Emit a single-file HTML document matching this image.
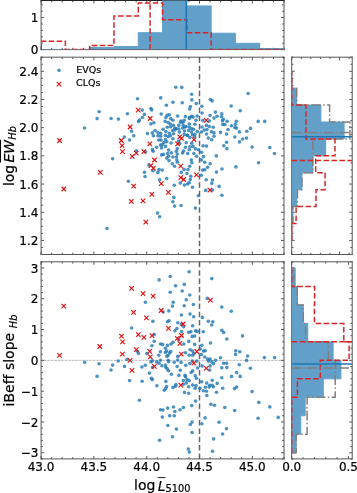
<!DOCTYPE html>
<html><head><meta charset="utf-8"><title>plot</title>
<style>html,body{margin:0;padding:0;background:#fff;overflow:hidden}svg{display:block}svg text{stroke:#000;stroke-width:0.2px}</style>
</head><body>
<svg width="357px" height="493px" viewBox="0 0 357 493" version="1.1">
<defs>
<style type="text/css">*{stroke-linejoin: round; stroke-linecap: butt}</style>
</defs>
<g id="figure_1">
<g id="patch_1">
<path d="M 0 493 
L 357 493 
L 357 0 
L 0 0 
z
" style="fill: #ffffff"/>
</g>
<g id="axes_1">
<g id="patch_2">
<path d="M 41.1 49.6 
L 284 49.6 
L 284 0.5 
L 41.1 0.5 
z
" style="fill: #ffffff"/>
</g>
<g id="matplotlib.axis_1">
<g id="xtick_1">
<g id="line2d_1">
<g>
<path d="M 0 0 L 0 -3" transform="translate(41.10 49.60)" style="fill: #555555; stroke: #555555; stroke: #555555"/>
</g>
</g>
<g id="line2d_2">
<g>
<path d="M 0 0 L 0 3" transform="translate(41.10 0.50)" style="fill: #555555; stroke: #555555; stroke: #555555"/>
</g>
</g>
</g>
<g id="xtick_2">
<g id="line2d_3">
<g>
<path d="M 0 0 L 0 -3" transform="translate(93.90 49.60)" style="fill: #555555; stroke: #555555; stroke: #555555"/>
</g>
</g>
<g id="line2d_4">
<g>
<path d="M 0 0 L 0 3" transform="translate(93.90 0.50)" style="fill: #555555; stroke: #555555; stroke: #555555"/>
</g>
</g>
</g>
<g id="xtick_3">
<g id="line2d_5">
<g>
<path d="M 0 0 L 0 -3" transform="translate(146.71 49.60)" style="fill: #555555; stroke: #555555; stroke: #555555"/>
</g>
</g>
<g id="line2d_6">
<g>
<path d="M 0 0 L 0 3" transform="translate(146.71 0.50)" style="fill: #555555; stroke: #555555; stroke: #555555"/>
</g>
</g>
</g>
<g id="xtick_4">
<g id="line2d_7">
<g>
<path d="M 0 0 L 0 -3" transform="translate(199.51 49.60)" style="fill: #555555; stroke: #555555; stroke: #555555"/>
</g>
</g>
<g id="line2d_8">
<g>
<path d="M 0 0 L 0 3" transform="translate(199.51 0.50)" style="fill: #555555; stroke: #555555; stroke: #555555"/>
</g>
</g>
</g>
<g id="xtick_5">
<g id="line2d_9">
<g>
<path d="M 0 0 L 0 -3" transform="translate(252.32 49.60)" style="fill: #555555; stroke: #555555; stroke: #555555"/>
</g>
</g>
<g id="line2d_10">
<g>
<path d="M 0 0 L 0 3" transform="translate(252.32 0.50)" style="fill: #555555; stroke: #555555; stroke: #555555"/>
</g>
</g>
</g>
<g id="xtick_6">
<g id="line2d_11">
<g>
<path d="M 0 0 L 0 -1.8" transform="translate(51.66 49.60)" style="fill: #555555; stroke: #555555; stroke: #555555"/>
</g>
</g>
<g id="line2d_12">
<g>
<path d="M 0 0 L 0 1.8" transform="translate(51.66 0.50)" style="fill: #555555; stroke: #555555; stroke: #555555"/>
</g>
</g>
</g>
<g id="xtick_7">
<g id="line2d_13">
<g>
<path d="M 0 0 L 0 -1.8" transform="translate(62.22 49.60)" style="fill: #555555; stroke: #555555; stroke: #555555"/>
</g>
</g>
<g id="line2d_14">
<g>
<path d="M 0 0 L 0 1.8" transform="translate(62.22 0.50)" style="fill: #555555; stroke: #555555; stroke: #555555"/>
</g>
</g>
</g>
<g id="xtick_8">
<g id="line2d_15">
<g>
<path d="M 0 0 L 0 -1.8" transform="translate(72.78 49.60)" style="fill: #555555; stroke: #555555; stroke: #555555"/>
</g>
</g>
<g id="line2d_16">
<g>
<path d="M 0 0 L 0 1.8" transform="translate(72.78 0.50)" style="fill: #555555; stroke: #555555; stroke: #555555"/>
</g>
</g>
</g>
<g id="xtick_9">
<g id="line2d_17">
<g>
<path d="M 0 0 L 0 -1.8" transform="translate(83.34 49.60)" style="fill: #555555; stroke: #555555; stroke: #555555"/>
</g>
</g>
<g id="line2d_18">
<g>
<path d="M 0 0 L 0 1.8" transform="translate(83.34 0.50)" style="fill: #555555; stroke: #555555; stroke: #555555"/>
</g>
</g>
</g>
<g id="xtick_10">
<g id="line2d_19">
<g>
<path d="M 0 0 L 0 -1.8" transform="translate(104.47 49.60)" style="fill: #555555; stroke: #555555; stroke: #555555"/>
</g>
</g>
<g id="line2d_20">
<g>
<path d="M 0 0 L 0 1.8" transform="translate(104.47 0.50)" style="fill: #555555; stroke: #555555; stroke: #555555"/>
</g>
</g>
</g>
<g id="xtick_11">
<g id="line2d_21">
<g>
<path d="M 0 0 L 0 -1.8" transform="translate(115.03 49.60)" style="fill: #555555; stroke: #555555; stroke: #555555"/>
</g>
</g>
<g id="line2d_22">
<g>
<path d="M 0 0 L 0 1.8" transform="translate(115.03 0.50)" style="fill: #555555; stroke: #555555; stroke: #555555"/>
</g>
</g>
</g>
<g id="xtick_12">
<g id="line2d_23">
<g>
<path d="M 0 0 L 0 -1.8" transform="translate(125.59 49.60)" style="fill: #555555; stroke: #555555; stroke: #555555"/>
</g>
</g>
<g id="line2d_24">
<g>
<path d="M 0 0 L 0 1.8" transform="translate(125.59 0.50)" style="fill: #555555; stroke: #555555; stroke: #555555"/>
</g>
</g>
</g>
<g id="xtick_13">
<g id="line2d_25">
<g>
<path d="M 0 0 L 0 -1.8" transform="translate(136.15 49.60)" style="fill: #555555; stroke: #555555; stroke: #555555"/>
</g>
</g>
<g id="line2d_26">
<g>
<path d="M 0 0 L 0 1.8" transform="translate(136.15 0.50)" style="fill: #555555; stroke: #555555; stroke: #555555"/>
</g>
</g>
</g>
<g id="xtick_14">
<g id="line2d_27">
<g>
<path d="M 0 0 L 0 -1.8" transform="translate(157.27 49.60)" style="fill: #555555; stroke: #555555; stroke: #555555"/>
</g>
</g>
<g id="line2d_28">
<g>
<path d="M 0 0 L 0 1.8" transform="translate(157.27 0.50)" style="fill: #555555; stroke: #555555; stroke: #555555"/>
</g>
</g>
</g>
<g id="xtick_15">
<g id="line2d_29">
<g>
<path d="M 0 0 L 0 -1.8" transform="translate(167.83 49.60)" style="fill: #555555; stroke: #555555; stroke: #555555"/>
</g>
</g>
<g id="line2d_30">
<g>
<path d="M 0 0 L 0 1.8" transform="translate(167.83 0.50)" style="fill: #555555; stroke: #555555; stroke: #555555"/>
</g>
</g>
</g>
<g id="xtick_16">
<g id="line2d_31">
<g>
<path d="M 0 0 L 0 -1.8" transform="translate(178.39 49.60)" style="fill: #555555; stroke: #555555; stroke: #555555"/>
</g>
</g>
<g id="line2d_32">
<g>
<path d="M 0 0 L 0 1.8" transform="translate(178.39 0.50)" style="fill: #555555; stroke: #555555; stroke: #555555"/>
</g>
</g>
</g>
<g id="xtick_17">
<g id="line2d_33">
<g>
<path d="M 0 0 L 0 -1.8" transform="translate(188.95 49.60)" style="fill: #555555; stroke: #555555; stroke: #555555"/>
</g>
</g>
<g id="line2d_34">
<g>
<path d="M 0 0 L 0 1.8" transform="translate(188.95 0.50)" style="fill: #555555; stroke: #555555; stroke: #555555"/>
</g>
</g>
</g>
<g id="xtick_18">
<g id="line2d_35">
<g>
<path d="M 0 0 L 0 -1.8" transform="translate(210.07 49.60)" style="fill: #555555; stroke: #555555; stroke: #555555"/>
</g>
</g>
<g id="line2d_36">
<g>
<path d="M 0 0 L 0 1.8" transform="translate(210.07 0.50)" style="fill: #555555; stroke: #555555; stroke: #555555"/>
</g>
</g>
</g>
<g id="xtick_19">
<g id="line2d_37">
<g>
<path d="M 0 0 L 0 -1.8" transform="translate(220.63 49.60)" style="fill: #555555; stroke: #555555; stroke: #555555"/>
</g>
</g>
<g id="line2d_38">
<g>
<path d="M 0 0 L 0 1.8" transform="translate(220.63 0.50)" style="fill: #555555; stroke: #555555; stroke: #555555"/>
</g>
</g>
</g>
<g id="xtick_20">
<g id="line2d_39">
<g>
<path d="M 0 0 L 0 -1.8" transform="translate(231.20 49.60)" style="fill: #555555; stroke: #555555; stroke: #555555"/>
</g>
</g>
<g id="line2d_40">
<g>
<path d="M 0 0 L 0 1.8" transform="translate(231.20 0.50)" style="fill: #555555; stroke: #555555; stroke: #555555"/>
</g>
</g>
</g>
<g id="xtick_21">
<g id="line2d_41">
<g>
<path d="M 0 0 L 0 -1.8" transform="translate(241.76 49.60)" style="fill: #555555; stroke: #555555; stroke: #555555"/>
</g>
</g>
<g id="line2d_42">
<g>
<path d="M 0 0 L 0 1.8" transform="translate(241.76 0.50)" style="fill: #555555; stroke: #555555; stroke: #555555"/>
</g>
</g>
</g>
<g id="xtick_22">
<g id="line2d_43">
<g>
<path d="M 0 0 L 0 -1.8" transform="translate(262.88 49.60)" style="fill: #555555; stroke: #555555; stroke: #555555"/>
</g>
</g>
<g id="line2d_44">
<g>
<path d="M 0 0 L 0 1.8" transform="translate(262.88 0.50)" style="fill: #555555; stroke: #555555; stroke: #555555"/>
</g>
</g>
</g>
<g id="xtick_23">
<g id="line2d_45">
<g>
<path d="M 0 0 L 0 -1.8" transform="translate(273.44 49.60)" style="fill: #555555; stroke: #555555; stroke: #555555"/>
</g>
</g>
<g id="line2d_46">
<g>
<path d="M 0 0 L 0 1.8" transform="translate(273.44 0.50)" style="fill: #555555; stroke: #555555; stroke: #555555"/>
</g>
</g>
</g>
<g id="xtick_24">
<g id="line2d_47">
<g>
<path d="M 0 0 L 0 -1.8" transform="translate(284.00 49.60)" style="fill: #555555; stroke: #555555; stroke: #555555"/>
</g>
</g>
<g id="line2d_48">
<g>
<path d="M 0 0 L 0 1.8" transform="translate(284.00 0.50)" style="fill: #555555; stroke: #555555; stroke: #555555"/>
</g>
</g>
</g>
</g>
<g id="matplotlib.axis_2">
<g id="ytick_1">
<g id="line2d_49">
<g>
<path d="M 0 0 L 3 0" transform="translate(41.10 49.60)" style="fill: #555555; stroke: #555555; stroke: #555555"/>
</g>
</g>
<g id="line2d_50">
<g>
<path d="M 0 0 L -3 0" transform="translate(284.00 49.60)" style="fill: #555555; stroke: #555555; stroke: #555555"/>
</g>
</g>
<g id="text_1">
<text style="font-size: 12px; font-family: 'DejaVu Sans', sans-serif; text-anchor: end" x="38.4" y="54.16" transform="rotate(-0 38.4 54.16)">0</text>
</g>
</g>
<g id="ytick_2">
<g id="line2d_51">
<g>
<path d="M 0 0 L 3 0" transform="translate(41.10 17.61)" style="fill: #555555; stroke: #555555; stroke: #555555"/>
</g>
</g>
<g id="line2d_52">
<g>
<path d="M 0 0 L -3 0" transform="translate(284.00 17.61)" style="fill: #555555; stroke: #555555; stroke: #555555"/>
</g>
</g>
<g id="text_2">
<text style="font-size: 12px; font-family: 'DejaVu Sans', sans-serif; text-anchor: end" x="38.4" y="22.17" transform="rotate(-0 38.4 22.17)">1</text>
</g>
</g>
<g id="ytick_3">
<g id="line2d_53">
<g>
<path d="M 0 0 L 1.8 0" transform="translate(41.10 43.20)" style="fill: #555555; stroke: #555555; stroke: #555555"/>
</g>
</g>
<g id="line2d_54">
<g>
<path d="M 0 0 L -1.8 0" transform="translate(284.00 43.20)" style="fill: #555555; stroke: #555555; stroke: #555555"/>
</g>
</g>
</g>
<g id="ytick_4">
<g id="line2d_55">
<g>
<path d="M 0 0 L 1.8 0" transform="translate(41.10 36.81)" style="fill: #555555; stroke: #555555; stroke: #555555"/>
</g>
</g>
<g id="line2d_56">
<g>
<path d="M 0 0 L -1.8 0" transform="translate(284.00 36.81)" style="fill: #555555; stroke: #555555; stroke: #555555"/>
</g>
</g>
</g>
<g id="ytick_5">
<g id="line2d_57">
<g>
<path d="M 0 0 L 1.8 0" transform="translate(41.10 30.41)" style="fill: #555555; stroke: #555555; stroke: #555555"/>
</g>
</g>
<g id="line2d_58">
<g>
<path d="M 0 0 L -1.8 0" transform="translate(284.00 30.41)" style="fill: #555555; stroke: #555555; stroke: #555555"/>
</g>
</g>
</g>
<g id="ytick_6">
<g id="line2d_59">
<g>
<path d="M 0 0 L 1.8 0" transform="translate(41.10 24.01)" style="fill: #555555; stroke: #555555; stroke: #555555"/>
</g>
</g>
<g id="line2d_60">
<g>
<path d="M 0 0 L -1.8 0" transform="translate(284.00 24.01)" style="fill: #555555; stroke: #555555; stroke: #555555"/>
</g>
</g>
</g>
<g id="ytick_7">
<g id="line2d_61">
<g>
<path d="M 0 0 L 1.8 0" transform="translate(41.10 11.22)" style="fill: #555555; stroke: #555555; stroke: #555555"/>
</g>
</g>
<g id="line2d_62">
<g>
<path d="M 0 0 L -1.8 0" transform="translate(284.00 11.22)" style="fill: #555555; stroke: #555555; stroke: #555555"/>
</g>
</g>
</g>
<g id="ytick_8">
<g id="line2d_63">
<g>
<path d="M 0 0 L 1.8 0" transform="translate(41.10 4.82)" style="fill: #555555; stroke: #555555; stroke: #555555"/>
</g>
</g>
<g id="line2d_64">
<g>
<path d="M 0 0 L -1.8 0" transform="translate(284.00 4.82)" style="fill: #555555; stroke: #555555; stroke: #555555"/>
</g>
</g>
</g>
</g>
<g id="patch_3">
<path d="M 41.1 49.6 
L 41.1 0.5 
" style="fill: none; stroke: #555555; stroke-linejoin: miter; stroke-linecap: square"/>
</g>
<g id="patch_4">
<path d="M 284 49.6 
L 284 0.5 
" style="fill: none; stroke: #555555; stroke-linejoin: miter; stroke-linecap: square"/>
</g>
<g id="patch_5">
<path d="M 41.1 49.6 
L 284 49.6 
" style="fill: none; stroke: #555555; stroke-linejoin: miter; stroke-linecap: square"/>
</g>
<g id="patch_6">
<path d="M 41.1 0.5 
L 284 0.5 
" style="fill: none; stroke: #222222; stroke-linejoin: miter; stroke-linecap: square"/>
</g>
<g id="patch_7">
<path d="M 41.1 49.6 
L 41.1 49.6 
L 65.39 49.6 
L 65.39 49.6 
L 89.68 49.6 
L 89.68 47.5 
L 113.97 47.5 
L 113.97 46.5 
L 138.26 46.5 
L 138.26 32.7 
L 162.55 32.7 
L 162.55 -5 
L 186.84 -5 
L 186.84 5.9 
L 211.13 5.9 
L 211.13 33.2 
L 235.42 33.2 
L 235.42 43.3 
L 259.71 43.3 
L 259.71 48.5 
L 284 48.5 
L 284 49.6 
" clip-path="url(#p415a4f59f0)" style="fill: #62a0ca; stroke: #62a0ca; stroke-linejoin: miter"/>
</g>
<g id="patch_8">
<path d="M 41.1 49.6 
L 41.1 41.25 
L 65.39 41.25 
L 65.39 49.6 
L 89.68 49.6 
L 89.68 45.4 
L 113.97 45.4 
L 113.97 16 
L 138.26 16 
L 138.26 3.1 
L 162.55 3.1 
L 162.55 19.7 
L 186.84 19.7 
L 186.84 32.7 
L 211.13 32.7 
L 211.13 49.6 
L 235.42 49.6 
L 235.42 49.6 
L 259.71 49.6 
L 259.71 49.6 
L 284 49.6 
L 284 49.6 
" clip-path="url(#p415a4f59f0)" style="fill: none; stroke-dasharray: 5.55,2.4; stroke-dashoffset: 0; stroke: #d62728; stroke-width: 1.5; stroke-linejoin: miter"/>
</g>
<g id="line2d_65">
<path d="M 186.2 49.6 
L 186.2 0.5 
" clip-path="url(#p415a4f59f0)" style="fill: none; stroke: #1f77b4; stroke-width: 1.5; stroke-linecap: square"/>
</g>
<g id="line2d_66">
<path d="M 150.1 49.6 
L 150.1 0.5 
" clip-path="url(#p415a4f59f0)" style="fill: none; stroke-dasharray: 5.55,2.4; stroke-dashoffset: 0; stroke: #d62728; stroke-width: 1.5"/>
</g>
</g>
<g id="axes_2">
<g id="patch_9">
<path d="M 41.1 254.5 
L 284 254.5 
L 284 57.2 
L 41.1 57.2 
z
" style="fill: #ffffff"/>
</g>
<g id="PathCollection_1">
<path d="M 59 72 
C 59.48 72 59.94 71.81 60.27 71.47 
C 60.61 71.14 60.8 70.68 60.8 70.2 
C 60.8 69.72 60.61 69.26 60.27 68.93 
C 59.94 68.59 59.48 68.4 59 68.4 
C 58.52 68.4 58.06 68.59 57.73 68.93 
C 57.39 69.26 57.2 69.72 57.2 70.2 
C 57.2 70.68 57.39 71.14 57.73 71.47 
C 58.06 71.81 58.52 72 59 72 
z
" clip-path="url(#p4fbd7197ea)" style="fill: #1f77b4; fill-opacity: 0.8"/>
</g>
<g id="PathCollection_2">
<g clip-path="url(#p4fbd7197ea)">
<path d="M -2.24 2.24 L 2.24 -2.24 M -2.24 -2.24 L 2.24 2.24" transform="translate(59.00 84.10)" style="fill: #dd1111; stroke: #dd1111; stroke-width: 1.15; stroke: #dd1111; stroke-width: 1.15"/>
</g>
</g>
<g id="line2d_67">
<path d="M 199.51 254.5 
L 199.51 57.2 
" clip-path="url(#p4fbd7197ea)" style="fill: none; stroke-dasharray: 5.5,2.83; stroke-dashoffset: 0; stroke: #666666; stroke-width: 1.5"/>
</g>
<g id="matplotlib.axis_3">
<g id="xtick_25">
<g id="line2d_68">
<g>
<path d="M 0 0 L 0 -3" transform="translate(41.10 254.50)" style="fill: #555555; stroke: #555555; stroke: #555555"/>
</g>
</g>
<g id="line2d_69">
<g>
<path d="M 0 0 L 0 3" transform="translate(41.10 57.20)" style="fill: #555555; stroke: #555555; stroke: #555555"/>
</g>
</g>
</g>
<g id="xtick_26">
<g id="line2d_70">
<g>
<path d="M 0 0 L 0 -3" transform="translate(93.90 254.50)" style="fill: #555555; stroke: #555555; stroke: #555555"/>
</g>
</g>
<g id="line2d_71">
<g>
<path d="M 0 0 L 0 3" transform="translate(93.90 57.20)" style="fill: #555555; stroke: #555555; stroke: #555555"/>
</g>
</g>
</g>
<g id="xtick_27">
<g id="line2d_72">
<g>
<path d="M 0 0 L 0 -3" transform="translate(146.71 254.50)" style="fill: #555555; stroke: #555555; stroke: #555555"/>
</g>
</g>
<g id="line2d_73">
<g>
<path d="M 0 0 L 0 3" transform="translate(146.71 57.20)" style="fill: #555555; stroke: #555555; stroke: #555555"/>
</g>
</g>
</g>
<g id="xtick_28">
<g id="line2d_74">
<g>
<path d="M 0 0 L 0 -3" transform="translate(199.51 254.50)" style="fill: #555555; stroke: #555555; stroke: #555555"/>
</g>
</g>
<g id="line2d_75">
<g>
<path d="M 0 0 L 0 3" transform="translate(199.51 57.20)" style="fill: #555555; stroke: #555555; stroke: #555555"/>
</g>
</g>
</g>
<g id="xtick_29">
<g id="line2d_76">
<g>
<path d="M 0 0 L 0 -3" transform="translate(252.32 254.50)" style="fill: #555555; stroke: #555555; stroke: #555555"/>
</g>
</g>
<g id="line2d_77">
<g>
<path d="M 0 0 L 0 3" transform="translate(252.32 57.20)" style="fill: #555555; stroke: #555555; stroke: #555555"/>
</g>
</g>
</g>
<g id="xtick_30">
<g id="line2d_78">
<g>
<path d="M 0 0 L 0 -1.8" transform="translate(51.66 254.50)" style="fill: #555555; stroke: #555555; stroke: #555555"/>
</g>
</g>
<g id="line2d_79">
<g>
<path d="M 0 0 L 0 1.8" transform="translate(51.66 57.20)" style="fill: #555555; stroke: #555555; stroke: #555555"/>
</g>
</g>
</g>
<g id="xtick_31">
<g id="line2d_80">
<g>
<path d="M 0 0 L 0 -1.8" transform="translate(62.22 254.50)" style="fill: #555555; stroke: #555555; stroke: #555555"/>
</g>
</g>
<g id="line2d_81">
<g>
<path d="M 0 0 L 0 1.8" transform="translate(62.22 57.20)" style="fill: #555555; stroke: #555555; stroke: #555555"/>
</g>
</g>
</g>
<g id="xtick_32">
<g id="line2d_82">
<g>
<path d="M 0 0 L 0 -1.8" transform="translate(72.78 254.50)" style="fill: #555555; stroke: #555555; stroke: #555555"/>
</g>
</g>
<g id="line2d_83">
<g>
<path d="M 0 0 L 0 1.8" transform="translate(72.78 57.20)" style="fill: #555555; stroke: #555555; stroke: #555555"/>
</g>
</g>
</g>
<g id="xtick_33">
<g id="line2d_84">
<g>
<path d="M 0 0 L 0 -1.8" transform="translate(83.34 254.50)" style="fill: #555555; stroke: #555555; stroke: #555555"/>
</g>
</g>
<g id="line2d_85">
<g>
<path d="M 0 0 L 0 1.8" transform="translate(83.34 57.20)" style="fill: #555555; stroke: #555555; stroke: #555555"/>
</g>
</g>
</g>
<g id="xtick_34">
<g id="line2d_86">
<g>
<path d="M 0 0 L 0 -1.8" transform="translate(104.47 254.50)" style="fill: #555555; stroke: #555555; stroke: #555555"/>
</g>
</g>
<g id="line2d_87">
<g>
<path d="M 0 0 L 0 1.8" transform="translate(104.47 57.20)" style="fill: #555555; stroke: #555555; stroke: #555555"/>
</g>
</g>
</g>
<g id="xtick_35">
<g id="line2d_88">
<g>
<path d="M 0 0 L 0 -1.8" transform="translate(115.03 254.50)" style="fill: #555555; stroke: #555555; stroke: #555555"/>
</g>
</g>
<g id="line2d_89">
<g>
<path d="M 0 0 L 0 1.8" transform="translate(115.03 57.20)" style="fill: #555555; stroke: #555555; stroke: #555555"/>
</g>
</g>
</g>
<g id="xtick_36">
<g id="line2d_90">
<g>
<path d="M 0 0 L 0 -1.8" transform="translate(125.59 254.50)" style="fill: #555555; stroke: #555555; stroke: #555555"/>
</g>
</g>
<g id="line2d_91">
<g>
<path d="M 0 0 L 0 1.8" transform="translate(125.59 57.20)" style="fill: #555555; stroke: #555555; stroke: #555555"/>
</g>
</g>
</g>
<g id="xtick_37">
<g id="line2d_92">
<g>
<path d="M 0 0 L 0 -1.8" transform="translate(136.15 254.50)" style="fill: #555555; stroke: #555555; stroke: #555555"/>
</g>
</g>
<g id="line2d_93">
<g>
<path d="M 0 0 L 0 1.8" transform="translate(136.15 57.20)" style="fill: #555555; stroke: #555555; stroke: #555555"/>
</g>
</g>
</g>
<g id="xtick_38">
<g id="line2d_94">
<g>
<path d="M 0 0 L 0 -1.8" transform="translate(157.27 254.50)" style="fill: #555555; stroke: #555555; stroke: #555555"/>
</g>
</g>
<g id="line2d_95">
<g>
<path d="M 0 0 L 0 1.8" transform="translate(157.27 57.20)" style="fill: #555555; stroke: #555555; stroke: #555555"/>
</g>
</g>
</g>
<g id="xtick_39">
<g id="line2d_96">
<g>
<path d="M 0 0 L 0 -1.8" transform="translate(167.83 254.50)" style="fill: #555555; stroke: #555555; stroke: #555555"/>
</g>
</g>
<g id="line2d_97">
<g>
<path d="M 0 0 L 0 1.8" transform="translate(167.83 57.20)" style="fill: #555555; stroke: #555555; stroke: #555555"/>
</g>
</g>
</g>
<g id="xtick_40">
<g id="line2d_98">
<g>
<path d="M 0 0 L 0 -1.8" transform="translate(178.39 254.50)" style="fill: #555555; stroke: #555555; stroke: #555555"/>
</g>
</g>
<g id="line2d_99">
<g>
<path d="M 0 0 L 0 1.8" transform="translate(178.39 57.20)" style="fill: #555555; stroke: #555555; stroke: #555555"/>
</g>
</g>
</g>
<g id="xtick_41">
<g id="line2d_100">
<g>
<path d="M 0 0 L 0 -1.8" transform="translate(188.95 254.50)" style="fill: #555555; stroke: #555555; stroke: #555555"/>
</g>
</g>
<g id="line2d_101">
<g>
<path d="M 0 0 L 0 1.8" transform="translate(188.95 57.20)" style="fill: #555555; stroke: #555555; stroke: #555555"/>
</g>
</g>
</g>
<g id="xtick_42">
<g id="line2d_102">
<g>
<path d="M 0 0 L 0 -1.8" transform="translate(210.07 254.50)" style="fill: #555555; stroke: #555555; stroke: #555555"/>
</g>
</g>
<g id="line2d_103">
<g>
<path d="M 0 0 L 0 1.8" transform="translate(210.07 57.20)" style="fill: #555555; stroke: #555555; stroke: #555555"/>
</g>
</g>
</g>
<g id="xtick_43">
<g id="line2d_104">
<g>
<path d="M 0 0 L 0 -1.8" transform="translate(220.63 254.50)" style="fill: #555555; stroke: #555555; stroke: #555555"/>
</g>
</g>
<g id="line2d_105">
<g>
<path d="M 0 0 L 0 1.8" transform="translate(220.63 57.20)" style="fill: #555555; stroke: #555555; stroke: #555555"/>
</g>
</g>
</g>
<g id="xtick_44">
<g id="line2d_106">
<g>
<path d="M 0 0 L 0 -1.8" transform="translate(231.20 254.50)" style="fill: #555555; stroke: #555555; stroke: #555555"/>
</g>
</g>
<g id="line2d_107">
<g>
<path d="M 0 0 L 0 1.8" transform="translate(231.20 57.20)" style="fill: #555555; stroke: #555555; stroke: #555555"/>
</g>
</g>
</g>
<g id="xtick_45">
<g id="line2d_108">
<g>
<path d="M 0 0 L 0 -1.8" transform="translate(241.76 254.50)" style="fill: #555555; stroke: #555555; stroke: #555555"/>
</g>
</g>
<g id="line2d_109">
<g>
<path d="M 0 0 L 0 1.8" transform="translate(241.76 57.20)" style="fill: #555555; stroke: #555555; stroke: #555555"/>
</g>
</g>
</g>
<g id="xtick_46">
<g id="line2d_110">
<g>
<path d="M 0 0 L 0 -1.8" transform="translate(262.88 254.50)" style="fill: #555555; stroke: #555555; stroke: #555555"/>
</g>
</g>
<g id="line2d_111">
<g>
<path d="M 0 0 L 0 1.8" transform="translate(262.88 57.20)" style="fill: #555555; stroke: #555555; stroke: #555555"/>
</g>
</g>
</g>
<g id="xtick_47">
<g id="line2d_112">
<g>
<path d="M 0 0 L 0 -1.8" transform="translate(273.44 254.50)" style="fill: #555555; stroke: #555555; stroke: #555555"/>
</g>
</g>
<g id="line2d_113">
<g>
<path d="M 0 0 L 0 1.8" transform="translate(273.44 57.20)" style="fill: #555555; stroke: #555555; stroke: #555555"/>
</g>
</g>
</g>
<g id="xtick_48">
<g id="line2d_114">
<g>
<path d="M 0 0 L 0 -1.8" transform="translate(284.00 254.50)" style="fill: #555555; stroke: #555555; stroke: #555555"/>
</g>
</g>
<g id="line2d_115">
<g>
<path d="M 0 0 L 0 1.8" transform="translate(284.00 57.20)" style="fill: #555555; stroke: #555555; stroke: #555555"/>
</g>
</g>
</g>
</g>
<g id="matplotlib.axis_4">
<g id="ytick_9">
<g id="line2d_116">
<g>
<path d="M 0 0 L 3 0" transform="translate(41.10 240.41)" style="fill: #555555; stroke: #555555; stroke: #555555"/>
</g>
</g>
<g id="line2d_117">
<g>
<path d="M 0 0 L -3 0" transform="translate(284.00 240.41)" style="fill: #555555; stroke: #555555; stroke: #555555"/>
</g>
</g>
<g id="text_3">
<text style="font-size: 12px; font-family: 'DejaVu Sans', sans-serif; text-anchor: end" x="38.4" y="244.97" transform="rotate(-0 38.4 244.97)">1.2</text>
</g>
</g>
<g id="ytick_10">
<g id="line2d_118">
<g>
<path d="M 0 0 L 3 0" transform="translate(41.10 212.22)" style="fill: #555555; stroke: #555555; stroke: #555555"/>
</g>
</g>
<g id="line2d_119">
<g>
<path d="M 0 0 L -3 0" transform="translate(284.00 212.22)" style="fill: #555555; stroke: #555555; stroke: #555555"/>
</g>
</g>
<g id="text_4">
<text style="font-size: 12px; font-family: 'DejaVu Sans', sans-serif; text-anchor: end" x="38.4" y="216.78" transform="rotate(-0 38.4 216.78)">1.4</text>
</g>
</g>
<g id="ytick_11">
<g id="line2d_120">
<g>
<path d="M 0 0 L 3 0" transform="translate(41.10 184.04)" style="fill: #555555; stroke: #555555; stroke: #555555"/>
</g>
</g>
<g id="line2d_121">
<g>
<path d="M 0 0 L -3 0" transform="translate(284.00 184.04)" style="fill: #555555; stroke: #555555; stroke: #555555"/>
</g>
</g>
<g id="text_5">
<text style="font-size: 12px; font-family: 'DejaVu Sans', sans-serif; text-anchor: end" x="38.4" y="188.59" transform="rotate(-0 38.4 188.59)">1.6</text>
</g>
</g>
<g id="ytick_12">
<g id="line2d_122">
<g>
<path d="M 0 0 L 3 0" transform="translate(41.10 155.85)" style="fill: #555555; stroke: #555555; stroke: #555555"/>
</g>
</g>
<g id="line2d_123">
<g>
<path d="M 0 0 L -3 0" transform="translate(284.00 155.85)" style="fill: #555555; stroke: #555555; stroke: #555555"/>
</g>
</g>
<g id="text_6">
<text style="font-size: 12px; font-family: 'DejaVu Sans', sans-serif; text-anchor: end" x="38.4" y="160.41" transform="rotate(-0 38.4 160.41)">1.8</text>
</g>
</g>
<g id="ytick_13">
<g id="line2d_124">
<g>
<path d="M 0 0 L 3 0" transform="translate(41.10 127.66)" style="fill: #555555; stroke: #555555; stroke: #555555"/>
</g>
</g>
<g id="line2d_125">
<g>
<path d="M 0 0 L -3 0" transform="translate(284.00 127.66)" style="fill: #555555; stroke: #555555; stroke: #555555"/>
</g>
</g>
<g id="text_7">
<text style="font-size: 12px; font-family: 'DejaVu Sans', sans-serif; text-anchor: end" x="38.4" y="132.22" transform="rotate(-0 38.4 132.22)">2.0</text>
</g>
</g>
<g id="ytick_14">
<g id="line2d_126">
<g>
<path d="M 0 0 L 3 0" transform="translate(41.10 99.48)" style="fill: #555555; stroke: #555555; stroke: #555555"/>
</g>
</g>
<g id="line2d_127">
<g>
<path d="M 0 0 L -3 0" transform="translate(284.00 99.48)" style="fill: #555555; stroke: #555555; stroke: #555555"/>
</g>
</g>
<g id="text_8">
<text style="font-size: 12px; font-family: 'DejaVu Sans', sans-serif; text-anchor: end" x="38.4" y="104.04" transform="rotate(-0 38.4 104.04)">2.2</text>
</g>
</g>
<g id="ytick_15">
<g id="line2d_128">
<g>
<path d="M 0 0 L 3 0" transform="translate(41.10 71.29)" style="fill: #555555; stroke: #555555; stroke: #555555"/>
</g>
</g>
<g id="line2d_129">
<g>
<path d="M 0 0 L -3 0" transform="translate(284.00 71.29)" style="fill: #555555; stroke: #555555; stroke: #555555"/>
</g>
</g>
<g id="text_9">
<text style="font-size: 12px; font-family: 'DejaVu Sans', sans-serif; text-anchor: end" x="38.4" y="75.85" transform="rotate(-0 38.4 75.85)">2.4</text>
</g>
</g>
<g id="ytick_16">
<g id="line2d_130">
<g>
<path d="M 0 0 L 1.8 0" transform="translate(41.10 254.50)" style="fill: #555555; stroke: #555555; stroke: #555555"/>
</g>
</g>
<g id="line2d_131">
<g>
<path d="M 0 0 L -1.8 0" transform="translate(284.00 254.50)" style="fill: #555555; stroke: #555555; stroke: #555555"/>
</g>
</g>
</g>
<g id="ytick_17">
<g id="line2d_132">
<g>
<path d="M 0 0 L 1.8 0" transform="translate(41.10 247.45)" style="fill: #555555; stroke: #555555; stroke: #555555"/>
</g>
</g>
<g id="line2d_133">
<g>
<path d="M 0 0 L -1.8 0" transform="translate(284.00 247.45)" style="fill: #555555; stroke: #555555; stroke: #555555"/>
</g>
</g>
</g>
<g id="ytick_18">
<g id="line2d_134">
<g>
<path d="M 0 0 L 1.8 0" transform="translate(41.10 233.36)" style="fill: #555555; stroke: #555555; stroke: #555555"/>
</g>
</g>
<g id="line2d_135">
<g>
<path d="M 0 0 L -1.8 0" transform="translate(284.00 233.36)" style="fill: #555555; stroke: #555555; stroke: #555555"/>
</g>
</g>
</g>
<g id="ytick_19">
<g id="line2d_136">
<g>
<path d="M 0 0 L 1.8 0" transform="translate(41.10 226.31)" style="fill: #555555; stroke: #555555; stroke: #555555"/>
</g>
</g>
<g id="line2d_137">
<g>
<path d="M 0 0 L -1.8 0" transform="translate(284.00 226.31)" style="fill: #555555; stroke: #555555; stroke: #555555"/>
</g>
</g>
</g>
<g id="ytick_20">
<g id="line2d_138">
<g>
<path d="M 0 0 L 1.8 0" transform="translate(41.10 219.27)" style="fill: #555555; stroke: #555555; stroke: #555555"/>
</g>
</g>
<g id="line2d_139">
<g>
<path d="M 0 0 L -1.8 0" transform="translate(284.00 219.27)" style="fill: #555555; stroke: #555555; stroke: #555555"/>
</g>
</g>
</g>
<g id="ytick_21">
<g id="line2d_140">
<g>
<path d="M 0 0 L 1.8 0" transform="translate(41.10 205.18)" style="fill: #555555; stroke: #555555; stroke: #555555"/>
</g>
</g>
<g id="line2d_141">
<g>
<path d="M 0 0 L -1.8 0" transform="translate(284.00 205.18)" style="fill: #555555; stroke: #555555; stroke: #555555"/>
</g>
</g>
</g>
<g id="ytick_22">
<g id="line2d_142">
<g>
<path d="M 0 0 L 1.8 0" transform="translate(41.10 198.13)" style="fill: #555555; stroke: #555555; stroke: #555555"/>
</g>
</g>
<g id="line2d_143">
<g>
<path d="M 0 0 L -1.8 0" transform="translate(284.00 198.13)" style="fill: #555555; stroke: #555555; stroke: #555555"/>
</g>
</g>
</g>
<g id="ytick_23">
<g id="line2d_144">
<g>
<path d="M 0 0 L 1.8 0" transform="translate(41.10 191.08)" style="fill: #555555; stroke: #555555; stroke: #555555"/>
</g>
</g>
<g id="line2d_145">
<g>
<path d="M 0 0 L -1.8 0" transform="translate(284.00 191.08)" style="fill: #555555; stroke: #555555; stroke: #555555"/>
</g>
</g>
</g>
<g id="ytick_24">
<g id="line2d_146">
<g>
<path d="M 0 0 L 1.8 0" transform="translate(41.10 176.99)" style="fill: #555555; stroke: #555555; stroke: #555555"/>
</g>
</g>
<g id="line2d_147">
<g>
<path d="M 0 0 L -1.8 0" transform="translate(284.00 176.99)" style="fill: #555555; stroke: #555555; stroke: #555555"/>
</g>
</g>
</g>
<g id="ytick_25">
<g id="line2d_148">
<g>
<path d="M 0 0 L 1.8 0" transform="translate(41.10 169.94)" style="fill: #555555; stroke: #555555; stroke: #555555"/>
</g>
</g>
<g id="line2d_149">
<g>
<path d="M 0 0 L -1.8 0" transform="translate(284.00 169.94)" style="fill: #555555; stroke: #555555; stroke: #555555"/>
</g>
</g>
</g>
<g id="ytick_26">
<g id="line2d_150">
<g>
<path d="M 0 0 L 1.8 0" transform="translate(41.10 162.90)" style="fill: #555555; stroke: #555555; stroke: #555555"/>
</g>
</g>
<g id="line2d_151">
<g>
<path d="M 0 0 L -1.8 0" transform="translate(284.00 162.90)" style="fill: #555555; stroke: #555555; stroke: #555555"/>
</g>
</g>
</g>
<g id="ytick_27">
<g id="line2d_152">
<g>
<path d="M 0 0 L 1.8 0" transform="translate(41.10 148.80)" style="fill: #555555; stroke: #555555; stroke: #555555"/>
</g>
</g>
<g id="line2d_153">
<g>
<path d="M 0 0 L -1.8 0" transform="translate(284.00 148.80)" style="fill: #555555; stroke: #555555; stroke: #555555"/>
</g>
</g>
</g>
<g id="ytick_28">
<g id="line2d_154">
<g>
<path d="M 0 0 L 1.8 0" transform="translate(41.10 141.76)" style="fill: #555555; stroke: #555555; stroke: #555555"/>
</g>
</g>
<g id="line2d_155">
<g>
<path d="M 0 0 L -1.8 0" transform="translate(284.00 141.76)" style="fill: #555555; stroke: #555555; stroke: #555555"/>
</g>
</g>
</g>
<g id="ytick_29">
<g id="line2d_156">
<g>
<path d="M 0 0 L 1.8 0" transform="translate(41.10 134.71)" style="fill: #555555; stroke: #555555; stroke: #555555"/>
</g>
</g>
<g id="line2d_157">
<g>
<path d="M 0 0 L -1.8 0" transform="translate(284.00 134.71)" style="fill: #555555; stroke: #555555; stroke: #555555"/>
</g>
</g>
</g>
<g id="ytick_30">
<g id="line2d_158">
<g>
<path d="M 0 0 L 1.8 0" transform="translate(41.10 120.62)" style="fill: #555555; stroke: #555555; stroke: #555555"/>
</g>
</g>
<g id="line2d_159">
<g>
<path d="M 0 0 L -1.8 0" transform="translate(284.00 120.62)" style="fill: #555555; stroke: #555555; stroke: #555555"/>
</g>
</g>
</g>
<g id="ytick_31">
<g id="line2d_160">
<g>
<path d="M 0 0 L 1.8 0" transform="translate(41.10 113.57)" style="fill: #555555; stroke: #555555; stroke: #555555"/>
</g>
</g>
<g id="line2d_161">
<g>
<path d="M 0 0 L -1.8 0" transform="translate(284.00 113.57)" style="fill: #555555; stroke: #555555; stroke: #555555"/>
</g>
</g>
</g>
<g id="ytick_32">
<g id="line2d_162">
<g>
<path d="M 0 0 L 1.8 0" transform="translate(41.10 106.53)" style="fill: #555555; stroke: #555555; stroke: #555555"/>
</g>
</g>
<g id="line2d_163">
<g>
<path d="M 0 0 L -1.8 0" transform="translate(284.00 106.53)" style="fill: #555555; stroke: #555555; stroke: #555555"/>
</g>
</g>
</g>
<g id="ytick_33">
<g id="line2d_164">
<g>
<path d="M 0 0 L 1.8 0" transform="translate(41.10 92.43)" style="fill: #555555; stroke: #555555; stroke: #555555"/>
</g>
</g>
<g id="line2d_165">
<g>
<path d="M 0 0 L -1.8 0" transform="translate(284.00 92.43)" style="fill: #555555; stroke: #555555; stroke: #555555"/>
</g>
</g>
</g>
<g id="ytick_34">
<g id="line2d_166">
<g>
<path d="M 0 0 L 1.8 0" transform="translate(41.10 85.39)" style="fill: #555555; stroke: #555555; stroke: #555555"/>
</g>
</g>
<g id="line2d_167">
<g>
<path d="M 0 0 L -1.8 0" transform="translate(284.00 85.39)" style="fill: #555555; stroke: #555555; stroke: #555555"/>
</g>
</g>
</g>
<g id="ytick_35">
<g id="line2d_168">
<g>
<path d="M 0 0 L 1.8 0" transform="translate(41.10 78.34)" style="fill: #555555; stroke: #555555; stroke: #555555"/>
</g>
</g>
<g id="line2d_169">
<g>
<path d="M 0 0 L -1.8 0" transform="translate(284.00 78.34)" style="fill: #555555; stroke: #555555; stroke: #555555"/>
</g>
</g>
</g>
<g id="ytick_36">
<g id="line2d_170">
<g>
<path d="M 0 0 L 1.8 0" transform="translate(41.10 64.25)" style="fill: #555555; stroke: #555555; stroke: #555555"/>
</g>
</g>
<g id="line2d_171">
<g>
<path d="M 0 0 L -1.8 0" transform="translate(284.00 64.25)" style="fill: #555555; stroke: #555555; stroke: #555555"/>
</g>
</g>
</g>
<g id="ytick_37">
<g id="line2d_172">
<g>
<path d="M 0 0 L 1.8 0" transform="translate(41.10 57.20)" style="fill: #555555; stroke: #555555; stroke: #555555"/>
</g>
</g>
<g id="line2d_173">
<g>
<path d="M 0 0 L -1.8 0" transform="translate(284.00 57.20)" style="fill: #555555; stroke: #555555; stroke: #555555"/>
</g>
</g>
</g>
<g id="text_10">
<g transform="translate(13.98 186.09) rotate(-90)">
<text>
<tspan x="0" y="-0.33" style="font-size: 14px; font-family: 'DejaVu Sans', sans-serif">l</tspan>
<tspan x="3.89" y="-0.33" style="font-size: 14px; font-family: 'DejaVu Sans', sans-serif">o</tspan>
<tspan x="12.46" y="-0.33" style="font-size: 14px; font-family: 'DejaVu Sans', sans-serif">g</tspan>
<tspan x="23.61" y="0.08" style="font-style: oblique; font-size: 14px; font-family: 'DejaVu Sans', sans-serif">E</tspan>
<tspan x="32.46" y="0.08" style="font-style: oblique; font-size: 14px; font-family: 'DejaVu Sans', sans-serif">W</tspan>
<tspan x="46.44" y="1.97" style="font-style: oblique; font-size: 9.8px; font-family: 'DejaVu Sans', sans-serif">H</tspan>
<tspan x="53.81" y="1.97" style="font-style: oblique; font-size: 9.8px; font-family: 'DejaVu Sans', sans-serif">b</tspan>
</text>
<rect x="23.61" y="-13.95" width="22.69" height="1"/>
</g>
</g>
</g>
<g id="PathCollection_3">
<g clip-path="url(#p4fbd7197ea)">
<circle cx="175.80" cy="87.30" r="1.8" style="fill: #1f77b4; fill-opacity: 0.8"/>
</g>
<g clip-path="url(#p4fbd7197ea)">
<circle cx="181.80" cy="87.40" r="1.8" style="fill: #1f77b4; fill-opacity: 0.8"/>
</g>
<g clip-path="url(#p4fbd7197ea)">
<circle cx="191.70" cy="94.30" r="1.8" style="fill: #1f77b4; fill-opacity: 0.8"/>
</g>
<g clip-path="url(#p4fbd7197ea)">
<circle cx="248.10" cy="93.50" r="1.8" style="fill: #1f77b4; fill-opacity: 0.8"/>
</g>
<g clip-path="url(#p4fbd7197ea)">
<circle cx="99.10" cy="111.80" r="1.8" style="fill: #1f77b4; fill-opacity: 0.8"/>
</g>
<g clip-path="url(#p4fbd7197ea)">
<circle cx="97.10" cy="118.60" r="1.8" style="fill: #1f77b4; fill-opacity: 0.8"/>
</g>
<g clip-path="url(#p4fbd7197ea)">
<circle cx="111.10" cy="118.50" r="1.8" style="fill: #1f77b4; fill-opacity: 0.8"/>
</g>
<g clip-path="url(#p4fbd7197ea)">
<circle cx="118.40" cy="119.10" r="1.8" style="fill: #1f77b4; fill-opacity: 0.8"/>
</g>
<g clip-path="url(#p4fbd7197ea)">
<circle cx="84.50" cy="128.00" r="1.8" style="fill: #1f77b4; fill-opacity: 0.8"/>
</g>
<g clip-path="url(#p4fbd7197ea)">
<circle cx="137.50" cy="98.70" r="1.8" style="fill: #1f77b4; fill-opacity: 0.8"/>
</g>
<g clip-path="url(#p4fbd7197ea)">
<circle cx="160.70" cy="97.90" r="1.8" style="fill: #1f77b4; fill-opacity: 0.8"/>
</g>
<g clip-path="url(#p4fbd7197ea)">
<circle cx="127.40" cy="113.80" r="1.8" style="fill: #1f77b4; fill-opacity: 0.8"/>
</g>
<g clip-path="url(#p4fbd7197ea)">
<circle cx="142.20" cy="110.10" r="1.8" style="fill: #1f77b4; fill-opacity: 0.8"/>
</g>
<g clip-path="url(#p4fbd7197ea)">
<circle cx="150.90" cy="108.50" r="1.8" style="fill: #1f77b4; fill-opacity: 0.8"/>
</g>
<g clip-path="url(#p4fbd7197ea)">
<circle cx="151.70" cy="109.90" r="1.8" style="fill: #1f77b4; fill-opacity: 0.8"/>
</g>
<g clip-path="url(#p4fbd7197ea)">
<circle cx="144.40" cy="114.40" r="1.8" style="fill: #1f77b4; fill-opacity: 0.8"/>
</g>
<g clip-path="url(#p4fbd7197ea)">
<circle cx="161.20" cy="114.00" r="1.8" style="fill: #1f77b4; fill-opacity: 0.8"/>
</g>
<g clip-path="url(#p4fbd7197ea)">
<circle cx="142.40" cy="117.50" r="1.8" style="fill: #1f77b4; fill-opacity: 0.8"/>
</g>
<g clip-path="url(#p4fbd7197ea)">
<circle cx="139.40" cy="120.00" r="1.8" style="fill: #1f77b4; fill-opacity: 0.8"/>
</g>
<g clip-path="url(#p4fbd7197ea)">
<circle cx="138.60" cy="121.40" r="1.8" style="fill: #1f77b4; fill-opacity: 0.8"/>
</g>
<g clip-path="url(#p4fbd7197ea)">
<circle cx="150.90" cy="123.90" r="1.8" style="fill: #1f77b4; fill-opacity: 0.8"/>
</g>
<g clip-path="url(#p4fbd7197ea)">
<circle cx="153.90" cy="122.80" r="1.8" style="fill: #1f77b4; fill-opacity: 0.8"/>
</g>
<g clip-path="url(#p4fbd7197ea)">
<circle cx="131.50" cy="131.20" r="1.8" style="fill: #1f77b4; fill-opacity: 0.8"/>
</g>
<g clip-path="url(#p4fbd7197ea)">
<circle cx="133.80" cy="135.70" r="1.8" style="fill: #1f77b4; fill-opacity: 0.8"/>
</g>
<g clip-path="url(#p4fbd7197ea)">
<circle cx="147.50" cy="133.60" r="1.8" style="fill: #1f77b4; fill-opacity: 0.8"/>
</g>
<g clip-path="url(#p4fbd7197ea)">
<circle cx="124.30" cy="137.00" r="1.8" style="fill: #1f77b4; fill-opacity: 0.8"/>
</g>
<g clip-path="url(#p4fbd7197ea)">
<circle cx="152.30" cy="132.90" r="1.8" style="fill: #1f77b4; fill-opacity: 0.8"/>
</g>
<g clip-path="url(#p4fbd7197ea)">
<circle cx="155.10" cy="130.60" r="1.8" style="fill: #1f77b4; fill-opacity: 0.8"/>
</g>
<g clip-path="url(#p4fbd7197ea)">
<circle cx="157.90" cy="132.60" r="1.8" style="fill: #1f77b4; fill-opacity: 0.8"/>
</g>
<g clip-path="url(#p4fbd7197ea)">
<circle cx="160.70" cy="133.40" r="1.8" style="fill: #1f77b4; fill-opacity: 0.8"/>
</g>
<g clip-path="url(#p4fbd7197ea)">
<circle cx="153.40" cy="135.70" r="1.8" style="fill: #1f77b4; fill-opacity: 0.8"/>
</g>
<g clip-path="url(#p4fbd7197ea)">
<circle cx="157.90" cy="135.70" r="1.8" style="fill: #1f77b4; fill-opacity: 0.8"/>
</g>
<g clip-path="url(#p4fbd7197ea)">
<circle cx="160.70" cy="136.20" r="1.8" style="fill: #1f77b4; fill-opacity: 0.8"/>
</g>
<g clip-path="url(#p4fbd7197ea)">
<circle cx="172.90" cy="102.20" r="1.8" style="fill: #1f77b4; fill-opacity: 0.8"/>
</g>
<g clip-path="url(#p4fbd7197ea)">
<circle cx="166.40" cy="105.30" r="1.8" style="fill: #1f77b4; fill-opacity: 0.8"/>
</g>
<g clip-path="url(#p4fbd7197ea)">
<circle cx="182.30" cy="102.80" r="1.8" style="fill: #1f77b4; fill-opacity: 0.8"/>
</g>
<g clip-path="url(#p4fbd7197ea)">
<circle cx="167.30" cy="115.20" r="1.8" style="fill: #1f77b4; fill-opacity: 0.8"/>
</g>
<g clip-path="url(#p4fbd7197ea)">
<circle cx="169.30" cy="114.80" r="1.8" style="fill: #1f77b4; fill-opacity: 0.8"/>
</g>
<g clip-path="url(#p4fbd7197ea)">
<circle cx="177.70" cy="116.00" r="1.8" style="fill: #1f77b4; fill-opacity: 0.8"/>
</g>
<g clip-path="url(#p4fbd7197ea)">
<circle cx="191.80" cy="99.90" r="1.8" style="fill: #1f77b4; fill-opacity: 0.8"/>
</g>
<g clip-path="url(#p4fbd7197ea)">
<circle cx="196.30" cy="103.60" r="1.8" style="fill: #1f77b4; fill-opacity: 0.8"/>
</g>
<g clip-path="url(#p4fbd7197ea)">
<circle cx="190.40" cy="106.50" r="1.8" style="fill: #1f77b4; fill-opacity: 0.8"/>
</g>
<g clip-path="url(#p4fbd7197ea)">
<circle cx="189.70" cy="109.00" r="1.8" style="fill: #1f77b4; fill-opacity: 0.8"/>
</g>
<g clip-path="url(#p4fbd7197ea)">
<circle cx="201.90" cy="106.20" r="1.8" style="fill: #1f77b4; fill-opacity: 0.8"/>
</g>
<g clip-path="url(#p4fbd7197ea)">
<circle cx="202.00" cy="113.00" r="1.8" style="fill: #1f77b4; fill-opacity: 0.8"/>
</g>
<g clip-path="url(#p4fbd7197ea)">
<circle cx="185.40" cy="116.60" r="1.8" style="fill: #1f77b4; fill-opacity: 0.8"/>
</g>
<g clip-path="url(#p4fbd7197ea)">
<circle cx="191.50" cy="116.30" r="1.8" style="fill: #1f77b4; fill-opacity: 0.8"/>
</g>
<g clip-path="url(#p4fbd7197ea)">
<circle cx="197.10" cy="116.00" r="1.8" style="fill: #1f77b4; fill-opacity: 0.8"/>
</g>
<g clip-path="url(#p4fbd7197ea)">
<circle cx="165.90" cy="117.50" r="1.8" style="fill: #1f77b4; fill-opacity: 0.8"/>
</g>
<g clip-path="url(#p4fbd7197ea)">
<circle cx="170.70" cy="118.60" r="1.8" style="fill: #1f77b4; fill-opacity: 0.8"/>
</g>
<g clip-path="url(#p4fbd7197ea)">
<circle cx="172.90" cy="120.30" r="1.8" style="fill: #1f77b4; fill-opacity: 0.8"/>
</g>
<g clip-path="url(#p4fbd7197ea)">
<circle cx="165.10" cy="121.40" r="1.8" style="fill: #1f77b4; fill-opacity: 0.8"/>
</g>
<g clip-path="url(#p4fbd7197ea)">
<circle cx="168.20" cy="122.60" r="1.8" style="fill: #1f77b4; fill-opacity: 0.8"/>
</g>
<g clip-path="url(#p4fbd7197ea)">
<circle cx="170.40" cy="124.00" r="1.8" style="fill: #1f77b4; fill-opacity: 0.8"/>
</g>
<g clip-path="url(#p4fbd7197ea)">
<circle cx="173.50" cy="125.40" r="1.8" style="fill: #1f77b4; fill-opacity: 0.8"/>
</g>
<g clip-path="url(#p4fbd7197ea)">
<circle cx="167.30" cy="127.30" r="1.8" style="fill: #1f77b4; fill-opacity: 0.8"/>
</g>
<g clip-path="url(#p4fbd7197ea)">
<circle cx="163.10" cy="129.30" r="1.8" style="fill: #1f77b4; fill-opacity: 0.8"/>
</g>
<g clip-path="url(#p4fbd7197ea)">
<circle cx="174.90" cy="128.20" r="1.8" style="fill: #1f77b4; fill-opacity: 0.8"/>
</g>
<g clip-path="url(#p4fbd7197ea)">
<circle cx="180.50" cy="122.30" r="1.8" style="fill: #1f77b4; fill-opacity: 0.8"/>
</g>
<g clip-path="url(#p4fbd7197ea)">
<circle cx="178.80" cy="125.40" r="1.8" style="fill: #1f77b4; fill-opacity: 0.8"/>
</g>
<g clip-path="url(#p4fbd7197ea)">
<circle cx="178.80" cy="129.00" r="1.8" style="fill: #1f77b4; fill-opacity: 0.8"/>
</g>
<g clip-path="url(#p4fbd7197ea)">
<circle cx="165.90" cy="131.50" r="1.8" style="fill: #1f77b4; fill-opacity: 0.8"/>
</g>
<g clip-path="url(#p4fbd7197ea)">
<circle cx="169.30" cy="133.20" r="1.8" style="fill: #1f77b4; fill-opacity: 0.8"/>
</g>
<g clip-path="url(#p4fbd7197ea)">
<circle cx="173.50" cy="133.80" r="1.8" style="fill: #1f77b4; fill-opacity: 0.8"/>
</g>
<g clip-path="url(#p4fbd7197ea)">
<circle cx="179.40" cy="132.10" r="1.8" style="fill: #1f77b4; fill-opacity: 0.8"/>
</g>
<g clip-path="url(#p4fbd7197ea)">
<circle cx="165.40" cy="135.40" r="1.8" style="fill: #1f77b4; fill-opacity: 0.8"/>
</g>
<g clip-path="url(#p4fbd7197ea)">
<circle cx="170.40" cy="135.70" r="1.8" style="fill: #1f77b4; fill-opacity: 0.8"/>
</g>
<g clip-path="url(#p4fbd7197ea)">
<circle cx="189.30" cy="118.40" r="1.8" style="fill: #1f77b4; fill-opacity: 0.8"/>
</g>
<g clip-path="url(#p4fbd7197ea)">
<circle cx="184.20" cy="120.30" r="1.8" style="fill: #1f77b4; fill-opacity: 0.8"/>
</g>
<g clip-path="url(#p4fbd7197ea)">
<circle cx="196.00" cy="120.30" r="1.8" style="fill: #1f77b4; fill-opacity: 0.8"/>
</g>
<g clip-path="url(#p4fbd7197ea)">
<circle cx="194.90" cy="124.20" r="1.8" style="fill: #1f77b4; fill-opacity: 0.8"/>
</g>
<g clip-path="url(#p4fbd7197ea)">
<circle cx="189.30" cy="124.00" r="1.8" style="fill: #1f77b4; fill-opacity: 0.8"/>
</g>
<g clip-path="url(#p4fbd7197ea)">
<circle cx="183.10" cy="125.10" r="1.8" style="fill: #1f77b4; fill-opacity: 0.8"/>
</g>
<g clip-path="url(#p4fbd7197ea)">
<circle cx="184.80" cy="127.00" r="1.8" style="fill: #1f77b4; fill-opacity: 0.8"/>
</g>
<g clip-path="url(#p4fbd7197ea)">
<circle cx="189.30" cy="127.00" r="1.8" style="fill: #1f77b4; fill-opacity: 0.8"/>
</g>
<g clip-path="url(#p4fbd7197ea)">
<circle cx="193.50" cy="129.30" r="1.8" style="fill: #1f77b4; fill-opacity: 0.8"/>
</g>
<g clip-path="url(#p4fbd7197ea)">
<circle cx="184.50" cy="131.00" r="1.8" style="fill: #1f77b4; fill-opacity: 0.8"/>
</g>
<g clip-path="url(#p4fbd7197ea)">
<circle cx="188.70" cy="130.40" r="1.8" style="fill: #1f77b4; fill-opacity: 0.8"/>
</g>
<g clip-path="url(#p4fbd7197ea)">
<circle cx="191.50" cy="132.10" r="1.8" style="fill: #1f77b4; fill-opacity: 0.8"/>
</g>
<g clip-path="url(#p4fbd7197ea)">
<circle cx="197.40" cy="131.50" r="1.8" style="fill: #1f77b4; fill-opacity: 0.8"/>
</g>
<g clip-path="url(#p4fbd7197ea)">
<circle cx="194.90" cy="134.30" r="1.8" style="fill: #1f77b4; fill-opacity: 0.8"/>
</g>
<g clip-path="url(#p4fbd7197ea)">
<circle cx="187.60" cy="135.40" r="1.8" style="fill: #1f77b4; fill-opacity: 0.8"/>
</g>
<g clip-path="url(#p4fbd7197ea)">
<circle cx="202.00" cy="127.00" r="1.8" style="fill: #1f77b4; fill-opacity: 0.8"/>
</g>
<g clip-path="url(#p4fbd7197ea)">
<circle cx="201.50" cy="132.00" r="1.8" style="fill: #1f77b4; fill-opacity: 0.8"/>
</g>
<g clip-path="url(#p4fbd7197ea)">
<circle cx="210.40" cy="99.50" r="1.8" style="fill: #1f77b4; fill-opacity: 0.8"/>
</g>
<g clip-path="url(#p4fbd7197ea)">
<circle cx="212.10" cy="100.90" r="1.8" style="fill: #1f77b4; fill-opacity: 0.8"/>
</g>
<g clip-path="url(#p4fbd7197ea)">
<circle cx="215.40" cy="112.10" r="1.8" style="fill: #1f77b4; fill-opacity: 0.8"/>
</g>
<g clip-path="url(#p4fbd7197ea)">
<circle cx="210.10" cy="115.50" r="1.8" style="fill: #1f77b4; fill-opacity: 0.8"/>
</g>
<g clip-path="url(#p4fbd7197ea)">
<circle cx="217.10" cy="116.30" r="1.8" style="fill: #1f77b4; fill-opacity: 0.8"/>
</g>
<g clip-path="url(#p4fbd7197ea)">
<circle cx="221.80" cy="113.80" r="1.8" style="fill: #1f77b4; fill-opacity: 0.8"/>
</g>
<g clip-path="url(#p4fbd7197ea)">
<circle cx="231.20" cy="106.00" r="1.8" style="fill: #1f77b4; fill-opacity: 0.8"/>
</g>
<g clip-path="url(#p4fbd7197ea)">
<circle cx="240.20" cy="110.70" r="1.8" style="fill: #1f77b4; fill-opacity: 0.8"/>
</g>
<g clip-path="url(#p4fbd7197ea)">
<circle cx="214.00" cy="118.10" r="1.8" style="fill: #1f77b4; fill-opacity: 0.8"/>
</g>
<g clip-path="url(#p4fbd7197ea)">
<circle cx="221.50" cy="116.80" r="1.8" style="fill: #1f77b4; fill-opacity: 0.8"/>
</g>
<g clip-path="url(#p4fbd7197ea)">
<circle cx="209.30" cy="120.90" r="1.8" style="fill: #1f77b4; fill-opacity: 0.8"/>
</g>
<g clip-path="url(#p4fbd7197ea)">
<circle cx="202.80" cy="120.60" r="1.8" style="fill: #1f77b4; fill-opacity: 0.8"/>
</g>
<g clip-path="url(#p4fbd7197ea)">
<circle cx="206.50" cy="125.40" r="1.8" style="fill: #1f77b4; fill-opacity: 0.8"/>
</g>
<g clip-path="url(#p4fbd7197ea)">
<circle cx="209.30" cy="126.50" r="1.8" style="fill: #1f77b4; fill-opacity: 0.8"/>
</g>
<g clip-path="url(#p4fbd7197ea)">
<circle cx="213.20" cy="127.30" r="1.8" style="fill: #1f77b4; fill-opacity: 0.8"/>
</g>
<g clip-path="url(#p4fbd7197ea)">
<circle cx="204.20" cy="130.10" r="1.8" style="fill: #1f77b4; fill-opacity: 0.8"/>
</g>
<g clip-path="url(#p4fbd7197ea)">
<circle cx="207.00" cy="129.60" r="1.8" style="fill: #1f77b4; fill-opacity: 0.8"/>
</g>
<g clip-path="url(#p4fbd7197ea)">
<circle cx="211.50" cy="131.80" r="1.8" style="fill: #1f77b4; fill-opacity: 0.8"/>
</g>
<g clip-path="url(#p4fbd7197ea)">
<circle cx="214.00" cy="132.90" r="1.8" style="fill: #1f77b4; fill-opacity: 0.8"/>
</g>
<g clip-path="url(#p4fbd7197ea)">
<circle cx="206.50" cy="134.00" r="1.8" style="fill: #1f77b4; fill-opacity: 0.8"/>
</g>
<g clip-path="url(#p4fbd7197ea)">
<circle cx="220.50" cy="132.40" r="1.8" style="fill: #1f77b4; fill-opacity: 0.8"/>
</g>
<g clip-path="url(#p4fbd7197ea)">
<circle cx="214.00" cy="136.30" r="1.8" style="fill: #1f77b4; fill-opacity: 0.8"/>
</g>
<g clip-path="url(#p4fbd7197ea)">
<circle cx="223.40" cy="119.30" r="1.8" style="fill: #1f77b4; fill-opacity: 0.8"/>
</g>
<g clip-path="url(#p4fbd7197ea)">
<circle cx="222.50" cy="120.90" r="1.8" style="fill: #1f77b4; fill-opacity: 0.8"/>
</g>
<g clip-path="url(#p4fbd7197ea)">
<circle cx="227.10" cy="121.20" r="1.8" style="fill: #1f77b4; fill-opacity: 0.8"/>
</g>
<g clip-path="url(#p4fbd7197ea)">
<circle cx="222.80" cy="124.50" r="1.8" style="fill: #1f77b4; fill-opacity: 0.8"/>
</g>
<g clip-path="url(#p4fbd7197ea)">
<circle cx="224.90" cy="124.50" r="1.8" style="fill: #1f77b4; fill-opacity: 0.8"/>
</g>
<g clip-path="url(#p4fbd7197ea)">
<circle cx="231.40" cy="125.80" r="1.8" style="fill: #1f77b4; fill-opacity: 0.8"/>
</g>
<g clip-path="url(#p4fbd7197ea)">
<circle cx="236.30" cy="121.20" r="1.8" style="fill: #1f77b4; fill-opacity: 0.8"/>
</g>
<g clip-path="url(#p4fbd7197ea)">
<circle cx="235.40" cy="124.20" r="1.8" style="fill: #1f77b4; fill-opacity: 0.8"/>
</g>
<g clip-path="url(#p4fbd7197ea)">
<circle cx="234.80" cy="127.60" r="1.8" style="fill: #1f77b4; fill-opacity: 0.8"/>
</g>
<g clip-path="url(#p4fbd7197ea)">
<circle cx="236.60" cy="128.10" r="1.8" style="fill: #1f77b4; fill-opacity: 0.8"/>
</g>
<g clip-path="url(#p4fbd7197ea)">
<circle cx="228.00" cy="129.50" r="1.8" style="fill: #1f77b4; fill-opacity: 0.8"/>
</g>
<g clip-path="url(#p4fbd7197ea)">
<circle cx="226.50" cy="134.10" r="1.8" style="fill: #1f77b4; fill-opacity: 0.8"/>
</g>
<g clip-path="url(#p4fbd7197ea)">
<circle cx="239.40" cy="131.90" r="1.8" style="fill: #1f77b4; fill-opacity: 0.8"/>
</g>
<g clip-path="url(#p4fbd7197ea)">
<circle cx="234.80" cy="137.00" r="1.8" style="fill: #1f77b4; fill-opacity: 0.8"/>
</g>
<g clip-path="url(#p4fbd7197ea)">
<circle cx="258.20" cy="121.40" r="1.8" style="fill: #1f77b4; fill-opacity: 0.8"/>
</g>
<g clip-path="url(#p4fbd7197ea)">
<circle cx="264.70" cy="121.40" r="1.8" style="fill: #1f77b4; fill-opacity: 0.8"/>
</g>
<g clip-path="url(#p4fbd7197ea)">
<circle cx="250.50" cy="128.40" r="1.8" style="fill: #1f77b4; fill-opacity: 0.8"/>
</g>
<g clip-path="url(#p4fbd7197ea)">
<circle cx="246.80" cy="131.30" r="1.8" style="fill: #1f77b4; fill-opacity: 0.8"/>
</g>
<g clip-path="url(#p4fbd7197ea)">
<circle cx="246.50" cy="138.10" r="1.8" style="fill: #1f77b4; fill-opacity: 0.8"/>
</g>
<g clip-path="url(#p4fbd7197ea)">
<circle cx="112.60" cy="158.70" r="1.8" style="fill: #1f77b4; fill-opacity: 0.8"/>
</g>
<g clip-path="url(#p4fbd7197ea)">
<circle cx="129.60" cy="140.00" r="1.8" style="fill: #1f77b4; fill-opacity: 0.8"/>
</g>
<g clip-path="url(#p4fbd7197ea)">
<circle cx="136.30" cy="150.70" r="1.8" style="fill: #1f77b4; fill-opacity: 0.8"/>
</g>
<g clip-path="url(#p4fbd7197ea)">
<circle cx="145.60" cy="151.80" r="1.8" style="fill: #1f77b4; fill-opacity: 0.8"/>
</g>
<g clip-path="url(#p4fbd7197ea)">
<circle cx="144.50" cy="172.20" r="1.8" style="fill: #1f77b4; fill-opacity: 0.8"/>
</g>
<g clip-path="url(#p4fbd7197ea)">
<circle cx="148.90" cy="165.10" r="1.8" style="fill: #1f77b4; fill-opacity: 0.8"/>
</g>
<g clip-path="url(#p4fbd7197ea)">
<circle cx="158.80" cy="140.00" r="1.8" style="fill: #1f77b4; fill-opacity: 0.8"/>
</g>
<g clip-path="url(#p4fbd7197ea)">
<circle cx="160.50" cy="145.10" r="1.8" style="fill: #1f77b4; fill-opacity: 0.8"/>
</g>
<g clip-path="url(#p4fbd7197ea)">
<circle cx="161.60" cy="147.90" r="1.8" style="fill: #1f77b4; fill-opacity: 0.8"/>
</g>
<g clip-path="url(#p4fbd7197ea)">
<circle cx="156.60" cy="147.30" r="1.8" style="fill: #1f77b4; fill-opacity: 0.8"/>
</g>
<g clip-path="url(#p4fbd7197ea)">
<circle cx="152.40" cy="149.60" r="1.8" style="fill: #1f77b4; fill-opacity: 0.8"/>
</g>
<g clip-path="url(#p4fbd7197ea)">
<circle cx="153.20" cy="151.20" r="1.8" style="fill: #1f77b4; fill-opacity: 0.8"/>
</g>
<g clip-path="url(#p4fbd7197ea)">
<circle cx="161.60" cy="154.90" r="1.8" style="fill: #1f77b4; fill-opacity: 0.8"/>
</g>
<g clip-path="url(#p4fbd7197ea)">
<circle cx="153.10" cy="170.70" r="1.8" style="fill: #1f77b4; fill-opacity: 0.8"/>
</g>
<g clip-path="url(#p4fbd7197ea)">
<circle cx="159.00" cy="169.60" r="1.8" style="fill: #1f77b4; fill-opacity: 0.8"/>
</g>
<g clip-path="url(#p4fbd7197ea)">
<circle cx="157.90" cy="172.40" r="1.8" style="fill: #1f77b4; fill-opacity: 0.8"/>
</g>
<g clip-path="url(#p4fbd7197ea)">
<circle cx="145.00" cy="176.50" r="1.8" style="fill: #1f77b4; fill-opacity: 0.8"/>
</g>
<g clip-path="url(#p4fbd7197ea)">
<circle cx="172.90" cy="138.70" r="1.8" style="fill: #1f77b4; fill-opacity: 0.8"/>
</g>
<g clip-path="url(#p4fbd7197ea)">
<circle cx="165.50" cy="139.60" r="1.8" style="fill: #1f77b4; fill-opacity: 0.8"/>
</g>
<g clip-path="url(#p4fbd7197ea)">
<circle cx="166.80" cy="141.80" r="1.8" style="fill: #1f77b4; fill-opacity: 0.8"/>
</g>
<g clip-path="url(#p4fbd7197ea)">
<circle cx="171.10" cy="143.00" r="1.8" style="fill: #1f77b4; fill-opacity: 0.8"/>
</g>
<g clip-path="url(#p4fbd7197ea)">
<circle cx="178.50" cy="141.20" r="1.8" style="fill: #1f77b4; fill-opacity: 0.8"/>
</g>
<g clip-path="url(#p4fbd7197ea)">
<circle cx="179.70" cy="143.60" r="1.8" style="fill: #1f77b4; fill-opacity: 0.8"/>
</g>
<g clip-path="url(#p4fbd7197ea)">
<circle cx="165.50" cy="146.40" r="1.8" style="fill: #1f77b4; fill-opacity: 0.8"/>
</g>
<g clip-path="url(#p4fbd7197ea)">
<circle cx="168.60" cy="150.10" r="1.8" style="fill: #1f77b4; fill-opacity: 0.8"/>
</g>
<g clip-path="url(#p4fbd7197ea)">
<circle cx="177.30" cy="148.60" r="1.8" style="fill: #1f77b4; fill-opacity: 0.8"/>
</g>
<g clip-path="url(#p4fbd7197ea)">
<circle cx="176.30" cy="151.30" r="1.8" style="fill: #1f77b4; fill-opacity: 0.8"/>
</g>
<g clip-path="url(#p4fbd7197ea)">
<circle cx="171.40" cy="152.90" r="1.8" style="fill: #1f77b4; fill-opacity: 0.8"/>
</g>
<g clip-path="url(#p4fbd7197ea)">
<circle cx="167.70" cy="153.50" r="1.8" style="fill: #1f77b4; fill-opacity: 0.8"/>
</g>
<g clip-path="url(#p4fbd7197ea)">
<circle cx="163.40" cy="154.40" r="1.8" style="fill: #1f77b4; fill-opacity: 0.8"/>
</g>
<g clip-path="url(#p4fbd7197ea)">
<circle cx="177.30" cy="154.10" r="1.8" style="fill: #1f77b4; fill-opacity: 0.8"/>
</g>
<g clip-path="url(#p4fbd7197ea)">
<circle cx="189.90" cy="137.50" r="1.8" style="fill: #1f77b4; fill-opacity: 0.8"/>
</g>
<g clip-path="url(#p4fbd7197ea)">
<circle cx="194.50" cy="136.80" r="1.8" style="fill: #1f77b4; fill-opacity: 0.8"/>
</g>
<g clip-path="url(#p4fbd7197ea)">
<circle cx="186.20" cy="142.70" r="1.8" style="fill: #1f77b4; fill-opacity: 0.8"/>
</g>
<g clip-path="url(#p4fbd7197ea)">
<circle cx="191.70" cy="143.30" r="1.8" style="fill: #1f77b4; fill-opacity: 0.8"/>
</g>
<g clip-path="url(#p4fbd7197ea)">
<circle cx="189.90" cy="146.70" r="1.8" style="fill: #1f77b4; fill-opacity: 0.8"/>
</g>
<g clip-path="url(#p4fbd7197ea)">
<circle cx="192.90" cy="146.40" r="1.8" style="fill: #1f77b4; fill-opacity: 0.8"/>
</g>
<g clip-path="url(#p4fbd7197ea)">
<circle cx="185.50" cy="147.30" r="1.8" style="fill: #1f77b4; fill-opacity: 0.8"/>
</g>
<g clip-path="url(#p4fbd7197ea)">
<circle cx="195.40" cy="148.90" r="1.8" style="fill: #1f77b4; fill-opacity: 0.8"/>
</g>
<g clip-path="url(#p4fbd7197ea)">
<circle cx="189.20" cy="149.80" r="1.8" style="fill: #1f77b4; fill-opacity: 0.8"/>
</g>
<g clip-path="url(#p4fbd7197ea)">
<circle cx="183.70" cy="151.00" r="1.8" style="fill: #1f77b4; fill-opacity: 0.8"/>
</g>
<g clip-path="url(#p4fbd7197ea)">
<circle cx="182.50" cy="152.90" r="1.8" style="fill: #1f77b4; fill-opacity: 0.8"/>
</g>
<g clip-path="url(#p4fbd7197ea)">
<circle cx="187.70" cy="153.50" r="1.8" style="fill: #1f77b4; fill-opacity: 0.8"/>
</g>
<g clip-path="url(#p4fbd7197ea)">
<circle cx="193.90" cy="153.50" r="1.8" style="fill: #1f77b4; fill-opacity: 0.8"/>
</g>
<g clip-path="url(#p4fbd7197ea)">
<circle cx="198.50" cy="149.80" r="1.8" style="fill: #1f77b4; fill-opacity: 0.8"/>
</g>
<g clip-path="url(#p4fbd7197ea)">
<circle cx="196.60" cy="156.30" r="1.8" style="fill: #1f77b4; fill-opacity: 0.8"/>
</g>
<g clip-path="url(#p4fbd7197ea)">
<circle cx="208.30" cy="138.10" r="1.8" style="fill: #1f77b4; fill-opacity: 0.8"/>
</g>
<g clip-path="url(#p4fbd7197ea)">
<circle cx="211.70" cy="139.80" r="1.8" style="fill: #1f77b4; fill-opacity: 0.8"/>
</g>
<g clip-path="url(#p4fbd7197ea)">
<circle cx="203.10" cy="145.80" r="1.8" style="fill: #1f77b4; fill-opacity: 0.8"/>
</g>
<g clip-path="url(#p4fbd7197ea)">
<circle cx="206.50" cy="146.10" r="1.8" style="fill: #1f77b4; fill-opacity: 0.8"/>
</g>
<g clip-path="url(#p4fbd7197ea)">
<circle cx="201.50" cy="152.30" r="1.8" style="fill: #1f77b4; fill-opacity: 0.8"/>
</g>
<g clip-path="url(#p4fbd7197ea)">
<circle cx="203.40" cy="156.60" r="1.8" style="fill: #1f77b4; fill-opacity: 0.8"/>
</g>
<g clip-path="url(#p4fbd7197ea)">
<circle cx="216.30" cy="155.90" r="1.8" style="fill: #1f77b4; fill-opacity: 0.8"/>
</g>
<g clip-path="url(#p4fbd7197ea)">
<circle cx="242.70" cy="139.00" r="1.8" style="fill: #1f77b4; fill-opacity: 0.8"/>
</g>
<g clip-path="url(#p4fbd7197ea)">
<circle cx="239.50" cy="141.90" r="1.8" style="fill: #1f77b4; fill-opacity: 0.8"/>
</g>
<g clip-path="url(#p4fbd7197ea)">
<circle cx="226.60" cy="142.30" r="1.8" style="fill: #1f77b4; fill-opacity: 0.8"/>
</g>
<g clip-path="url(#p4fbd7197ea)">
<circle cx="223.80" cy="145.70" r="1.8" style="fill: #1f77b4; fill-opacity: 0.8"/>
</g>
<g clip-path="url(#p4fbd7197ea)">
<circle cx="226.90" cy="148.60" r="1.8" style="fill: #1f77b4; fill-opacity: 0.8"/>
</g>
<g clip-path="url(#p4fbd7197ea)">
<circle cx="252.10" cy="147.10" r="1.8" style="fill: #1f77b4; fill-opacity: 0.8"/>
</g>
<g clip-path="url(#p4fbd7197ea)">
<circle cx="269.80" cy="147.50" r="1.8" style="fill: #1f77b4; fill-opacity: 0.8"/>
</g>
<g clip-path="url(#p4fbd7197ea)">
<circle cx="274.50" cy="153.50" r="1.8" style="fill: #1f77b4; fill-opacity: 0.8"/>
</g>
<g clip-path="url(#p4fbd7197ea)">
<circle cx="258.60" cy="162.80" r="1.8" style="fill: #1f77b4; fill-opacity: 0.8"/>
</g>
<g clip-path="url(#p4fbd7197ea)">
<circle cx="166.70" cy="158.10" r="1.8" style="fill: #1f77b4; fill-opacity: 0.8"/>
</g>
<g clip-path="url(#p4fbd7197ea)">
<circle cx="169.00" cy="160.60" r="1.8" style="fill: #1f77b4; fill-opacity: 0.8"/>
</g>
<g clip-path="url(#p4fbd7197ea)">
<circle cx="172.90" cy="157.00" r="1.8" style="fill: #1f77b4; fill-opacity: 0.8"/>
</g>
<g clip-path="url(#p4fbd7197ea)">
<circle cx="176.80" cy="160.00" r="1.8" style="fill: #1f77b4; fill-opacity: 0.8"/>
</g>
<g clip-path="url(#p4fbd7197ea)">
<circle cx="177.40" cy="162.30" r="1.8" style="fill: #1f77b4; fill-opacity: 0.8"/>
</g>
<g clip-path="url(#p4fbd7197ea)">
<circle cx="172.30" cy="163.70" r="1.8" style="fill: #1f77b4; fill-opacity: 0.8"/>
</g>
<g clip-path="url(#p4fbd7197ea)">
<circle cx="174.60" cy="166.20" r="1.8" style="fill: #1f77b4; fill-opacity: 0.8"/>
</g>
<g clip-path="url(#p4fbd7197ea)">
<circle cx="162.20" cy="170.10" r="1.8" style="fill: #1f77b4; fill-opacity: 0.8"/>
</g>
<g clip-path="url(#p4fbd7197ea)">
<circle cx="191.40" cy="160.00" r="1.8" style="fill: #1f77b4; fill-opacity: 0.8"/>
</g>
<g clip-path="url(#p4fbd7197ea)">
<circle cx="191.90" cy="162.80" r="1.8" style="fill: #1f77b4; fill-opacity: 0.8"/>
</g>
<g clip-path="url(#p4fbd7197ea)">
<circle cx="189.70" cy="166.20" r="1.8" style="fill: #1f77b4; fill-opacity: 0.8"/>
</g>
<g clip-path="url(#p4fbd7197ea)">
<circle cx="188.00" cy="169.60" r="1.8" style="fill: #1f77b4; fill-opacity: 0.8"/>
</g>
<g clip-path="url(#p4fbd7197ea)">
<circle cx="184.10" cy="169.60" r="1.8" style="fill: #1f77b4; fill-opacity: 0.8"/>
</g>
<g clip-path="url(#p4fbd7197ea)">
<circle cx="181.30" cy="172.40" r="1.8" style="fill: #1f77b4; fill-opacity: 0.8"/>
</g>
<g clip-path="url(#p4fbd7197ea)">
<circle cx="186.90" cy="173.50" r="1.8" style="fill: #1f77b4; fill-opacity: 0.8"/>
</g>
<g clip-path="url(#p4fbd7197ea)">
<circle cx="190.80" cy="176.30" r="1.8" style="fill: #1f77b4; fill-opacity: 0.8"/>
</g>
<g clip-path="url(#p4fbd7197ea)">
<circle cx="166.70" cy="178.50" r="1.8" style="fill: #1f77b4; fill-opacity: 0.8"/>
</g>
<g clip-path="url(#p4fbd7197ea)">
<circle cx="201.30" cy="159.90" r="1.8" style="fill: #1f77b4; fill-opacity: 0.8"/>
</g>
<g clip-path="url(#p4fbd7197ea)">
<circle cx="204.80" cy="162.30" r="1.8" style="fill: #1f77b4; fill-opacity: 0.8"/>
</g>
<g clip-path="url(#p4fbd7197ea)">
<circle cx="210.10" cy="163.70" r="1.8" style="fill: #1f77b4; fill-opacity: 0.8"/>
</g>
<g clip-path="url(#p4fbd7197ea)">
<circle cx="207.60" cy="167.30" r="1.8" style="fill: #1f77b4; fill-opacity: 0.8"/>
</g>
<g clip-path="url(#p4fbd7197ea)">
<circle cx="202.70" cy="170.10" r="1.8" style="fill: #1f77b4; fill-opacity: 0.8"/>
</g>
<g clip-path="url(#p4fbd7197ea)">
<circle cx="204.80" cy="169.70" r="1.8" style="fill: #1f77b4; fill-opacity: 0.8"/>
</g>
<g clip-path="url(#p4fbd7197ea)">
<circle cx="201.30" cy="175.30" r="1.8" style="fill: #1f77b4; fill-opacity: 0.8"/>
</g>
<g clip-path="url(#p4fbd7197ea)">
<circle cx="222.00" cy="169.00" r="1.8" style="fill: #1f77b4; fill-opacity: 0.8"/>
</g>
<g clip-path="url(#p4fbd7197ea)">
<circle cx="216.40" cy="172.10" r="1.8" style="fill: #1f77b4; fill-opacity: 0.8"/>
</g>
<g clip-path="url(#p4fbd7197ea)">
<circle cx="235.90" cy="166.90" r="1.8" style="fill: #1f77b4; fill-opacity: 0.8"/>
</g>
<g clip-path="url(#p4fbd7197ea)">
<circle cx="206.20" cy="179.80" r="1.8" style="fill: #1f77b4; fill-opacity: 0.8"/>
</g>
<g clip-path="url(#p4fbd7197ea)">
<circle cx="212.50" cy="180.00" r="1.8" style="fill: #1f77b4; fill-opacity: 0.8"/>
</g>
<g clip-path="url(#p4fbd7197ea)">
<circle cx="128.40" cy="181.20" r="1.8" style="fill: #1f77b4; fill-opacity: 0.8"/>
</g>
<g clip-path="url(#p4fbd7197ea)">
<circle cx="107.00" cy="228.50" r="1.8" style="fill: #1f77b4; fill-opacity: 0.8"/>
</g>
<g clip-path="url(#p4fbd7197ea)">
<circle cx="157.50" cy="213.10" r="1.8" style="fill: #1f77b4; fill-opacity: 0.8"/>
</g>
<g clip-path="url(#p4fbd7197ea)">
<circle cx="159.70" cy="179.70" r="1.8" style="fill: #1f77b4; fill-opacity: 0.8"/>
</g>
<g clip-path="url(#p4fbd7197ea)">
<circle cx="174.30" cy="185.30" r="1.8" style="fill: #1f77b4; fill-opacity: 0.8"/>
</g>
<g clip-path="url(#p4fbd7197ea)">
<circle cx="180.20" cy="183.10" r="1.8" style="fill: #1f77b4; fill-opacity: 0.8"/>
</g>
<g clip-path="url(#p4fbd7197ea)">
<circle cx="184.40" cy="185.10" r="1.8" style="fill: #1f77b4; fill-opacity: 0.8"/>
</g>
<g clip-path="url(#p4fbd7197ea)">
<circle cx="187.50" cy="184.00" r="1.8" style="fill: #1f77b4; fill-opacity: 0.8"/>
</g>
<g clip-path="url(#p4fbd7197ea)">
<circle cx="189.20" cy="182.80" r="1.8" style="fill: #1f77b4; fill-opacity: 0.8"/>
</g>
<g clip-path="url(#p4fbd7197ea)">
<circle cx="190.30" cy="179.50" r="1.8" style="fill: #1f77b4; fill-opacity: 0.8"/>
</g>
<g clip-path="url(#p4fbd7197ea)">
<circle cx="192.50" cy="187.30" r="1.8" style="fill: #1f77b4; fill-opacity: 0.8"/>
</g>
<g clip-path="url(#p4fbd7197ea)">
<circle cx="173.80" cy="197.40" r="1.8" style="fill: #1f77b4; fill-opacity: 0.8"/>
</g>
<g clip-path="url(#p4fbd7197ea)">
<circle cx="172.90" cy="201.70" r="1.8" style="fill: #1f77b4; fill-opacity: 0.8"/>
</g>
<g clip-path="url(#p4fbd7197ea)">
<circle cx="174.60" cy="206.10" r="1.8" style="fill: #1f77b4; fill-opacity: 0.8"/>
</g>
<g clip-path="url(#p4fbd7197ea)">
<circle cx="181.10" cy="205.50" r="1.8" style="fill: #1f77b4; fill-opacity: 0.8"/>
</g>
<g clip-path="url(#p4fbd7197ea)">
<circle cx="211.80" cy="183.40" r="1.8" style="fill: #1f77b4; fill-opacity: 0.8"/>
</g>
<g clip-path="url(#p4fbd7197ea)">
<circle cx="219.10" cy="186.40" r="1.8" style="fill: #1f77b4; fill-opacity: 0.8"/>
</g>
<g clip-path="url(#p4fbd7197ea)">
<circle cx="205.70" cy="190.40" r="1.8" style="fill: #1f77b4; fill-opacity: 0.8"/>
</g>
<g clip-path="url(#p4fbd7197ea)">
<circle cx="212.40" cy="190.10" r="1.8" style="fill: #1f77b4; fill-opacity: 0.8"/>
</g>
<g clip-path="url(#p4fbd7197ea)">
<circle cx="198.40" cy="195.70" r="1.8" style="fill: #1f77b4; fill-opacity: 0.8"/>
</g>
<g clip-path="url(#p4fbd7197ea)">
<circle cx="221.90" cy="195.20" r="1.8" style="fill: #1f77b4; fill-opacity: 0.8"/>
</g>
<g clip-path="url(#p4fbd7197ea)">
<circle cx="195.40" cy="208.10" r="1.8" style="fill: #1f77b4; fill-opacity: 0.8"/>
</g>
<g clip-path="url(#p4fbd7197ea)">
<circle cx="159.70" cy="216.80" r="1.8" style="fill: #1f77b4; fill-opacity: 0.8"/>
</g>
<g clip-path="url(#p4fbd7197ea)">
<circle cx="189.60" cy="117.60" r="1.8" style="fill: #1f77b4; fill-opacity: 0.8"/>
</g>
<g clip-path="url(#p4fbd7197ea)">
<circle cx="193.10" cy="117.10" r="1.8" style="fill: #1f77b4; fill-opacity: 0.8"/>
</g>
<g clip-path="url(#p4fbd7197ea)">
<circle cx="181.00" cy="121.10" r="1.8" style="fill: #1f77b4; fill-opacity: 0.8"/>
</g>
<g clip-path="url(#p4fbd7197ea)">
<circle cx="183.00" cy="122.30" r="1.8" style="fill: #1f77b4; fill-opacity: 0.8"/>
</g>
<g clip-path="url(#p4fbd7197ea)">
<circle cx="186.00" cy="126.60" r="1.8" style="fill: #1f77b4; fill-opacity: 0.8"/>
</g>
<g clip-path="url(#p4fbd7197ea)">
<circle cx="170.60" cy="126.80" r="1.8" style="fill: #1f77b4; fill-opacity: 0.8"/>
</g>
<g clip-path="url(#p4fbd7197ea)">
<circle cx="176.10" cy="128.50" r="1.8" style="fill: #1f77b4; fill-opacity: 0.8"/>
</g>
<g clip-path="url(#p4fbd7197ea)">
<circle cx="172.60" cy="130.50" r="1.8" style="fill: #1f77b4; fill-opacity: 0.8"/>
</g>
<g clip-path="url(#p4fbd7197ea)">
<circle cx="168.10" cy="136.60" r="1.8" style="fill: #1f77b4; fill-opacity: 0.8"/>
</g>
<g clip-path="url(#p4fbd7197ea)">
<circle cx="161.00" cy="140.10" r="1.8" style="fill: #1f77b4; fill-opacity: 0.8"/>
</g>
<g clip-path="url(#p4fbd7197ea)">
<circle cx="164.00" cy="142.60" r="1.8" style="fill: #1f77b4; fill-opacity: 0.8"/>
</g>
<g clip-path="url(#p4fbd7197ea)">
<circle cx="175.00" cy="130.00" r="1.8" style="fill: #1f77b4; fill-opacity: 0.8"/>
</g>
<g clip-path="url(#p4fbd7197ea)">
<circle cx="184.30" cy="134.40" r="1.8" style="fill: #1f77b4; fill-opacity: 0.8"/>
</g>
<g clip-path="url(#p4fbd7197ea)">
<circle cx="187.00" cy="135.30" r="1.8" style="fill: #1f77b4; fill-opacity: 0.8"/>
</g>
<g clip-path="url(#p4fbd7197ea)">
<circle cx="192.40" cy="134.80" r="1.8" style="fill: #1f77b4; fill-opacity: 0.8"/>
</g>
<g clip-path="url(#p4fbd7197ea)">
<circle cx="182.60" cy="128.00" r="1.8" style="fill: #1f77b4; fill-opacity: 0.8"/>
</g>
<g clip-path="url(#p4fbd7197ea)">
<circle cx="191.50" cy="128.50" r="1.8" style="fill: #1f77b4; fill-opacity: 0.8"/>
</g>
<g clip-path="url(#p4fbd7197ea)">
<circle cx="162.30" cy="144.60" r="1.8" style="fill: #1f77b4; fill-opacity: 0.8"/>
</g>
<g clip-path="url(#p4fbd7197ea)">
<circle cx="168.60" cy="156.20" r="1.8" style="fill: #1f77b4; fill-opacity: 0.8"/>
</g>
<g clip-path="url(#p4fbd7197ea)">
<circle cx="176.50" cy="157.00" r="1.8" style="fill: #1f77b4; fill-opacity: 0.8"/>
</g>
</g>
<g id="patch_10">
<path d="M 41.1 254.5 
L 41.1 57.2 
" style="fill: none; stroke: #555555; stroke-linejoin: miter; stroke-linecap: square"/>
</g>
<g id="patch_11">
<path d="M 284 254.5 
L 284 57.2 
" style="fill: none; stroke: #555555; stroke-linejoin: miter; stroke-linecap: square"/>
</g>
<g id="patch_12">
<path d="M 41.1 254.5 
L 284 254.5 
" style="fill: none; stroke: #555555; stroke-linejoin: miter; stroke-linecap: square"/>
</g>
<g id="patch_13">
<path d="M 41.1 57.2 
L 284 57.2 
" style="fill: none; stroke: #555555; stroke-linejoin: miter; stroke-linecap: square"/>
</g>
<g id="PathCollection_4">
<g clip-path="url(#p4fbd7197ea)">
<path d="M -2.24 2.24 L 2.24 -2.24 M -2.24 -2.24 L 2.24 2.24" transform="translate(59.60 140.50)" style="fill: #dd1111; stroke: #dd1111; stroke-width: 1.15; stroke: #dd1111; stroke-width: 1.15"/>
<path d="M -2.24 2.24 L 2.24 -2.24 M -2.24 -2.24 L 2.24 2.24" transform="translate(138.20 110.10)" style="fill: #dd1111; stroke: #dd1111; stroke-width: 1.15; stroke: #dd1111; stroke-width: 1.15"/>
<path d="M -2.24 2.24 L 2.24 -2.24 M -2.24 -2.24 L 2.24 2.24" transform="translate(150.20 118.50)" style="fill: #dd1111; stroke: #dd1111; stroke-width: 1.15; stroke: #dd1111; stroke-width: 1.15"/>
<path d="M -2.24 2.24 L 2.24 -2.24 M -2.24 -2.24 L 2.24 2.24" transform="translate(130.10 127.00)" style="fill: #dd1111; stroke: #dd1111; stroke-width: 1.15; stroke: #dd1111; stroke-width: 1.15"/>
<path d="M -2.24 2.24 L 2.24 -2.24 M -2.24 -2.24 L 2.24 2.24" transform="translate(179.80 136.80)" style="fill: #dd1111; stroke: #dd1111; stroke-width: 1.15; stroke: #dd1111; stroke-width: 1.15"/>
<path d="M -2.24 2.24 L 2.24 -2.24 M -2.24 -2.24 L 2.24 2.24" transform="translate(206.20 120.30)" style="fill: #dd1111; stroke: #dd1111; stroke-width: 1.15; stroke: #dd1111; stroke-width: 1.15"/>
<path d="M -2.24 2.24 L 2.24 -2.24 M -2.24 -2.24 L 2.24 2.24" transform="translate(121.30 140.50)" style="fill: #dd1111; stroke: #dd1111; stroke-width: 1.15; stroke: #dd1111; stroke-width: 1.15"/>
<path d="M -2.24 2.24 L 2.24 -2.24 M -2.24 -2.24 L 2.24 2.24" transform="translate(122.10 145.70)" style="fill: #dd1111; stroke: #dd1111; stroke-width: 1.15; stroke: #dd1111; stroke-width: 1.15"/>
<path d="M -2.24 2.24 L 2.24 -2.24 M -2.24 -2.24 L 2.24 2.24" transform="translate(122.50 151.60)" style="fill: #dd1111; stroke: #dd1111; stroke-width: 1.15; stroke: #dd1111; stroke-width: 1.15"/>
<path d="M -2.24 2.24 L 2.24 -2.24 M -2.24 -2.24 L 2.24 2.24" transform="translate(132.20 156.40)" style="fill: #dd1111; stroke: #dd1111; stroke-width: 1.15; stroke: #dd1111; stroke-width: 1.15"/>
<path d="M -2.24 2.24 L 2.24 -2.24 M -2.24 -2.24 L 2.24 2.24" transform="translate(136.30 153.20)" style="fill: #dd1111; stroke: #dd1111; stroke-width: 1.15; stroke: #dd1111; stroke-width: 1.15"/>
<path d="M -2.24 2.24 L 2.24 -2.24 M -2.24 -2.24 L 2.24 2.24" transform="translate(143.80 151.70)" style="fill: #dd1111; stroke: #dd1111; stroke-width: 1.15; stroke: #dd1111; stroke-width: 1.15"/>
<path d="M -2.24 2.24 L 2.24 -2.24 M -2.24 -2.24 L 2.24 2.24" transform="translate(149.80 143.80)" style="fill: #dd1111; stroke: #dd1111; stroke-width: 1.15; stroke: #dd1111; stroke-width: 1.15"/>
<path d="M -2.24 2.24 L 2.24 -2.24 M -2.24 -2.24 L 2.24 2.24" transform="translate(177.60 143.90)" style="fill: #dd1111; stroke: #dd1111; stroke-width: 1.15; stroke: #dd1111; stroke-width: 1.15"/>
<path d="M -2.24 2.24 L 2.24 -2.24 M -2.24 -2.24 L 2.24 2.24" transform="translate(194.00 139.60)" style="fill: #dd1111; stroke: #dd1111; stroke-width: 1.15; stroke: #dd1111; stroke-width: 1.15"/>
<path d="M -2.24 2.24 L 2.24 -2.24 M -2.24 -2.24 L 2.24 2.24" transform="translate(181.60 138.30)" style="fill: #dd1111; stroke: #dd1111; stroke-width: 1.15; stroke: #dd1111; stroke-width: 1.15"/>
<path d="M -2.24 2.24 L 2.24 -2.24 M -2.24 -2.24 L 2.24 2.24" transform="translate(100.30 172.40)" style="fill: #dd1111; stroke: #dd1111; stroke-width: 1.15; stroke: #dd1111; stroke-width: 1.15"/>
<path d="M -2.24 2.24 L 2.24 -2.24 M -2.24 -2.24 L 2.24 2.24" transform="translate(154.50 160.00)" style="fill: #dd1111; stroke: #dd1111; stroke-width: 1.15; stroke: #dd1111; stroke-width: 1.15"/>
<path d="M -2.24 2.24 L 2.24 -2.24 M -2.24 -2.24 L 2.24 2.24" transform="translate(150.90 165.60)" style="fill: #dd1111; stroke: #dd1111; stroke-width: 1.15; stroke: #dd1111; stroke-width: 1.15"/>
<path d="M -2.24 2.24 L 2.24 -2.24 M -2.24 -2.24 L 2.24 2.24" transform="translate(153.40 168.20)" style="fill: #dd1111; stroke: #dd1111; stroke-width: 1.15; stroke: #dd1111; stroke-width: 1.15"/>
<path d="M -2.24 2.24 L 2.24 -2.24 M -2.24 -2.24 L 2.24 2.24" transform="translate(180.70 166.20)" style="fill: #dd1111; stroke: #dd1111; stroke-width: 1.15; stroke: #dd1111; stroke-width: 1.15"/>
<path d="M -2.24 2.24 L 2.24 -2.24 M -2.24 -2.24 L 2.24 2.24" transform="translate(196.40 174.90)" style="fill: #dd1111; stroke: #dd1111; stroke-width: 1.15; stroke: #dd1111; stroke-width: 1.15"/>
<path d="M -2.24 2.24 L 2.24 -2.24 M -2.24 -2.24 L 2.24 2.24" transform="translate(180.80 177.60)" style="fill: #dd1111; stroke: #dd1111; stroke-width: 1.15; stroke: #dd1111; stroke-width: 1.15"/>
<path d="M -2.24 2.24 L 2.24 -2.24 M -2.24 -2.24 L 2.24 2.24" transform="translate(183.60 179.50)" style="fill: #dd1111; stroke: #dd1111; stroke-width: 1.15; stroke: #dd1111; stroke-width: 1.15"/>
<path d="M -2.24 2.24 L 2.24 -2.24 M -2.24 -2.24 L 2.24 2.24" transform="translate(63.80 189.00)" style="fill: #dd1111; stroke: #dd1111; stroke-width: 1.15; stroke: #dd1111; stroke-width: 1.15"/>
<path d="M -2.24 2.24 L 2.24 -2.24 M -2.24 -2.24 L 2.24 2.24" transform="translate(133.70 186.20)" style="fill: #dd1111; stroke: #dd1111; stroke-width: 1.15; stroke: #dd1111; stroke-width: 1.15"/>
<path d="M -2.24 2.24 L 2.24 -2.24 M -2.24 -2.24 L 2.24 2.24" transform="translate(131.30 201.30)" style="fill: #dd1111; stroke: #dd1111; stroke-width: 1.15; stroke: #dd1111; stroke-width: 1.15"/>
<path d="M -2.24 2.24 L 2.24 -2.24 M -2.24 -2.24 L 2.24 2.24" transform="translate(143.00 200.80)" style="fill: #dd1111; stroke: #dd1111; stroke-width: 1.15; stroke: #dd1111; stroke-width: 1.15"/>
<path d="M -2.24 2.24 L 2.24 -2.24 M -2.24 -2.24 L 2.24 2.24" transform="translate(151.90 194.30)" style="fill: #dd1111; stroke: #dd1111; stroke-width: 1.15; stroke: #dd1111; stroke-width: 1.15"/>
<path d="M -2.24 2.24 L 2.24 -2.24 M -2.24 -2.24 L 2.24 2.24" transform="translate(161.20 183.70)" style="fill: #dd1111; stroke: #dd1111; stroke-width: 1.15; stroke: #dd1111; stroke-width: 1.15"/>
<path d="M -2.24 2.24 L 2.24 -2.24 M -2.24 -2.24 L 2.24 2.24" transform="translate(168.40 192.40)" style="fill: #dd1111; stroke: #dd1111; stroke-width: 1.15; stroke: #dd1111; stroke-width: 1.15"/>
<path d="M -2.24 2.24 L 2.24 -2.24 M -2.24 -2.24 L 2.24 2.24" transform="translate(209.90 190.10)" style="fill: #dd1111; stroke: #dd1111; stroke-width: 1.15; stroke: #dd1111; stroke-width: 1.15"/>
<path d="M -2.24 2.24 L 2.24 -2.24 M -2.24 -2.24 L 2.24 2.24" transform="translate(145.80 222.10)" style="fill: #dd1111; stroke: #dd1111; stroke-width: 1.15; stroke: #dd1111; stroke-width: 1.15"/>
</g>
</g>
<g id="text_11">
<text style="font-size: 9.5px; font-family: 'DejaVu Sans', sans-serif; text-anchor: start" x="76.3" y="73" transform="rotate(-0 76.3 73)">EVQs</text>
</g>
<g id="text_12">
<text style="font-size: 9.5px; font-family: 'DejaVu Sans', sans-serif; text-anchor: start" x="76.1" y="86.2" transform="rotate(-0 76.1 86.2)">CLQs</text>
</g>
</g>
<g id="axes_3">
<g id="patch_14">
<path d="M 41.1 458.9 
L 284 458.9 
L 284 261.8 
L 41.1 261.8 
z
" style="fill: #ffffff"/>
</g>
<g id="line2d_174">
<path d="M 199.51 458.9 
L 199.51 261.8 
" clip-path="url(#p349a65ac7e)" style="fill: none; stroke-dasharray: 5.5,2.83; stroke-dashoffset: 0; stroke: #666666; stroke-width: 1.5"/>
</g>
<g id="line2d_175">
<path d="M 41.1 360.35 
L 284 360.35 
" clip-path="url(#p349a65ac7e)" style="fill: none; stroke-dasharray: 0.75,0.65; stroke-dashoffset: 0; stroke: #999999"/>
</g>
<g id="matplotlib.axis_5">
<g id="xtick_49">
<g id="line2d_176">
<g>
<path d="M 0 0 L 0 -3" transform="translate(41.10 458.90)" style="fill: #555555; stroke: #555555; stroke: #555555"/>
</g>
</g>
<g id="line2d_177">
<g>
<path d="M 0 0 L 0 3" transform="translate(41.10 261.80)" style="fill: #555555; stroke: #555555; stroke: #555555"/>
</g>
</g>
<g id="text_13">
<text style="font-size: 12px; font-family: 'DejaVu Sans', sans-serif; text-anchor: middle" x="41.1" y="471.12" transform="rotate(-0 41.1 471.12)">43.0</text>
</g>
</g>
<g id="xtick_50">
<g id="line2d_178">
<g>
<path d="M 0 0 L 0 -3" transform="translate(93.90 458.90)" style="fill: #555555; stroke: #555555; stroke: #555555"/>
</g>
</g>
<g id="line2d_179">
<g>
<path d="M 0 0 L 0 3" transform="translate(93.90 261.80)" style="fill: #555555; stroke: #555555; stroke: #555555"/>
</g>
</g>
<g id="text_14">
<text style="font-size: 12px; font-family: 'DejaVu Sans', sans-serif; text-anchor: middle" x="93.9" y="471.12" transform="rotate(-0 93.9 471.12)">43.5</text>
</g>
</g>
<g id="xtick_51">
<g id="line2d_180">
<g>
<path d="M 0 0 L 0 -3" transform="translate(146.71 458.90)" style="fill: #555555; stroke: #555555; stroke: #555555"/>
</g>
</g>
<g id="line2d_181">
<g>
<path d="M 0 0 L 0 3" transform="translate(146.71 261.80)" style="fill: #555555; stroke: #555555; stroke: #555555"/>
</g>
</g>
<g id="text_15">
<text style="font-size: 12px; font-family: 'DejaVu Sans', sans-serif; text-anchor: middle" x="146.71" y="471.12" transform="rotate(-0 146.71 471.12)">44.0</text>
</g>
</g>
<g id="xtick_52">
<g id="line2d_182">
<g>
<path d="M 0 0 L 0 -3" transform="translate(199.51 458.90)" style="fill: #555555; stroke: #555555; stroke: #555555"/>
</g>
</g>
<g id="line2d_183">
<g>
<path d="M 0 0 L 0 3" transform="translate(199.51 261.80)" style="fill: #555555; stroke: #555555; stroke: #555555"/>
</g>
</g>
<g id="text_16">
<text style="font-size: 12px; font-family: 'DejaVu Sans', sans-serif; text-anchor: middle" x="199.51" y="471.12" transform="rotate(-0 199.51 471.12)">44.5</text>
</g>
</g>
<g id="xtick_53">
<g id="line2d_184">
<g>
<path d="M 0 0 L 0 -3" transform="translate(252.32 458.90)" style="fill: #555555; stroke: #555555; stroke: #555555"/>
</g>
</g>
<g id="line2d_185">
<g>
<path d="M 0 0 L 0 3" transform="translate(252.32 261.80)" style="fill: #555555; stroke: #555555; stroke: #555555"/>
</g>
</g>
<g id="text_17">
<text style="font-size: 12px; font-family: 'DejaVu Sans', sans-serif; text-anchor: middle" x="252.32" y="471.12" transform="rotate(-0 252.32 471.12)">45.0</text>
</g>
</g>
<g id="xtick_54">
<g id="line2d_186">
<g>
<path d="M 0 0 L 0 -1.8" transform="translate(51.66 458.90)" style="fill: #555555; stroke: #555555; stroke: #555555"/>
</g>
</g>
<g id="line2d_187">
<g>
<path d="M 0 0 L 0 1.8" transform="translate(51.66 261.80)" style="fill: #555555; stroke: #555555; stroke: #555555"/>
</g>
</g>
</g>
<g id="xtick_55">
<g id="line2d_188">
<g>
<path d="M 0 0 L 0 -1.8" transform="translate(62.22 458.90)" style="fill: #555555; stroke: #555555; stroke: #555555"/>
</g>
</g>
<g id="line2d_189">
<g>
<path d="M 0 0 L 0 1.8" transform="translate(62.22 261.80)" style="fill: #555555; stroke: #555555; stroke: #555555"/>
</g>
</g>
</g>
<g id="xtick_56">
<g id="line2d_190">
<g>
<path d="M 0 0 L 0 -1.8" transform="translate(72.78 458.90)" style="fill: #555555; stroke: #555555; stroke: #555555"/>
</g>
</g>
<g id="line2d_191">
<g>
<path d="M 0 0 L 0 1.8" transform="translate(72.78 261.80)" style="fill: #555555; stroke: #555555; stroke: #555555"/>
</g>
</g>
</g>
<g id="xtick_57">
<g id="line2d_192">
<g>
<path d="M 0 0 L 0 -1.8" transform="translate(83.34 458.90)" style="fill: #555555; stroke: #555555; stroke: #555555"/>
</g>
</g>
<g id="line2d_193">
<g>
<path d="M 0 0 L 0 1.8" transform="translate(83.34 261.80)" style="fill: #555555; stroke: #555555; stroke: #555555"/>
</g>
</g>
</g>
<g id="xtick_58">
<g id="line2d_194">
<g>
<path d="M 0 0 L 0 -1.8" transform="translate(104.47 458.90)" style="fill: #555555; stroke: #555555; stroke: #555555"/>
</g>
</g>
<g id="line2d_195">
<g>
<path d="M 0 0 L 0 1.8" transform="translate(104.47 261.80)" style="fill: #555555; stroke: #555555; stroke: #555555"/>
</g>
</g>
</g>
<g id="xtick_59">
<g id="line2d_196">
<g>
<path d="M 0 0 L 0 -1.8" transform="translate(115.03 458.90)" style="fill: #555555; stroke: #555555; stroke: #555555"/>
</g>
</g>
<g id="line2d_197">
<g>
<path d="M 0 0 L 0 1.8" transform="translate(115.03 261.80)" style="fill: #555555; stroke: #555555; stroke: #555555"/>
</g>
</g>
</g>
<g id="xtick_60">
<g id="line2d_198">
<g>
<path d="M 0 0 L 0 -1.8" transform="translate(125.59 458.90)" style="fill: #555555; stroke: #555555; stroke: #555555"/>
</g>
</g>
<g id="line2d_199">
<g>
<path d="M 0 0 L 0 1.8" transform="translate(125.59 261.80)" style="fill: #555555; stroke: #555555; stroke: #555555"/>
</g>
</g>
</g>
<g id="xtick_61">
<g id="line2d_200">
<g>
<path d="M 0 0 L 0 -1.8" transform="translate(136.15 458.90)" style="fill: #555555; stroke: #555555; stroke: #555555"/>
</g>
</g>
<g id="line2d_201">
<g>
<path d="M 0 0 L 0 1.8" transform="translate(136.15 261.80)" style="fill: #555555; stroke: #555555; stroke: #555555"/>
</g>
</g>
</g>
<g id="xtick_62">
<g id="line2d_202">
<g>
<path d="M 0 0 L 0 -1.8" transform="translate(157.27 458.90)" style="fill: #555555; stroke: #555555; stroke: #555555"/>
</g>
</g>
<g id="line2d_203">
<g>
<path d="M 0 0 L 0 1.8" transform="translate(157.27 261.80)" style="fill: #555555; stroke: #555555; stroke: #555555"/>
</g>
</g>
</g>
<g id="xtick_63">
<g id="line2d_204">
<g>
<path d="M 0 0 L 0 -1.8" transform="translate(167.83 458.90)" style="fill: #555555; stroke: #555555; stroke: #555555"/>
</g>
</g>
<g id="line2d_205">
<g>
<path d="M 0 0 L 0 1.8" transform="translate(167.83 261.80)" style="fill: #555555; stroke: #555555; stroke: #555555"/>
</g>
</g>
</g>
<g id="xtick_64">
<g id="line2d_206">
<g>
<path d="M 0 0 L 0 -1.8" transform="translate(178.39 458.90)" style="fill: #555555; stroke: #555555; stroke: #555555"/>
</g>
</g>
<g id="line2d_207">
<g>
<path d="M 0 0 L 0 1.8" transform="translate(178.39 261.80)" style="fill: #555555; stroke: #555555; stroke: #555555"/>
</g>
</g>
</g>
<g id="xtick_65">
<g id="line2d_208">
<g>
<path d="M 0 0 L 0 -1.8" transform="translate(188.95 458.90)" style="fill: #555555; stroke: #555555; stroke: #555555"/>
</g>
</g>
<g id="line2d_209">
<g>
<path d="M 0 0 L 0 1.8" transform="translate(188.95 261.80)" style="fill: #555555; stroke: #555555; stroke: #555555"/>
</g>
</g>
</g>
<g id="xtick_66">
<g id="line2d_210">
<g>
<path d="M 0 0 L 0 -1.8" transform="translate(210.07 458.90)" style="fill: #555555; stroke: #555555; stroke: #555555"/>
</g>
</g>
<g id="line2d_211">
<g>
<path d="M 0 0 L 0 1.8" transform="translate(210.07 261.80)" style="fill: #555555; stroke: #555555; stroke: #555555"/>
</g>
</g>
</g>
<g id="xtick_67">
<g id="line2d_212">
<g>
<path d="M 0 0 L 0 -1.8" transform="translate(220.63 458.90)" style="fill: #555555; stroke: #555555; stroke: #555555"/>
</g>
</g>
<g id="line2d_213">
<g>
<path d="M 0 0 L 0 1.8" transform="translate(220.63 261.80)" style="fill: #555555; stroke: #555555; stroke: #555555"/>
</g>
</g>
</g>
<g id="xtick_68">
<g id="line2d_214">
<g>
<path d="M 0 0 L 0 -1.8" transform="translate(231.20 458.90)" style="fill: #555555; stroke: #555555; stroke: #555555"/>
</g>
</g>
<g id="line2d_215">
<g>
<path d="M 0 0 L 0 1.8" transform="translate(231.20 261.80)" style="fill: #555555; stroke: #555555; stroke: #555555"/>
</g>
</g>
</g>
<g id="xtick_69">
<g id="line2d_216">
<g>
<path d="M 0 0 L 0 -1.8" transform="translate(241.76 458.90)" style="fill: #555555; stroke: #555555; stroke: #555555"/>
</g>
</g>
<g id="line2d_217">
<g>
<path d="M 0 0 L 0 1.8" transform="translate(241.76 261.80)" style="fill: #555555; stroke: #555555; stroke: #555555"/>
</g>
</g>
</g>
<g id="xtick_70">
<g id="line2d_218">
<g>
<path d="M 0 0 L 0 -1.8" transform="translate(262.88 458.90)" style="fill: #555555; stroke: #555555; stroke: #555555"/>
</g>
</g>
<g id="line2d_219">
<g>
<path d="M 0 0 L 0 1.8" transform="translate(262.88 261.80)" style="fill: #555555; stroke: #555555; stroke: #555555"/>
</g>
</g>
</g>
<g id="xtick_71">
<g id="line2d_220">
<g>
<path d="M 0 0 L 0 -1.8" transform="translate(273.44 458.90)" style="fill: #555555; stroke: #555555; stroke: #555555"/>
</g>
</g>
<g id="line2d_221">
<g>
<path d="M 0 0 L 0 1.8" transform="translate(273.44 261.80)" style="fill: #555555; stroke: #555555; stroke: #555555"/>
</g>
</g>
</g>
<g id="xtick_72">
<g id="line2d_222">
<g>
<path d="M 0 0 L 0 -1.8" transform="translate(284.00 458.90)" style="fill: #555555; stroke: #555555; stroke: #555555"/>
</g>
</g>
<g id="line2d_223">
<g>
<path d="M 0 0 L 0 1.8" transform="translate(284.00 261.80)" style="fill: #555555; stroke: #555555; stroke: #555555"/>
</g>
</g>
</g>
<g id="text_18">
<g transform="translate(134.06 490.43)">
<text>
<tspan x="0" y="-0.33" style="font-size: 14px; font-family: 'DejaVu Sans', sans-serif">l</tspan>
<tspan x="3.89" y="-0.33" style="font-size: 14px; font-family: 'DejaVu Sans', sans-serif">o</tspan>
<tspan x="12.46" y="-0.33" style="font-size: 14px; font-family: 'DejaVu Sans', sans-serif">g</tspan>
<tspan x="23.61" y="0.08" style="font-style: oblique; font-size: 14px; font-family: 'DejaVu Sans', sans-serif">L</tspan>
<tspan x="31.55" y="1.97" style="font-size: 9.8px; font-family: 'DejaVu Sans', sans-serif">5</tspan>
<tspan x="37.78" y="1.97" style="font-size: 9.8px; font-family: 'DejaVu Sans', sans-serif">1</tspan>
<tspan x="44.02" y="1.97" style="font-size: 9.8px; font-family: 'DejaVu Sans', sans-serif">0</tspan>
<tspan x="50.25" y="1.97" style="font-size: 9.8px; font-family: 'DejaVu Sans', sans-serif">0</tspan>
</text>
<rect x="23.61" y="-13.25" width="7.8" height="0.88"/>
</g>
</g>
</g>
<g id="matplotlib.axis_6">
<g id="ytick_38">
<g id="line2d_224">
<g>
<path d="M 0 0 L 3 0" transform="translate(41.10 452.74)" style="fill: #555555; stroke: #555555; stroke: #555555"/>
</g>
</g>
<g id="line2d_225">
<g>
<path d="M 0 0 L -3 0" transform="translate(284.00 452.74)" style="fill: #555555; stroke: #555555; stroke: #555555"/>
</g>
</g>
<g id="text_19">
<text style="font-size: 12px; font-family: 'DejaVu Sans', sans-serif; text-anchor: end" x="38.4" y="457.3" transform="rotate(-0 38.4 457.3)">−3</text>
</g>
</g>
<g id="ytick_39">
<g id="line2d_226">
<g>
<path d="M 0 0 L 3 0" transform="translate(41.10 421.94)" style="fill: #555555; stroke: #555555; stroke: #555555"/>
</g>
</g>
<g id="line2d_227">
<g>
<path d="M 0 0 L -3 0" transform="translate(284.00 421.94)" style="fill: #555555; stroke: #555555; stroke: #555555"/>
</g>
</g>
<g id="text_20">
<text style="font-size: 12px; font-family: 'DejaVu Sans', sans-serif; text-anchor: end" x="38.4" y="426.5" transform="rotate(-0 38.4 426.5)">−2</text>
</g>
</g>
<g id="ytick_40">
<g id="line2d_228">
<g>
<path d="M 0 0 L 3 0" transform="translate(41.10 391.15)" style="fill: #555555; stroke: #555555; stroke: #555555"/>
</g>
</g>
<g id="line2d_229">
<g>
<path d="M 0 0 L -3 0" transform="translate(284.00 391.15)" style="fill: #555555; stroke: #555555; stroke: #555555"/>
</g>
</g>
<g id="text_21">
<text style="font-size: 12px; font-family: 'DejaVu Sans', sans-serif; text-anchor: end" x="38.4" y="395.71" transform="rotate(-0 38.4 395.71)">−1</text>
</g>
</g>
<g id="ytick_41">
<g id="line2d_230">
<g>
<path d="M 0 0 L 3 0" transform="translate(41.10 360.35)" style="fill: #555555; stroke: #555555; stroke: #555555"/>
</g>
</g>
<g id="line2d_231">
<g>
<path d="M 0 0 L -3 0" transform="translate(284.00 360.35)" style="fill: #555555; stroke: #555555; stroke: #555555"/>
</g>
</g>
<g id="text_22">
<text style="font-size: 12px; font-family: 'DejaVu Sans', sans-serif; text-anchor: end" x="38.4" y="364.91" transform="rotate(-0 38.4 364.91)">0</text>
</g>
</g>
<g id="ytick_42">
<g id="line2d_232">
<g>
<path d="M 0 0 L 3 0" transform="translate(41.10 329.55)" style="fill: #555555; stroke: #555555; stroke: #555555"/>
</g>
</g>
<g id="line2d_233">
<g>
<path d="M 0 0 L -3 0" transform="translate(284.00 329.55)" style="fill: #555555; stroke: #555555; stroke: #555555"/>
</g>
</g>
<g id="text_23">
<text style="font-size: 12px; font-family: 'DejaVu Sans', sans-serif; text-anchor: end" x="38.4" y="334.11" transform="rotate(-0 38.4 334.11)">1</text>
</g>
</g>
<g id="ytick_43">
<g id="line2d_234">
<g>
<path d="M 0 0 L 3 0" transform="translate(41.10 298.76)" style="fill: #555555; stroke: #555555; stroke: #555555"/>
</g>
</g>
<g id="line2d_235">
<g>
<path d="M 0 0 L -3 0" transform="translate(284.00 298.76)" style="fill: #555555; stroke: #555555; stroke: #555555"/>
</g>
</g>
<g id="text_24">
<text style="font-size: 12px; font-family: 'DejaVu Sans', sans-serif; text-anchor: end" x="38.4" y="303.32" transform="rotate(-0 38.4 303.32)">2</text>
</g>
</g>
<g id="ytick_44">
<g id="line2d_236">
<g>
<path d="M 0 0 L 3 0" transform="translate(41.10 267.96)" style="fill: #555555; stroke: #555555; stroke: #555555"/>
</g>
</g>
<g id="line2d_237">
<g>
<path d="M 0 0 L -3 0" transform="translate(284.00 267.96)" style="fill: #555555; stroke: #555555; stroke: #555555"/>
</g>
</g>
<g id="text_25">
<text style="font-size: 12px; font-family: 'DejaVu Sans', sans-serif; text-anchor: end" x="38.4" y="272.52" transform="rotate(-0 38.4 272.52)">3</text>
</g>
</g>
<g id="ytick_45">
<g id="line2d_238">
<g>
<path d="M 0 0 L 1.8 0" transform="translate(41.10 458.90)" style="fill: #555555; stroke: #555555; stroke: #555555"/>
</g>
</g>
<g id="line2d_239">
<g>
<path d="M 0 0 L -1.8 0" transform="translate(284.00 458.90)" style="fill: #555555; stroke: #555555; stroke: #555555"/>
</g>
</g>
</g>
<g id="ytick_46">
<g id="line2d_240">
<g>
<path d="M 0 0 L 1.8 0" transform="translate(41.10 446.58)" style="fill: #555555; stroke: #555555; stroke: #555555"/>
</g>
</g>
<g id="line2d_241">
<g>
<path d="M 0 0 L -1.8 0" transform="translate(284.00 446.58)" style="fill: #555555; stroke: #555555; stroke: #555555"/>
</g>
</g>
</g>
<g id="ytick_47">
<g id="line2d_242">
<g>
<path d="M 0 0 L 1.8 0" transform="translate(41.10 440.42)" style="fill: #555555; stroke: #555555; stroke: #555555"/>
</g>
</g>
<g id="line2d_243">
<g>
<path d="M 0 0 L -1.8 0" transform="translate(284.00 440.42)" style="fill: #555555; stroke: #555555; stroke: #555555"/>
</g>
</g>
</g>
<g id="ytick_48">
<g id="line2d_244">
<g>
<path d="M 0 0 L 1.8 0" transform="translate(41.10 434.26)" style="fill: #555555; stroke: #555555; stroke: #555555"/>
</g>
</g>
<g id="line2d_245">
<g>
<path d="M 0 0 L -1.8 0" transform="translate(284.00 434.26)" style="fill: #555555; stroke: #555555; stroke: #555555"/>
</g>
</g>
</g>
<g id="ytick_49">
<g id="line2d_246">
<g>
<path d="M 0 0 L 1.8 0" transform="translate(41.10 428.10)" style="fill: #555555; stroke: #555555; stroke: #555555"/>
</g>
</g>
<g id="line2d_247">
<g>
<path d="M 0 0 L -1.8 0" transform="translate(284.00 428.10)" style="fill: #555555; stroke: #555555; stroke: #555555"/>
</g>
</g>
</g>
<g id="ytick_50">
<g id="line2d_248">
<g>
<path d="M 0 0 L 1.8 0" transform="translate(41.10 415.78)" style="fill: #555555; stroke: #555555; stroke: #555555"/>
</g>
</g>
<g id="line2d_249">
<g>
<path d="M 0 0 L -1.8 0" transform="translate(284.00 415.78)" style="fill: #555555; stroke: #555555; stroke: #555555"/>
</g>
</g>
</g>
<g id="ytick_51">
<g id="line2d_250">
<g>
<path d="M 0 0 L 1.8 0" transform="translate(41.10 409.62)" style="fill: #555555; stroke: #555555; stroke: #555555"/>
</g>
</g>
<g id="line2d_251">
<g>
<path d="M 0 0 L -1.8 0" transform="translate(284.00 409.62)" style="fill: #555555; stroke: #555555; stroke: #555555"/>
</g>
</g>
</g>
<g id="ytick_52">
<g id="line2d_252">
<g>
<path d="M 0 0 L 1.8 0" transform="translate(41.10 403.47)" style="fill: #555555; stroke: #555555; stroke: #555555"/>
</g>
</g>
<g id="line2d_253">
<g>
<path d="M 0 0 L -1.8 0" transform="translate(284.00 403.47)" style="fill: #555555; stroke: #555555; stroke: #555555"/>
</g>
</g>
</g>
<g id="ytick_53">
<g id="line2d_254">
<g>
<path d="M 0 0 L 1.8 0" transform="translate(41.10 397.31)" style="fill: #555555; stroke: #555555; stroke: #555555"/>
</g>
</g>
<g id="line2d_255">
<g>
<path d="M 0 0 L -1.8 0" transform="translate(284.00 397.31)" style="fill: #555555; stroke: #555555; stroke: #555555"/>
</g>
</g>
</g>
<g id="ytick_54">
<g id="line2d_256">
<g>
<path d="M 0 0 L 1.8 0" transform="translate(41.10 384.99)" style="fill: #555555; stroke: #555555; stroke: #555555"/>
</g>
</g>
<g id="line2d_257">
<g>
<path d="M 0 0 L -1.8 0" transform="translate(284.00 384.99)" style="fill: #555555; stroke: #555555; stroke: #555555"/>
</g>
</g>
</g>
<g id="ytick_55">
<g id="line2d_258">
<g>
<path d="M 0 0 L 1.8 0" transform="translate(41.10 378.83)" style="fill: #555555; stroke: #555555; stroke: #555555"/>
</g>
</g>
<g id="line2d_259">
<g>
<path d="M 0 0 L -1.8 0" transform="translate(284.00 378.83)" style="fill: #555555; stroke: #555555; stroke: #555555"/>
</g>
</g>
</g>
<g id="ytick_56">
<g id="line2d_260">
<g>
<path d="M 0 0 L 1.8 0" transform="translate(41.10 372.67)" style="fill: #555555; stroke: #555555; stroke: #555555"/>
</g>
</g>
<g id="line2d_261">
<g>
<path d="M 0 0 L -1.8 0" transform="translate(284.00 372.67)" style="fill: #555555; stroke: #555555; stroke: #555555"/>
</g>
</g>
</g>
<g id="ytick_57">
<g id="line2d_262">
<g>
<path d="M 0 0 L 1.8 0" transform="translate(41.10 366.51)" style="fill: #555555; stroke: #555555; stroke: #555555"/>
</g>
</g>
<g id="line2d_263">
<g>
<path d="M 0 0 L -1.8 0" transform="translate(284.00 366.51)" style="fill: #555555; stroke: #555555; stroke: #555555"/>
</g>
</g>
</g>
<g id="ytick_58">
<g id="line2d_264">
<g>
<path d="M 0 0 L 1.8 0" transform="translate(41.10 354.19)" style="fill: #555555; stroke: #555555; stroke: #555555"/>
</g>
</g>
<g id="line2d_265">
<g>
<path d="M 0 0 L -1.8 0" transform="translate(284.00 354.19)" style="fill: #555555; stroke: #555555; stroke: #555555"/>
</g>
</g>
</g>
<g id="ytick_59">
<g id="line2d_266">
<g>
<path d="M 0 0 L 1.8 0" transform="translate(41.10 348.03)" style="fill: #555555; stroke: #555555; stroke: #555555"/>
</g>
</g>
<g id="line2d_267">
<g>
<path d="M 0 0 L -1.8 0" transform="translate(284.00 348.03)" style="fill: #555555; stroke: #555555; stroke: #555555"/>
</g>
</g>
</g>
<g id="ytick_60">
<g id="line2d_268">
<g>
<path d="M 0 0 L 1.8 0" transform="translate(41.10 341.87)" style="fill: #555555; stroke: #555555; stroke: #555555"/>
</g>
</g>
<g id="line2d_269">
<g>
<path d="M 0 0 L -1.8 0" transform="translate(284.00 341.87)" style="fill: #555555; stroke: #555555; stroke: #555555"/>
</g>
</g>
</g>
<g id="ytick_61">
<g id="line2d_270">
<g>
<path d="M 0 0 L 1.8 0" transform="translate(41.10 335.71)" style="fill: #555555; stroke: #555555; stroke: #555555"/>
</g>
</g>
<g id="line2d_271">
<g>
<path d="M 0 0 L -1.8 0" transform="translate(284.00 335.71)" style="fill: #555555; stroke: #555555; stroke: #555555"/>
</g>
</g>
</g>
<g id="ytick_62">
<g id="line2d_272">
<g>
<path d="M 0 0 L 1.8 0" transform="translate(41.10 323.39)" style="fill: #555555; stroke: #555555; stroke: #555555"/>
</g>
</g>
<g id="line2d_273">
<g>
<path d="M 0 0 L -1.8 0" transform="translate(284.00 323.39)" style="fill: #555555; stroke: #555555; stroke: #555555"/>
</g>
</g>
</g>
<g id="ytick_63">
<g id="line2d_274">
<g>
<path d="M 0 0 L 1.8 0" transform="translate(41.10 317.23)" style="fill: #555555; stroke: #555555; stroke: #555555"/>
</g>
</g>
<g id="line2d_275">
<g>
<path d="M 0 0 L -1.8 0" transform="translate(284.00 317.23)" style="fill: #555555; stroke: #555555; stroke: #555555"/>
</g>
</g>
</g>
<g id="ytick_64">
<g id="line2d_276">
<g>
<path d="M 0 0 L 1.8 0" transform="translate(41.10 311.07)" style="fill: #555555; stroke: #555555; stroke: #555555"/>
</g>
</g>
<g id="line2d_277">
<g>
<path d="M 0 0 L -1.8 0" transform="translate(284.00 311.07)" style="fill: #555555; stroke: #555555; stroke: #555555"/>
</g>
</g>
</g>
<g id="ytick_65">
<g id="line2d_278">
<g>
<path d="M 0 0 L 1.8 0" transform="translate(41.10 304.92)" style="fill: #555555; stroke: #555555; stroke: #555555"/>
</g>
</g>
<g id="line2d_279">
<g>
<path d="M 0 0 L -1.8 0" transform="translate(284.00 304.92)" style="fill: #555555; stroke: #555555; stroke: #555555"/>
</g>
</g>
</g>
<g id="ytick_66">
<g id="line2d_280">
<g>
<path d="M 0 0 L 1.8 0" transform="translate(41.10 292.60)" style="fill: #555555; stroke: #555555; stroke: #555555"/>
</g>
</g>
<g id="line2d_281">
<g>
<path d="M 0 0 L -1.8 0" transform="translate(284.00 292.60)" style="fill: #555555; stroke: #555555; stroke: #555555"/>
</g>
</g>
</g>
<g id="ytick_67">
<g id="line2d_282">
<g>
<path d="M 0 0 L 1.8 0" transform="translate(41.10 286.44)" style="fill: #555555; stroke: #555555; stroke: #555555"/>
</g>
</g>
<g id="line2d_283">
<g>
<path d="M 0 0 L -1.8 0" transform="translate(284.00 286.44)" style="fill: #555555; stroke: #555555; stroke: #555555"/>
</g>
</g>
</g>
<g id="ytick_68">
<g id="line2d_284">
<g>
<path d="M 0 0 L 1.8 0" transform="translate(41.10 280.28)" style="fill: #555555; stroke: #555555; stroke: #555555"/>
</g>
</g>
<g id="line2d_285">
<g>
<path d="M 0 0 L -1.8 0" transform="translate(284.00 280.28)" style="fill: #555555; stroke: #555555; stroke: #555555"/>
</g>
</g>
</g>
<g id="ytick_69">
<g id="line2d_286">
<g>
<path d="M 0 0 L 1.8 0" transform="translate(41.10 274.12)" style="fill: #555555; stroke: #555555; stroke: #555555"/>
</g>
</g>
<g id="line2d_287">
<g>
<path d="M 0 0 L -1.8 0" transform="translate(284.00 274.12)" style="fill: #555555; stroke: #555555; stroke: #555555"/>
</g>
</g>
</g>
<g id="ytick_70">
<g id="line2d_288">
<g>
<path d="M 0 0 L 1.8 0" transform="translate(41.10 261.80)" style="fill: #555555; stroke: #555555; stroke: #555555"/>
</g>
</g>
<g id="line2d_289">
<g>
<path d="M 0 0 L -1.8 0" transform="translate(284.00 261.80)" style="fill: #555555; stroke: #555555; stroke: #555555"/>
</g>
</g>
</g>
<g id="text_26">
<g transform="translate(14.77 406.48) rotate(-90)">
<text>
<tspan x="0" y="-0.36" style="font-size: 14px; font-family: 'DejaVu Sans', sans-serif">i</tspan>
<tspan x="3.89" y="-0.36" style="font-size: 14px; font-family: 'DejaVu Sans', sans-serif">B</tspan>
<tspan x="13.49" y="-0.36" style="font-size: 14px; font-family: 'DejaVu Sans', sans-serif">e</tspan>
<tspan x="22.11" y="-0.36" style="font-size: 14px; font-family: 'DejaVu Sans', sans-serif">f</tspan>
<tspan x="27.04" y="-0.36" style="font-size: 14px; font-family: 'DejaVu Sans', sans-serif">f</tspan>
<tspan x="31.96" y="-0.36" style="font-size: 14px; font-family: 'DejaVu Sans', sans-serif"> </tspan>
<tspan x="36.42" y="-0.36" style="font-size: 14px; font-family: 'DejaVu Sans', sans-serif">s</tspan>
<tspan x="43.71" y="-0.36" style="font-size: 14px; font-family: 'DejaVu Sans', sans-serif">l</tspan>
<tspan x="47.6" y="-0.36" style="font-size: 14px; font-family: 'DejaVu Sans', sans-serif">o</tspan>
<tspan x="56.16" y="-0.36" style="font-size: 14px; font-family: 'DejaVu Sans', sans-serif">p</tspan>
<tspan x="65.05" y="-0.36" style="font-size: 14px; font-family: 'DejaVu Sans', sans-serif">e</tspan>
<tspan x="73.66" y="-0.36" style="font-size: 14px; font-family: 'DejaVu Sans', sans-serif"> </tspan>
<tspan x="78.25" y="1.94" style="font-style: oblique; font-size: 9.8px; font-family: 'DejaVu Sans', sans-serif">H</tspan>
<tspan x="85.62" y="1.94" style="font-style: oblique; font-size: 9.8px; font-family: 'DejaVu Sans', sans-serif">b</tspan>
</text>
</g>
</g>
</g>
<g id="PathCollection_5">
<g clip-path="url(#p349a65ac7e)">
<circle cx="84.60" cy="362.20" r="1.8" style="fill: #1f77b4; fill-opacity: 0.8"/>
</g>
<g clip-path="url(#p349a65ac7e)">
<circle cx="99.10" cy="363.70" r="1.8" style="fill: #1f77b4; fill-opacity: 0.8"/>
</g>
<g clip-path="url(#p349a65ac7e)">
<circle cx="112.60" cy="365.10" r="1.8" style="fill: #1f77b4; fill-opacity: 0.8"/>
</g>
<g clip-path="url(#p349a65ac7e)">
<circle cx="111.00" cy="370.00" r="1.8" style="fill: #1f77b4; fill-opacity: 0.8"/>
</g>
<g clip-path="url(#p349a65ac7e)">
<circle cx="118.20" cy="361.00" r="1.8" style="fill: #1f77b4; fill-opacity: 0.8"/>
</g>
<g clip-path="url(#p349a65ac7e)">
<circle cx="97.10" cy="376.30" r="1.8" style="fill: #1f77b4; fill-opacity: 0.8"/>
</g>
<g clip-path="url(#p349a65ac7e)">
<circle cx="159.60" cy="440.20" r="1.8" style="fill: #1f77b4; fill-opacity: 0.8"/>
</g>
<g clip-path="url(#p349a65ac7e)">
<circle cx="145.40" cy="302.30" r="1.8" style="fill: #1f77b4; fill-opacity: 0.8"/>
</g>
<g clip-path="url(#p349a65ac7e)">
<circle cx="152.90" cy="321.30" r="1.8" style="fill: #1f77b4; fill-opacity: 0.8"/>
</g>
<g clip-path="url(#p349a65ac7e)">
<circle cx="131.60" cy="328.00" r="1.8" style="fill: #1f77b4; fill-opacity: 0.8"/>
</g>
<g clip-path="url(#p349a65ac7e)">
<circle cx="154.20" cy="334.50" r="1.8" style="fill: #1f77b4; fill-opacity: 0.8"/>
</g>
<g clip-path="url(#p349a65ac7e)">
<circle cx="154.20" cy="341.20" r="1.8" style="fill: #1f77b4; fill-opacity: 0.8"/>
</g>
<g clip-path="url(#p349a65ac7e)">
<circle cx="152.00" cy="345.70" r="1.8" style="fill: #1f77b4; fill-opacity: 0.8"/>
</g>
<g clip-path="url(#p349a65ac7e)">
<circle cx="137.40" cy="351.30" r="1.8" style="fill: #1f77b4; fill-opacity: 0.8"/>
</g>
<g clip-path="url(#p349a65ac7e)">
<circle cx="138.50" cy="353.50" r="1.8" style="fill: #1f77b4; fill-opacity: 0.8"/>
</g>
<g clip-path="url(#p349a65ac7e)">
<circle cx="146.90" cy="353.50" r="1.8" style="fill: #1f77b4; fill-opacity: 0.8"/>
</g>
<g clip-path="url(#p349a65ac7e)">
<circle cx="127.10" cy="359.40" r="1.8" style="fill: #1f77b4; fill-opacity: 0.8"/>
</g>
<g clip-path="url(#p349a65ac7e)">
<circle cx="150.90" cy="361.90" r="1.8" style="fill: #1f77b4; fill-opacity: 0.8"/>
</g>
<g clip-path="url(#p349a65ac7e)">
<circle cx="152.50" cy="360.80" r="1.8" style="fill: #1f77b4; fill-opacity: 0.8"/>
</g>
<g clip-path="url(#p349a65ac7e)">
<circle cx="124.50" cy="366.40" r="1.8" style="fill: #1f77b4; fill-opacity: 0.8"/>
</g>
<g clip-path="url(#p349a65ac7e)">
<circle cx="141.90" cy="367.00" r="1.8" style="fill: #1f77b4; fill-opacity: 0.8"/>
</g>
<g clip-path="url(#p349a65ac7e)">
<circle cx="145.30" cy="365.30" r="1.8" style="fill: #1f77b4; fill-opacity: 0.8"/>
</g>
<g clip-path="url(#p349a65ac7e)">
<circle cx="152.50" cy="367.50" r="1.8" style="fill: #1f77b4; fill-opacity: 0.8"/>
</g>
<g clip-path="url(#p349a65ac7e)">
<circle cx="149.50" cy="373.10" r="1.8" style="fill: #1f77b4; fill-opacity: 0.8"/>
</g>
<g clip-path="url(#p349a65ac7e)">
<circle cx="151.40" cy="378.40" r="1.8" style="fill: #1f77b4; fill-opacity: 0.8"/>
</g>
<g clip-path="url(#p349a65ac7e)">
<circle cx="152.30" cy="379.60" r="1.8" style="fill: #1f77b4; fill-opacity: 0.8"/>
</g>
<g clip-path="url(#p349a65ac7e)">
<circle cx="129.60" cy="380.50" r="1.8" style="fill: #1f77b4; fill-opacity: 0.8"/>
</g>
<g clip-path="url(#p349a65ac7e)">
<circle cx="142.10" cy="381.20" r="1.8" style="fill: #1f77b4; fill-opacity: 0.8"/>
</g>
<g clip-path="url(#p349a65ac7e)">
<circle cx="139.40" cy="400.30" r="1.8" style="fill: #1f77b4; fill-opacity: 0.8"/>
</g>
<g clip-path="url(#p349a65ac7e)">
<circle cx="160.50" cy="409.80" r="1.8" style="fill: #1f77b4; fill-opacity: 0.8"/>
</g>
<g clip-path="url(#p349a65ac7e)">
<circle cx="162.90" cy="410.10" r="1.8" style="fill: #1f77b4; fill-opacity: 0.8"/>
</g>
<g clip-path="url(#p349a65ac7e)">
<circle cx="162.30" cy="417.10" r="1.8" style="fill: #1f77b4; fill-opacity: 0.8"/>
</g>
<g clip-path="url(#p349a65ac7e)">
<circle cx="189.10" cy="271.80" r="1.8" style="fill: #1f77b4; fill-opacity: 0.8"/>
</g>
<g clip-path="url(#p349a65ac7e)">
<circle cx="170.20" cy="276.50" r="1.8" style="fill: #1f77b4; fill-opacity: 0.8"/>
</g>
<g clip-path="url(#p349a65ac7e)">
<circle cx="159.10" cy="279.90" r="1.8" style="fill: #1f77b4; fill-opacity: 0.8"/>
</g>
<g clip-path="url(#p349a65ac7e)">
<circle cx="175.60" cy="285.70" r="1.8" style="fill: #1f77b4; fill-opacity: 0.8"/>
</g>
<g clip-path="url(#p349a65ac7e)">
<circle cx="184.30" cy="284.40" r="1.8" style="fill: #1f77b4; fill-opacity: 0.8"/>
</g>
<g clip-path="url(#p349a65ac7e)">
<circle cx="170.20" cy="292.30" r="1.8" style="fill: #1f77b4; fill-opacity: 0.8"/>
</g>
<g clip-path="url(#p349a65ac7e)">
<circle cx="182.20" cy="291.00" r="1.8" style="fill: #1f77b4; fill-opacity: 0.8"/>
</g>
<g clip-path="url(#p349a65ac7e)">
<circle cx="189.80" cy="295.00" r="1.8" style="fill: #1f77b4; fill-opacity: 0.8"/>
</g>
<g clip-path="url(#p349a65ac7e)">
<circle cx="186.30" cy="299.80" r="1.8" style="fill: #1f77b4; fill-opacity: 0.8"/>
</g>
<g clip-path="url(#p349a65ac7e)">
<circle cx="173.20" cy="302.20" r="1.8" style="fill: #1f77b4; fill-opacity: 0.8"/>
</g>
<g clip-path="url(#p349a65ac7e)">
<circle cx="172.40" cy="306.10" r="1.8" style="fill: #1f77b4; fill-opacity: 0.8"/>
</g>
<g clip-path="url(#p349a65ac7e)">
<circle cx="184.20" cy="305.80" r="1.8" style="fill: #1f77b4; fill-opacity: 0.8"/>
</g>
<g clip-path="url(#p349a65ac7e)">
<circle cx="163.20" cy="312.00" r="1.8" style="fill: #1f77b4; fill-opacity: 0.8"/>
</g>
<g clip-path="url(#p349a65ac7e)">
<circle cx="168.80" cy="310.90" r="1.8" style="fill: #1f77b4; fill-opacity: 0.8"/>
</g>
<g clip-path="url(#p349a65ac7e)">
<circle cx="181.40" cy="315.00" r="1.8" style="fill: #1f77b4; fill-opacity: 0.8"/>
</g>
<g clip-path="url(#p349a65ac7e)">
<circle cx="190.00" cy="314.10" r="1.8" style="fill: #1f77b4; fill-opacity: 0.8"/>
</g>
<g clip-path="url(#p349a65ac7e)">
<circle cx="167.40" cy="321.80" r="1.8" style="fill: #1f77b4; fill-opacity: 0.8"/>
</g>
<g clip-path="url(#p349a65ac7e)">
<circle cx="169.00" cy="320.80" r="1.8" style="fill: #1f77b4; fill-opacity: 0.8"/>
</g>
<g clip-path="url(#p349a65ac7e)">
<circle cx="177.80" cy="322.70" r="1.8" style="fill: #1f77b4; fill-opacity: 0.8"/>
</g>
<g clip-path="url(#p349a65ac7e)">
<circle cx="181.40" cy="324.30" r="1.8" style="fill: #1f77b4; fill-opacity: 0.8"/>
</g>
<g clip-path="url(#p349a65ac7e)">
<circle cx="183.60" cy="326.60" r="1.8" style="fill: #1f77b4; fill-opacity: 0.8"/>
</g>
<g clip-path="url(#p349a65ac7e)">
<circle cx="176.90" cy="328.50" r="1.8" style="fill: #1f77b4; fill-opacity: 0.8"/>
</g>
<g clip-path="url(#p349a65ac7e)">
<circle cx="174.90" cy="330.70" r="1.8" style="fill: #1f77b4; fill-opacity: 0.8"/>
</g>
<g clip-path="url(#p349a65ac7e)">
<circle cx="181.60" cy="331.60" r="1.8" style="fill: #1f77b4; fill-opacity: 0.8"/>
</g>
<g clip-path="url(#p349a65ac7e)">
<circle cx="188.70" cy="332.20" r="1.8" style="fill: #1f77b4; fill-opacity: 0.8"/>
</g>
<g clip-path="url(#p349a65ac7e)">
<circle cx="160.50" cy="344.00" r="1.8" style="fill: #1f77b4; fill-opacity: 0.8"/>
</g>
<g clip-path="url(#p349a65ac7e)">
<circle cx="162.60" cy="344.40" r="1.8" style="fill: #1f77b4; fill-opacity: 0.8"/>
</g>
<g clip-path="url(#p349a65ac7e)">
<circle cx="167.50" cy="345.40" r="1.8" style="fill: #1f77b4; fill-opacity: 0.8"/>
</g>
<g clip-path="url(#p349a65ac7e)">
<circle cx="165.40" cy="348.20" r="1.8" style="fill: #1f77b4; fill-opacity: 0.8"/>
</g>
<g clip-path="url(#p349a65ac7e)">
<circle cx="171.00" cy="344.00" r="1.8" style="fill: #1f77b4; fill-opacity: 0.8"/>
</g>
<g clip-path="url(#p349a65ac7e)">
<circle cx="173.10" cy="342.30" r="1.8" style="fill: #1f77b4; fill-opacity: 0.8"/>
</g>
<g clip-path="url(#p349a65ac7e)">
<circle cx="160.50" cy="351.70" r="1.8" style="fill: #1f77b4; fill-opacity: 0.8"/>
</g>
<g clip-path="url(#p349a65ac7e)">
<circle cx="165.40" cy="352.40" r="1.8" style="fill: #1f77b4; fill-opacity: 0.8"/>
</g>
<g clip-path="url(#p349a65ac7e)">
<circle cx="169.60" cy="353.10" r="1.8" style="fill: #1f77b4; fill-opacity: 0.8"/>
</g>
<g clip-path="url(#p349a65ac7e)">
<circle cx="166.80" cy="351.00" r="1.8" style="fill: #1f77b4; fill-opacity: 0.8"/>
</g>
<g clip-path="url(#p349a65ac7e)">
<circle cx="158.80" cy="355.30" r="1.8" style="fill: #1f77b4; fill-opacity: 0.8"/>
</g>
<g clip-path="url(#p349a65ac7e)">
<circle cx="166.80" cy="356.30" r="1.8" style="fill: #1f77b4; fill-opacity: 0.8"/>
</g>
<g clip-path="url(#p349a65ac7e)">
<circle cx="160.50" cy="360.20" r="1.8" style="fill: #1f77b4; fill-opacity: 0.8"/>
</g>
<g clip-path="url(#p349a65ac7e)">
<circle cx="156.70" cy="361.90" r="1.8" style="fill: #1f77b4; fill-opacity: 0.8"/>
</g>
<g clip-path="url(#p349a65ac7e)">
<circle cx="159.10" cy="363.30" r="1.8" style="fill: #1f77b4; fill-opacity: 0.8"/>
</g>
<g clip-path="url(#p349a65ac7e)">
<circle cx="168.20" cy="360.20" r="1.8" style="fill: #1f77b4; fill-opacity: 0.8"/>
</g>
<g clip-path="url(#p349a65ac7e)">
<circle cx="168.60" cy="361.60" r="1.8" style="fill: #1f77b4; fill-opacity: 0.8"/>
</g>
<g clip-path="url(#p349a65ac7e)">
<circle cx="174.20" cy="362.30" r="1.8" style="fill: #1f77b4; fill-opacity: 0.8"/>
</g>
<g clip-path="url(#p349a65ac7e)">
<circle cx="161.90" cy="365.80" r="1.8" style="fill: #1f77b4; fill-opacity: 0.8"/>
</g>
<g clip-path="url(#p349a65ac7e)">
<circle cx="165.40" cy="365.10" r="1.8" style="fill: #1f77b4; fill-opacity: 0.8"/>
</g>
<g clip-path="url(#p349a65ac7e)">
<circle cx="165.80" cy="367.20" r="1.8" style="fill: #1f77b4; fill-opacity: 0.8"/>
</g>
<g clip-path="url(#p349a65ac7e)">
<circle cx="167.20" cy="368.90" r="1.8" style="fill: #1f77b4; fill-opacity: 0.8"/>
</g>
<g clip-path="url(#p349a65ac7e)">
<circle cx="168.60" cy="370.70" r="1.8" style="fill: #1f77b4; fill-opacity: 0.8"/>
</g>
<g clip-path="url(#p349a65ac7e)">
<circle cx="171.40" cy="374.20" r="1.8" style="fill: #1f77b4; fill-opacity: 0.8"/>
</g>
<g clip-path="url(#p349a65ac7e)">
<circle cx="180.30" cy="370.30" r="1.8" style="fill: #1f77b4; fill-opacity: 0.8"/>
</g>
<g clip-path="url(#p349a65ac7e)">
<circle cx="178.90" cy="375.40" r="1.8" style="fill: #1f77b4; fill-opacity: 0.8"/>
</g>
<g clip-path="url(#p349a65ac7e)">
<circle cx="185.00" cy="375.40" r="1.8" style="fill: #1f77b4; fill-opacity: 0.8"/>
</g>
<g clip-path="url(#p349a65ac7e)">
<circle cx="185.60" cy="376.70" r="1.8" style="fill: #1f77b4; fill-opacity: 0.8"/>
</g>
<g clip-path="url(#p349a65ac7e)">
<circle cx="165.90" cy="381.40" r="1.8" style="fill: #1f77b4; fill-opacity: 0.8"/>
</g>
<g clip-path="url(#p349a65ac7e)">
<circle cx="183.40" cy="380.60" r="1.8" style="fill: #1f77b4; fill-opacity: 0.8"/>
</g>
<g clip-path="url(#p349a65ac7e)">
<circle cx="187.00" cy="379.50" r="1.8" style="fill: #1f77b4; fill-opacity: 0.8"/>
</g>
<g clip-path="url(#p349a65ac7e)">
<circle cx="186.40" cy="382.90" r="1.8" style="fill: #1f77b4; fill-opacity: 0.8"/>
</g>
<g clip-path="url(#p349a65ac7e)">
<circle cx="156.90" cy="385.70" r="1.8" style="fill: #1f77b4; fill-opacity: 0.8"/>
</g>
<g clip-path="url(#p349a65ac7e)">
<circle cx="166.60" cy="386.60" r="1.8" style="fill: #1f77b4; fill-opacity: 0.8"/>
</g>
<g clip-path="url(#p349a65ac7e)">
<circle cx="165.70" cy="388.50" r="1.8" style="fill: #1f77b4; fill-opacity: 0.8"/>
</g>
<g clip-path="url(#p349a65ac7e)">
<circle cx="164.30" cy="390.20" r="1.8" style="fill: #1f77b4; fill-opacity: 0.8"/>
</g>
<g clip-path="url(#p349a65ac7e)">
<circle cx="173.00" cy="387.40" r="1.8" style="fill: #1f77b4; fill-opacity: 0.8"/>
</g>
<g clip-path="url(#p349a65ac7e)">
<circle cx="176.00" cy="384.60" r="1.8" style="fill: #1f77b4; fill-opacity: 0.8"/>
</g>
<g clip-path="url(#p349a65ac7e)">
<circle cx="175.50" cy="386.20" r="1.8" style="fill: #1f77b4; fill-opacity: 0.8"/>
</g>
<g clip-path="url(#p349a65ac7e)">
<circle cx="183.40" cy="384.30" r="1.8" style="fill: #1f77b4; fill-opacity: 0.8"/>
</g>
<g clip-path="url(#p349a65ac7e)">
<circle cx="188.70" cy="386.80" r="1.8" style="fill: #1f77b4; fill-opacity: 0.8"/>
</g>
<g clip-path="url(#p349a65ac7e)">
<circle cx="184.50" cy="392.40" r="1.8" style="fill: #1f77b4; fill-opacity: 0.8"/>
</g>
<g clip-path="url(#p349a65ac7e)">
<circle cx="188.70" cy="393.30" r="1.8" style="fill: #1f77b4; fill-opacity: 0.8"/>
</g>
<g clip-path="url(#p349a65ac7e)">
<circle cx="167.70" cy="408.10" r="1.8" style="fill: #1f77b4; fill-opacity: 0.8"/>
</g>
<g clip-path="url(#p349a65ac7e)">
<circle cx="173.50" cy="407.00" r="1.8" style="fill: #1f77b4; fill-opacity: 0.8"/>
</g>
<g clip-path="url(#p349a65ac7e)">
<circle cx="183.40" cy="407.50" r="1.8" style="fill: #1f77b4; fill-opacity: 0.8"/>
</g>
<g clip-path="url(#p349a65ac7e)">
<circle cx="180.00" cy="409.80" r="1.8" style="fill: #1f77b4; fill-opacity: 0.8"/>
</g>
<g clip-path="url(#p349a65ac7e)">
<circle cx="195.60" cy="401.10" r="1.8" style="fill: #1f77b4; fill-opacity: 0.8"/>
</g>
<g clip-path="url(#p349a65ac7e)">
<circle cx="174.90" cy="411.50" r="1.8" style="fill: #1f77b4; fill-opacity: 0.8"/>
</g>
<g clip-path="url(#p349a65ac7e)">
<circle cx="191.70" cy="405.60" r="1.8" style="fill: #1f77b4; fill-opacity: 0.8"/>
</g>
<g clip-path="url(#p349a65ac7e)">
<circle cx="169.70" cy="415.70" r="1.8" style="fill: #1f77b4; fill-opacity: 0.8"/>
</g>
<g clip-path="url(#p349a65ac7e)">
<circle cx="174.30" cy="415.70" r="1.8" style="fill: #1f77b4; fill-opacity: 0.8"/>
</g>
<g clip-path="url(#p349a65ac7e)">
<circle cx="167.90" cy="425.50" r="1.8" style="fill: #1f77b4; fill-opacity: 0.8"/>
</g>
<g clip-path="url(#p349a65ac7e)">
<circle cx="176.40" cy="429.10" r="1.8" style="fill: #1f77b4; fill-opacity: 0.8"/>
</g>
<g clip-path="url(#p349a65ac7e)">
<circle cx="172.50" cy="436.70" r="1.8" style="fill: #1f77b4; fill-opacity: 0.8"/>
</g>
<g clip-path="url(#p349a65ac7e)">
<circle cx="190.30" cy="424.50" r="1.8" style="fill: #1f77b4; fill-opacity: 0.8"/>
</g>
<g clip-path="url(#p349a65ac7e)">
<circle cx="192.10" cy="422.10" r="1.8" style="fill: #1f77b4; fill-opacity: 0.8"/>
</g>
<g clip-path="url(#p349a65ac7e)">
<circle cx="192.10" cy="432.50" r="1.8" style="fill: #1f77b4; fill-opacity: 0.8"/>
</g>
<g clip-path="url(#p349a65ac7e)">
<circle cx="188.30" cy="449.00" r="1.8" style="fill: #1f77b4; fill-opacity: 0.8"/>
</g>
<g clip-path="url(#p349a65ac7e)">
<circle cx="189.30" cy="452.10" r="1.8" style="fill: #1f77b4; fill-opacity: 0.8"/>
</g>
<g clip-path="url(#p349a65ac7e)">
<circle cx="201.90" cy="423.80" r="1.8" style="fill: #1f77b4; fill-opacity: 0.8"/>
</g>
<g clip-path="url(#p349a65ac7e)">
<circle cx="211.80" cy="278.60" r="1.8" style="fill: #1f77b4; fill-opacity: 0.8"/>
</g>
<g clip-path="url(#p349a65ac7e)">
<circle cx="207.30" cy="298.40" r="1.8" style="fill: #1f77b4; fill-opacity: 0.8"/>
</g>
<g clip-path="url(#p349a65ac7e)">
<circle cx="193.40" cy="304.50" r="1.8" style="fill: #1f77b4; fill-opacity: 0.8"/>
</g>
<g clip-path="url(#p349a65ac7e)">
<circle cx="221.80" cy="307.10" r="1.8" style="fill: #1f77b4; fill-opacity: 0.8"/>
</g>
<g clip-path="url(#p349a65ac7e)">
<circle cx="193.70" cy="316.80" r="1.8" style="fill: #1f77b4; fill-opacity: 0.8"/>
</g>
<g clip-path="url(#p349a65ac7e)">
<circle cx="202.40" cy="317.40" r="1.8" style="fill: #1f77b4; fill-opacity: 0.8"/>
</g>
<g clip-path="url(#p349a65ac7e)">
<circle cx="208.30" cy="321.30" r="1.8" style="fill: #1f77b4; fill-opacity: 0.8"/>
</g>
<g clip-path="url(#p349a65ac7e)">
<circle cx="212.80" cy="321.70" r="1.8" style="fill: #1f77b4; fill-opacity: 0.8"/>
</g>
<g clip-path="url(#p349a65ac7e)">
<circle cx="211.70" cy="325.00" r="1.8" style="fill: #1f77b4; fill-opacity: 0.8"/>
</g>
<g clip-path="url(#p349a65ac7e)">
<circle cx="192.60" cy="325.80" r="1.8" style="fill: #1f77b4; fill-opacity: 0.8"/>
</g>
<g clip-path="url(#p349a65ac7e)">
<circle cx="195.60" cy="330.90" r="1.8" style="fill: #1f77b4; fill-opacity: 0.8"/>
</g>
<g clip-path="url(#p349a65ac7e)">
<circle cx="197.30" cy="331.40" r="1.8" style="fill: #1f77b4; fill-opacity: 0.8"/>
</g>
<g clip-path="url(#p349a65ac7e)">
<circle cx="203.20" cy="331.80" r="1.8" style="fill: #1f77b4; fill-opacity: 0.8"/>
</g>
<g clip-path="url(#p349a65ac7e)">
<circle cx="221.80" cy="330.30" r="1.8" style="fill: #1f77b4; fill-opacity: 0.8"/>
</g>
<g clip-path="url(#p349a65ac7e)">
<circle cx="223.70" cy="332.50" r="1.8" style="fill: #1f77b4; fill-opacity: 0.8"/>
</g>
<g clip-path="url(#p349a65ac7e)">
<circle cx="190.90" cy="331.80" r="1.8" style="fill: #1f77b4; fill-opacity: 0.8"/>
</g>
<g clip-path="url(#p349a65ac7e)">
<circle cx="192.20" cy="336.40" r="1.8" style="fill: #1f77b4; fill-opacity: 0.8"/>
</g>
<g clip-path="url(#p349a65ac7e)">
<circle cx="194.70" cy="336.00" r="1.8" style="fill: #1f77b4; fill-opacity: 0.8"/>
</g>
<g clip-path="url(#p349a65ac7e)">
<circle cx="188.80" cy="341.40" r="1.8" style="fill: #1f77b4; fill-opacity: 0.8"/>
</g>
<g clip-path="url(#p349a65ac7e)">
<circle cx="183.80" cy="344.00" r="1.8" style="fill: #1f77b4; fill-opacity: 0.8"/>
</g>
<g clip-path="url(#p349a65ac7e)">
<circle cx="194.70" cy="344.40" r="1.8" style="fill: #1f77b4; fill-opacity: 0.8"/>
</g>
<g clip-path="url(#p349a65ac7e)">
<circle cx="201.80" cy="345.20" r="1.8" style="fill: #1f77b4; fill-opacity: 0.8"/>
</g>
<g clip-path="url(#p349a65ac7e)">
<circle cx="190.10" cy="349.80" r="1.8" style="fill: #1f77b4; fill-opacity: 0.8"/>
</g>
<g clip-path="url(#p349a65ac7e)">
<circle cx="192.60" cy="351.10" r="1.8" style="fill: #1f77b4; fill-opacity: 0.8"/>
</g>
<g clip-path="url(#p349a65ac7e)">
<circle cx="200.20" cy="349.00" r="1.8" style="fill: #1f77b4; fill-opacity: 0.8"/>
</g>
<g clip-path="url(#p349a65ac7e)">
<circle cx="203.50" cy="351.10" r="1.8" style="fill: #1f77b4; fill-opacity: 0.8"/>
</g>
<g clip-path="url(#p349a65ac7e)">
<circle cx="205.20" cy="350.70" r="1.8" style="fill: #1f77b4; fill-opacity: 0.8"/>
</g>
<g clip-path="url(#p349a65ac7e)">
<circle cx="185.50" cy="352.80" r="1.8" style="fill: #1f77b4; fill-opacity: 0.8"/>
</g>
<g clip-path="url(#p349a65ac7e)">
<circle cx="189.20" cy="355.30" r="1.8" style="fill: #1f77b4; fill-opacity: 0.8"/>
</g>
<g clip-path="url(#p349a65ac7e)">
<circle cx="192.60" cy="355.30" r="1.8" style="fill: #1f77b4; fill-opacity: 0.8"/>
</g>
<g clip-path="url(#p349a65ac7e)">
<circle cx="193.90" cy="353.60" r="1.8" style="fill: #1f77b4; fill-opacity: 0.8"/>
</g>
<g clip-path="url(#p349a65ac7e)">
<circle cx="201.40" cy="354.50" r="1.8" style="fill: #1f77b4; fill-opacity: 0.8"/>
</g>
<g clip-path="url(#p349a65ac7e)">
<circle cx="204.80" cy="357.00" r="1.8" style="fill: #1f77b4; fill-opacity: 0.8"/>
</g>
<g clip-path="url(#p349a65ac7e)">
<circle cx="178.70" cy="339.40" r="1.8" style="fill: #1f77b4; fill-opacity: 0.8"/>
</g>
<g clip-path="url(#p349a65ac7e)">
<circle cx="231.30" cy="311.20" r="1.8" style="fill: #1f77b4; fill-opacity: 0.8"/>
</g>
<g clip-path="url(#p349a65ac7e)">
<circle cx="242.50" cy="335.90" r="1.8" style="fill: #1f77b4; fill-opacity: 0.8"/>
</g>
<g clip-path="url(#p349a65ac7e)">
<circle cx="226.80" cy="339.00" r="1.8" style="fill: #1f77b4; fill-opacity: 0.8"/>
</g>
<g clip-path="url(#p349a65ac7e)">
<circle cx="210.50" cy="343.00" r="1.8" style="fill: #1f77b4; fill-opacity: 0.8"/>
</g>
<g clip-path="url(#p349a65ac7e)">
<circle cx="207.60" cy="359.00" r="1.8" style="fill: #1f77b4; fill-opacity: 0.8"/>
</g>
<g clip-path="url(#p349a65ac7e)">
<circle cx="210.10" cy="359.00" r="1.8" style="fill: #1f77b4; fill-opacity: 0.8"/>
</g>
<g clip-path="url(#p349a65ac7e)">
<circle cx="208.50" cy="361.10" r="1.8" style="fill: #1f77b4; fill-opacity: 0.8"/>
</g>
<g clip-path="url(#p349a65ac7e)">
<circle cx="211.80" cy="361.90" r="1.8" style="fill: #1f77b4; fill-opacity: 0.8"/>
</g>
<g clip-path="url(#p349a65ac7e)">
<circle cx="215.60" cy="360.20" r="1.8" style="fill: #1f77b4; fill-opacity: 0.8"/>
</g>
<g clip-path="url(#p349a65ac7e)">
<circle cx="213.50" cy="363.60" r="1.8" style="fill: #1f77b4; fill-opacity: 0.8"/>
</g>
<g clip-path="url(#p349a65ac7e)">
<circle cx="220.50" cy="357.70" r="1.8" style="fill: #1f77b4; fill-opacity: 0.8"/>
</g>
<g clip-path="url(#p349a65ac7e)">
<circle cx="223.60" cy="363.20" r="1.8" style="fill: #1f77b4; fill-opacity: 0.8"/>
</g>
<g clip-path="url(#p349a65ac7e)">
<circle cx="226.50" cy="363.20" r="1.8" style="fill: #1f77b4; fill-opacity: 0.8"/>
</g>
<g clip-path="url(#p349a65ac7e)">
<circle cx="202.10" cy="365.90" r="1.8" style="fill: #1f77b4; fill-opacity: 0.8"/>
</g>
<g clip-path="url(#p349a65ac7e)">
<circle cx="210.10" cy="365.90" r="1.8" style="fill: #1f77b4; fill-opacity: 0.8"/>
</g>
<g clip-path="url(#p349a65ac7e)">
<circle cx="209.70" cy="370.10" r="1.8" style="fill: #1f77b4; fill-opacity: 0.8"/>
</g>
<g clip-path="url(#p349a65ac7e)">
<circle cx="221.80" cy="367.70" r="1.8" style="fill: #1f77b4; fill-opacity: 0.8"/>
</g>
<g clip-path="url(#p349a65ac7e)">
<circle cx="226.90" cy="367.60" r="1.8" style="fill: #1f77b4; fill-opacity: 0.8"/>
</g>
<g clip-path="url(#p349a65ac7e)">
<circle cx="221.80" cy="377.80" r="1.8" style="fill: #1f77b4; fill-opacity: 0.8"/>
</g>
<g clip-path="url(#p349a65ac7e)">
<circle cx="212.20" cy="380.20" r="1.8" style="fill: #1f77b4; fill-opacity: 0.8"/>
</g>
<g clip-path="url(#p349a65ac7e)">
<circle cx="201.70" cy="381.70" r="1.8" style="fill: #1f77b4; fill-opacity: 0.8"/>
</g>
<g clip-path="url(#p349a65ac7e)">
<circle cx="206.70" cy="383.10" r="1.8" style="fill: #1f77b4; fill-opacity: 0.8"/>
</g>
<g clip-path="url(#p349a65ac7e)">
<circle cx="217.20" cy="383.40" r="1.8" style="fill: #1f77b4; fill-opacity: 0.8"/>
</g>
<g clip-path="url(#p349a65ac7e)">
<circle cx="209.70" cy="385.20" r="1.8" style="fill: #1f77b4; fill-opacity: 0.8"/>
</g>
<g clip-path="url(#p349a65ac7e)">
<circle cx="212.20" cy="385.20" r="1.8" style="fill: #1f77b4; fill-opacity: 0.8"/>
</g>
<g clip-path="url(#p349a65ac7e)">
<circle cx="213.40" cy="386.70" r="1.8" style="fill: #1f77b4; fill-opacity: 0.8"/>
</g>
<g clip-path="url(#p349a65ac7e)">
<circle cx="209.20" cy="386.90" r="1.8" style="fill: #1f77b4; fill-opacity: 0.8"/>
</g>
<g clip-path="url(#p349a65ac7e)">
<circle cx="205.50" cy="387.30" r="1.8" style="fill: #1f77b4; fill-opacity: 0.8"/>
</g>
<g clip-path="url(#p349a65ac7e)">
<circle cx="222.70" cy="388.20" r="1.8" style="fill: #1f77b4; fill-opacity: 0.8"/>
</g>
<g clip-path="url(#p349a65ac7e)">
<circle cx="189.90" cy="363.50" r="1.8" style="fill: #1f77b4; fill-opacity: 0.8"/>
</g>
<g clip-path="url(#p349a65ac7e)">
<circle cx="192.30" cy="361.10" r="1.8" style="fill: #1f77b4; fill-opacity: 0.8"/>
</g>
<g clip-path="url(#p349a65ac7e)">
<circle cx="196.80" cy="361.10" r="1.8" style="fill: #1f77b4; fill-opacity: 0.8"/>
</g>
<g clip-path="url(#p349a65ac7e)">
<circle cx="185.80" cy="365.20" r="1.8" style="fill: #1f77b4; fill-opacity: 0.8"/>
</g>
<g clip-path="url(#p349a65ac7e)">
<circle cx="197.60" cy="368.00" r="1.8" style="fill: #1f77b4; fill-opacity: 0.8"/>
</g>
<g clip-path="url(#p349a65ac7e)">
<circle cx="191.10" cy="372.50" r="1.8" style="fill: #1f77b4; fill-opacity: 0.8"/>
</g>
<g clip-path="url(#p349a65ac7e)">
<circle cx="192.70" cy="370.90" r="1.8" style="fill: #1f77b4; fill-opacity: 0.8"/>
</g>
<g clip-path="url(#p349a65ac7e)">
<circle cx="195.20" cy="375.70" r="1.8" style="fill: #1f77b4; fill-opacity: 0.8"/>
</g>
<g clip-path="url(#p349a65ac7e)">
<circle cx="196.40" cy="378.20" r="1.8" style="fill: #1f77b4; fill-opacity: 0.8"/>
</g>
<g clip-path="url(#p349a65ac7e)">
<circle cx="189.10" cy="380.60" r="1.8" style="fill: #1f77b4; fill-opacity: 0.8"/>
</g>
<g clip-path="url(#p349a65ac7e)">
<circle cx="192.70" cy="385.10" r="1.8" style="fill: #1f77b4; fill-opacity: 0.8"/>
</g>
<g clip-path="url(#p349a65ac7e)">
<circle cx="196.00" cy="385.50" r="1.8" style="fill: #1f77b4; fill-opacity: 0.8"/>
</g>
<g clip-path="url(#p349a65ac7e)">
<circle cx="195.20" cy="388.30" r="1.8" style="fill: #1f77b4; fill-opacity: 0.8"/>
</g>
<g clip-path="url(#p349a65ac7e)">
<circle cx="200.00" cy="388.30" r="1.8" style="fill: #1f77b4; fill-opacity: 0.8"/>
</g>
<g clip-path="url(#p349a65ac7e)">
<circle cx="203.30" cy="390.80" r="1.8" style="fill: #1f77b4; fill-opacity: 0.8"/>
</g>
<g clip-path="url(#p349a65ac7e)">
<circle cx="177.70" cy="356.40" r="1.8" style="fill: #1f77b4; fill-opacity: 0.8"/>
</g>
<g clip-path="url(#p349a65ac7e)">
<circle cx="177.70" cy="360.10" r="1.8" style="fill: #1f77b4; fill-opacity: 0.8"/>
</g>
<g clip-path="url(#p349a65ac7e)">
<circle cx="181.10" cy="362.40" r="1.8" style="fill: #1f77b4; fill-opacity: 0.8"/>
</g>
<g clip-path="url(#p349a65ac7e)">
<circle cx="177.10" cy="366.50" r="1.8" style="fill: #1f77b4; fill-opacity: 0.8"/>
</g>
<g clip-path="url(#p349a65ac7e)">
<circle cx="235.80" cy="350.70" r="1.8" style="fill: #1f77b4; fill-opacity: 0.8"/>
</g>
<g clip-path="url(#p349a65ac7e)">
<circle cx="239.80" cy="351.80" r="1.8" style="fill: #1f77b4; fill-opacity: 0.8"/>
</g>
<g clip-path="url(#p349a65ac7e)">
<circle cx="235.50" cy="354.40" r="1.8" style="fill: #1f77b4; fill-opacity: 0.8"/>
</g>
<g clip-path="url(#p349a65ac7e)">
<circle cx="247.60" cy="356.00" r="1.8" style="fill: #1f77b4; fill-opacity: 0.8"/>
</g>
<g clip-path="url(#p349a65ac7e)">
<circle cx="246.50" cy="360.40" r="1.8" style="fill: #1f77b4; fill-opacity: 0.8"/>
</g>
<g clip-path="url(#p349a65ac7e)">
<circle cx="264.40" cy="357.60" r="1.8" style="fill: #1f77b4; fill-opacity: 0.8"/>
</g>
<g clip-path="url(#p349a65ac7e)">
<circle cx="274.60" cy="357.60" r="1.8" style="fill: #1f77b4; fill-opacity: 0.8"/>
</g>
<g clip-path="url(#p349a65ac7e)">
<circle cx="239.30" cy="364.80" r="1.8" style="fill: #1f77b4; fill-opacity: 0.8"/>
</g>
<g clip-path="url(#p349a65ac7e)">
<circle cx="250.40" cy="368.20" r="1.8" style="fill: #1f77b4; fill-opacity: 0.8"/>
</g>
<g clip-path="url(#p349a65ac7e)">
<circle cx="236.60" cy="372.60" r="1.8" style="fill: #1f77b4; fill-opacity: 0.8"/>
</g>
<g clip-path="url(#p349a65ac7e)">
<circle cx="231.50" cy="376.40" r="1.8" style="fill: #1f77b4; fill-opacity: 0.8"/>
</g>
<g clip-path="url(#p349a65ac7e)">
<circle cx="240.20" cy="376.40" r="1.8" style="fill: #1f77b4; fill-opacity: 0.8"/>
</g>
<g clip-path="url(#p349a65ac7e)">
<circle cx="234.60" cy="388.60" r="1.8" style="fill: #1f77b4; fill-opacity: 0.8"/>
</g>
<g clip-path="url(#p349a65ac7e)">
<circle cx="236.70" cy="387.00" r="1.8" style="fill: #1f77b4; fill-opacity: 0.8"/>
</g>
<g clip-path="url(#p349a65ac7e)">
<circle cx="216.50" cy="392.30" r="1.8" style="fill: #1f77b4; fill-opacity: 0.8"/>
</g>
<g clip-path="url(#p349a65ac7e)">
<circle cx="210.90" cy="404.30" r="1.8" style="fill: #1f77b4; fill-opacity: 0.8"/>
</g>
<g clip-path="url(#p349a65ac7e)">
<circle cx="214.50" cy="405.20" r="1.8" style="fill: #1f77b4; fill-opacity: 0.8"/>
</g>
<g clip-path="url(#p349a65ac7e)">
<circle cx="224.80" cy="407.50" r="1.8" style="fill: #1f77b4; fill-opacity: 0.8"/>
</g>
<g clip-path="url(#p349a65ac7e)">
<circle cx="234.70" cy="410.50" r="1.8" style="fill: #1f77b4; fill-opacity: 0.8"/>
</g>
<g clip-path="url(#p349a65ac7e)">
<circle cx="252.10" cy="391.60" r="1.8" style="fill: #1f77b4; fill-opacity: 0.8"/>
</g>
<g clip-path="url(#p349a65ac7e)">
<circle cx="258.80" cy="402.40" r="1.8" style="fill: #1f77b4; fill-opacity: 0.8"/>
</g>
<g clip-path="url(#p349a65ac7e)">
<circle cx="269.80" cy="406.90" r="1.8" style="fill: #1f77b4; fill-opacity: 0.8"/>
</g>
<g clip-path="url(#p349a65ac7e)">
<circle cx="258.10" cy="418.30" r="1.8" style="fill: #1f77b4; fill-opacity: 0.8"/>
</g>
<g clip-path="url(#p349a65ac7e)">
<circle cx="278.20" cy="417.40" r="1.8" style="fill: #1f77b4; fill-opacity: 0.8"/>
</g>
<g clip-path="url(#p349a65ac7e)">
<circle cx="206.40" cy="391.30" r="1.8" style="fill: #1f77b4; fill-opacity: 0.8"/>
</g>
<g clip-path="url(#p349a65ac7e)">
<circle cx="206.90" cy="395.50" r="1.8" style="fill: #1f77b4; fill-opacity: 0.8"/>
</g>
<g clip-path="url(#p349a65ac7e)">
<circle cx="168.00" cy="355.50" r="1.8" style="fill: #1f77b4; fill-opacity: 0.8"/>
</g>
<g clip-path="url(#p349a65ac7e)">
<circle cx="170.80" cy="351.50" r="1.8" style="fill: #1f77b4; fill-opacity: 0.8"/>
</g>
<g clip-path="url(#p349a65ac7e)">
<circle cx="205.10" cy="417.90" r="1.8" style="fill: #1f77b4; fill-opacity: 0.8"/>
</g>
<g clip-path="url(#p349a65ac7e)">
<circle cx="219.10" cy="422.20" r="1.8" style="fill: #1f77b4; fill-opacity: 0.8"/>
</g>
<g clip-path="url(#p349a65ac7e)">
<circle cx="226.50" cy="428.80" r="1.8" style="fill: #1f77b4; fill-opacity: 0.8"/>
</g>
<g clip-path="url(#p349a65ac7e)">
<circle cx="222.60" cy="434.00" r="1.8" style="fill: #1f77b4; fill-opacity: 0.8"/>
</g>
<g clip-path="url(#p349a65ac7e)">
<circle cx="213.60" cy="438.90" r="1.8" style="fill: #1f77b4; fill-opacity: 0.8"/>
</g>
<g clip-path="url(#p349a65ac7e)">
<circle cx="212.50" cy="451.20" r="1.8" style="fill: #1f77b4; fill-opacity: 0.8"/>
</g>
</g>
<g id="patch_15">
<path d="M 41.1 458.9 
L 41.1 261.8 
" style="fill: none; stroke: #555555; stroke-linejoin: miter; stroke-linecap: square"/>
</g>
<g id="patch_16">
<path d="M 284 458.9 
L 284 261.8 
" style="fill: none; stroke: #555555; stroke-linejoin: miter; stroke-linecap: square"/>
</g>
<g id="patch_17">
<path d="M 41.1 458.9 
L 284 458.9 
" style="fill: none; stroke: #555555; stroke-linejoin: miter; stroke-linecap: square"/>
</g>
<g id="patch_18">
<path d="M 41.1 261.8 
L 284 261.8 
" style="fill: none; stroke: #555555; stroke-linejoin: miter; stroke-linecap: square"/>
</g>
<g id="PathCollection_6">
<g clip-path="url(#p349a65ac7e)">
<path d="M -2.24 2.24 L 2.24 -2.24 M -2.24 -2.24 L 2.24 2.24" transform="translate(63.70 306.10)" style="fill: #dd1111; stroke: #dd1111; stroke-width: 1.15; stroke: #dd1111; stroke-width: 1.15"/>
<path d="M -2.24 2.24 L 2.24 -2.24 M -2.24 -2.24 L 2.24 2.24" transform="translate(59.50 355.40)" style="fill: #dd1111; stroke: #dd1111; stroke-width: 1.15; stroke: #dd1111; stroke-width: 1.15"/>
<path d="M -2.24 2.24 L 2.24 -2.24 M -2.24 -2.24 L 2.24 2.24" transform="translate(99.80 346.50)" style="fill: #dd1111; stroke: #dd1111; stroke-width: 1.15; stroke: #dd1111; stroke-width: 1.15"/>
<path d="M -2.24 2.24 L 2.24 -2.24 M -2.24 -2.24 L 2.24 2.24" transform="translate(131.60 288.30)" style="fill: #dd1111; stroke: #dd1111; stroke-width: 1.15; stroke: #dd1111; stroke-width: 1.15"/>
<path d="M -2.24 2.24 L 2.24 -2.24 M -2.24 -2.24 L 2.24 2.24" transform="translate(143.00 293.70)" style="fill: #dd1111; stroke: #dd1111; stroke-width: 1.15; stroke: #dd1111; stroke-width: 1.15"/>
<path d="M -2.24 2.24 L 2.24 -2.24 M -2.24 -2.24 L 2.24 2.24" transform="translate(153.10 296.20)" style="fill: #dd1111; stroke: #dd1111; stroke-width: 1.15; stroke: #dd1111; stroke-width: 1.15"/>
<path d="M -2.24 2.24 L 2.24 -2.24 M -2.24 -2.24 L 2.24 2.24" transform="translate(133.50 312.30)" style="fill: #dd1111; stroke: #dd1111; stroke-width: 1.15; stroke: #dd1111; stroke-width: 1.15"/>
<path d="M -2.24 2.24 L 2.24 -2.24 M -2.24 -2.24 L 2.24 2.24" transform="translate(146.40 317.90)" style="fill: #dd1111; stroke: #dd1111; stroke-width: 1.15; stroke: #dd1111; stroke-width: 1.15"/>
<path d="M -2.24 2.24 L 2.24 -2.24 M -2.24 -2.24 L 2.24 2.24" transform="translate(121.50 336.20)" style="fill: #dd1111; stroke: #dd1111; stroke-width: 1.15; stroke: #dd1111; stroke-width: 1.15"/>
<path d="M -2.24 2.24 L 2.24 -2.24 M -2.24 -2.24 L 2.24 2.24" transform="translate(122.60 341.80)" style="fill: #dd1111; stroke: #dd1111; stroke-width: 1.15; stroke: #dd1111; stroke-width: 1.15"/>
<path d="M -2.24 2.24 L 2.24 -2.24 M -2.24 -2.24 L 2.24 2.24" transform="translate(138.30 334.70)" style="fill: #dd1111; stroke: #dd1111; stroke-width: 1.15; stroke: #dd1111; stroke-width: 1.15"/>
<path d="M -2.24 2.24 L 2.24 -2.24 M -2.24 -2.24 L 2.24 2.24" transform="translate(143.90 337.30)" style="fill: #dd1111; stroke: #dd1111; stroke-width: 1.15; stroke: #dd1111; stroke-width: 1.15"/>
<path d="M -2.24 2.24 L 2.24 -2.24 M -2.24 -2.24 L 2.24 2.24" transform="translate(152.00 335.60)" style="fill: #dd1111; stroke: #dd1111; stroke-width: 1.15; stroke: #dd1111; stroke-width: 1.15"/>
<path d="M -2.24 2.24 L 2.24 -2.24 M -2.24 -2.24 L 2.24 2.24" transform="translate(136.30 349.60)" style="fill: #dd1111; stroke: #dd1111; stroke-width: 1.15; stroke: #dd1111; stroke-width: 1.15"/>
<path d="M -2.24 2.24 L 2.24 -2.24 M -2.24 -2.24 L 2.24 2.24" transform="translate(122.30 354.10)" style="fill: #dd1111; stroke: #dd1111; stroke-width: 1.15; stroke: #dd1111; stroke-width: 1.15"/>
<path d="M -2.24 2.24 L 2.24 -2.24 M -2.24 -2.24 L 2.24 2.24" transform="translate(130.10 360.30)" style="fill: #dd1111; stroke: #dd1111; stroke-width: 1.15; stroke: #dd1111; stroke-width: 1.15"/>
<path d="M -2.24 2.24 L 2.24 -2.24 M -2.24 -2.24 L 2.24 2.24" transform="translate(149.70 351.30)" style="fill: #dd1111; stroke: #dd1111; stroke-width: 1.15; stroke: #dd1111; stroke-width: 1.15"/>
<path d="M -2.24 2.24 L 2.24 -2.24 M -2.24 -2.24 L 2.24 2.24" transform="translate(150.30 356.90)" style="fill: #dd1111; stroke: #dd1111; stroke-width: 1.15; stroke: #dd1111; stroke-width: 1.15"/>
<path d="M -2.24 2.24 L 2.24 -2.24 M -2.24 -2.24 L 2.24 2.24" transform="translate(132.00 370.40)" style="fill: #dd1111; stroke: #dd1111; stroke-width: 1.15; stroke: #dd1111; stroke-width: 1.15"/>
<path d="M -2.24 2.24 L 2.24 -2.24 M -2.24 -2.24 L 2.24 2.24" transform="translate(154.40 366.40)" style="fill: #dd1111; stroke: #dd1111; stroke-width: 1.15; stroke: #dd1111; stroke-width: 1.15"/>
<path d="M -2.24 2.24 L 2.24 -2.24 M -2.24 -2.24 L 2.24 2.24" transform="translate(161.20 310.50)" style="fill: #dd1111; stroke: #dd1111; stroke-width: 1.15; stroke: #dd1111; stroke-width: 1.15"/>
<path d="M -2.24 2.24 L 2.24 -2.24 M -2.24 -2.24 L 2.24 2.24" transform="translate(183.10 324.00)" style="fill: #dd1111; stroke: #dd1111; stroke-width: 1.15; stroke: #dd1111; stroke-width: 1.15"/>
<path d="M -2.24 2.24 L 2.24 -2.24 M -2.24 -2.24 L 2.24 2.24" transform="translate(168.50 328.30)" style="fill: #dd1111; stroke: #dd1111; stroke-width: 1.15; stroke: #dd1111; stroke-width: 1.15"/>
<path d="M -2.24 2.24 L 2.24 -2.24 M -2.24 -2.24 L 2.24 2.24" transform="translate(181.50 335.50)" style="fill: #dd1111; stroke: #dd1111; stroke-width: 1.15; stroke: #dd1111; stroke-width: 1.15"/>
<path d="M -2.24 2.24 L 2.24 -2.24 M -2.24 -2.24 L 2.24 2.24" transform="translate(177.30 338.30)" style="fill: #dd1111; stroke: #dd1111; stroke-width: 1.15; stroke: #dd1111; stroke-width: 1.15"/>
<path d="M -2.24 2.24 L 2.24 -2.24 M -2.24 -2.24 L 2.24 2.24" transform="translate(179.90 343.40)" style="fill: #dd1111; stroke: #dd1111; stroke-width: 1.15; stroke: #dd1111; stroke-width: 1.15"/>
<path d="M -2.24 2.24 L 2.24 -2.24 M -2.24 -2.24 L 2.24 2.24" transform="translate(196.80 351.50)" style="fill: #dd1111; stroke: #dd1111; stroke-width: 1.15; stroke: #dd1111; stroke-width: 1.15"/>
<path d="M -2.24 2.24 L 2.24 -2.24 M -2.24 -2.24 L 2.24 2.24" transform="translate(181.30 354.10)" style="fill: #dd1111; stroke: #dd1111; stroke-width: 1.15; stroke: #dd1111; stroke-width: 1.15"/>
<path d="M -2.24 2.24 L 2.24 -2.24 M -2.24 -2.24 L 2.24 2.24" transform="translate(210.40 300.10)" style="fill: #dd1111; stroke: #dd1111; stroke-width: 1.15; stroke: #dd1111; stroke-width: 1.15"/>
<path d="M -2.24 2.24 L 2.24 -2.24 M -2.24 -2.24 L 2.24 2.24" transform="translate(193.90 363.10)" style="fill: #dd1111; stroke: #dd1111; stroke-width: 1.15; stroke: #dd1111; stroke-width: 1.15"/>
<path d="M -2.24 2.24 L 2.24 -2.24 M -2.24 -2.24 L 2.24 2.24" transform="translate(206.30 368.40)" style="fill: #dd1111; stroke: #dd1111; stroke-width: 1.15; stroke: #dd1111; stroke-width: 1.15"/>
<path d="M -2.24 2.24 L 2.24 -2.24 M -2.24 -2.24 L 2.24 2.24" transform="translate(180.80 385.10)" style="fill: #dd1111; stroke: #dd1111; stroke-width: 1.15; stroke: #dd1111; stroke-width: 1.15"/>
</g>
</g>
</g>
<g id="axes_4">
<g id="patch_19">
<path d="M 291.7 254.5 
L 352.2 254.5 
L 352.2 57.2 
L 291.7 57.2 
z
" style="fill: #ffffff"/>
</g>
<g id="matplotlib.axis_7">
<g id="xtick_73">
<g id="line2d_290">
<g>
<path d="M 0 0 L 0 -3" transform="translate(291.70 254.50)" style="fill: #555555; stroke: #555555; stroke: #555555"/>
</g>
</g>
<g id="line2d_291">
<g>
<path d="M 0 0 L 0 3" transform="translate(291.70 57.20)" style="fill: #555555; stroke: #555555; stroke: #555555"/>
</g>
</g>
</g>
<g id="xtick_74">
<g id="line2d_292">
<g>
<path d="M 0 0 L 0 -3" transform="translate(339.56 254.50)" style="fill: #555555; stroke: #555555; stroke: #555555"/>
</g>
</g>
<g id="line2d_293">
<g>
<path d="M 0 0 L 0 3" transform="translate(339.56 57.20)" style="fill: #555555; stroke: #555555; stroke: #555555"/>
</g>
</g>
</g>
<g id="xtick_75">
<g id="line2d_294">
<g>
<path d="M 0 0 L 0 -1.8" transform="translate(301.27 254.50)" style="fill: #555555; stroke: #555555; stroke: #555555"/>
</g>
</g>
<g id="line2d_295">
<g>
<path d="M 0 0 L 0 1.8" transform="translate(301.27 57.20)" style="fill: #555555; stroke: #555555; stroke: #555555"/>
</g>
</g>
</g>
<g id="xtick_76">
<g id="line2d_296">
<g>
<path d="M 0 0 L 0 -1.8" transform="translate(310.85 254.50)" style="fill: #555555; stroke: #555555; stroke: #555555"/>
</g>
</g>
<g id="line2d_297">
<g>
<path d="M 0 0 L 0 1.8" transform="translate(310.85 57.20)" style="fill: #555555; stroke: #555555; stroke: #555555"/>
</g>
</g>
</g>
<g id="xtick_77">
<g id="line2d_298">
<g>
<path d="M 0 0 L 0 -1.8" transform="translate(320.42 254.50)" style="fill: #555555; stroke: #555555; stroke: #555555"/>
</g>
</g>
<g id="line2d_299">
<g>
<path d="M 0 0 L 0 1.8" transform="translate(320.42 57.20)" style="fill: #555555; stroke: #555555; stroke: #555555"/>
</g>
</g>
</g>
<g id="xtick_78">
<g id="line2d_300">
<g>
<path d="M 0 0 L 0 -1.8" transform="translate(329.99 254.50)" style="fill: #555555; stroke: #555555; stroke: #555555"/>
</g>
</g>
<g id="line2d_301">
<g>
<path d="M 0 0 L 0 1.8" transform="translate(329.99 57.20)" style="fill: #555555; stroke: #555555; stroke: #555555"/>
</g>
</g>
</g>
<g id="xtick_79">
<g id="line2d_302">
<g>
<path d="M 0 0 L 0 -1.8" transform="translate(349.14 254.50)" style="fill: #555555; stroke: #555555; stroke: #555555"/>
</g>
</g>
<g id="line2d_303">
<g>
<path d="M 0 0 L 0 1.8" transform="translate(349.14 57.20)" style="fill: #555555; stroke: #555555; stroke: #555555"/>
</g>
</g>
</g>
</g>
<g id="matplotlib.axis_8">
<g id="ytick_71">
<g id="line2d_304">
<g>
<path d="M 0 0 L 3 0" transform="translate(291.70 240.41)" style="fill: #555555; stroke: #555555; stroke: #555555"/>
</g>
</g>
<g id="line2d_305">
<g>
<path d="M 0 0 L -3 0" transform="translate(352.20 240.41)" style="fill: #555555; stroke: #555555; stroke: #555555"/>
</g>
</g>
</g>
<g id="ytick_72">
<g id="line2d_306">
<g>
<path d="M 0 0 L 3 0" transform="translate(291.70 212.22)" style="fill: #555555; stroke: #555555; stroke: #555555"/>
</g>
</g>
<g id="line2d_307">
<g>
<path d="M 0 0 L -3 0" transform="translate(352.20 212.22)" style="fill: #555555; stroke: #555555; stroke: #555555"/>
</g>
</g>
</g>
<g id="ytick_73">
<g id="line2d_308">
<g>
<path d="M 0 0 L 3 0" transform="translate(291.70 184.04)" style="fill: #555555; stroke: #555555; stroke: #555555"/>
</g>
</g>
<g id="line2d_309">
<g>
<path d="M 0 0 L -3 0" transform="translate(352.20 184.04)" style="fill: #555555; stroke: #555555; stroke: #555555"/>
</g>
</g>
</g>
<g id="ytick_74">
<g id="line2d_310">
<g>
<path d="M 0 0 L 3 0" transform="translate(291.70 155.85)" style="fill: #555555; stroke: #555555; stroke: #555555"/>
</g>
</g>
<g id="line2d_311">
<g>
<path d="M 0 0 L -3 0" transform="translate(352.20 155.85)" style="fill: #555555; stroke: #555555; stroke: #555555"/>
</g>
</g>
</g>
<g id="ytick_75">
<g id="line2d_312">
<g>
<path d="M 0 0 L 3 0" transform="translate(291.70 127.66)" style="fill: #555555; stroke: #555555; stroke: #555555"/>
</g>
</g>
<g id="line2d_313">
<g>
<path d="M 0 0 L -3 0" transform="translate(352.20 127.66)" style="fill: #555555; stroke: #555555; stroke: #555555"/>
</g>
</g>
</g>
<g id="ytick_76">
<g id="line2d_314">
<g>
<path d="M 0 0 L 3 0" transform="translate(291.70 99.48)" style="fill: #555555; stroke: #555555; stroke: #555555"/>
</g>
</g>
<g id="line2d_315">
<g>
<path d="M 0 0 L -3 0" transform="translate(352.20 99.48)" style="fill: #555555; stroke: #555555; stroke: #555555"/>
</g>
</g>
</g>
<g id="ytick_77">
<g id="line2d_316">
<g>
<path d="M 0 0 L 3 0" transform="translate(291.70 71.29)" style="fill: #555555; stroke: #555555; stroke: #555555"/>
</g>
</g>
<g id="line2d_317">
<g>
<path d="M 0 0 L -3 0" transform="translate(352.20 71.29)" style="fill: #555555; stroke: #555555; stroke: #555555"/>
</g>
</g>
</g>
<g id="ytick_78">
<g id="line2d_318">
<g>
<path d="M 0 0 L 1.8 0" transform="translate(291.70 254.50)" style="fill: #555555; stroke: #555555; stroke: #555555"/>
</g>
</g>
<g id="line2d_319">
<g>
<path d="M 0 0 L -1.8 0" transform="translate(352.20 254.50)" style="fill: #555555; stroke: #555555; stroke: #555555"/>
</g>
</g>
</g>
<g id="ytick_79">
<g id="line2d_320">
<g>
<path d="M 0 0 L 1.8 0" transform="translate(291.70 247.45)" style="fill: #555555; stroke: #555555; stroke: #555555"/>
</g>
</g>
<g id="line2d_321">
<g>
<path d="M 0 0 L -1.8 0" transform="translate(352.20 247.45)" style="fill: #555555; stroke: #555555; stroke: #555555"/>
</g>
</g>
</g>
<g id="ytick_80">
<g id="line2d_322">
<g>
<path d="M 0 0 L 1.8 0" transform="translate(291.70 233.36)" style="fill: #555555; stroke: #555555; stroke: #555555"/>
</g>
</g>
<g id="line2d_323">
<g>
<path d="M 0 0 L -1.8 0" transform="translate(352.20 233.36)" style="fill: #555555; stroke: #555555; stroke: #555555"/>
</g>
</g>
</g>
<g id="ytick_81">
<g id="line2d_324">
<g>
<path d="M 0 0 L 1.8 0" transform="translate(291.70 226.31)" style="fill: #555555; stroke: #555555; stroke: #555555"/>
</g>
</g>
<g id="line2d_325">
<g>
<path d="M 0 0 L -1.8 0" transform="translate(352.20 226.31)" style="fill: #555555; stroke: #555555; stroke: #555555"/>
</g>
</g>
</g>
<g id="ytick_82">
<g id="line2d_326">
<g>
<path d="M 0 0 L 1.8 0" transform="translate(291.70 219.27)" style="fill: #555555; stroke: #555555; stroke: #555555"/>
</g>
</g>
<g id="line2d_327">
<g>
<path d="M 0 0 L -1.8 0" transform="translate(352.20 219.27)" style="fill: #555555; stroke: #555555; stroke: #555555"/>
</g>
</g>
</g>
<g id="ytick_83">
<g id="line2d_328">
<g>
<path d="M 0 0 L 1.8 0" transform="translate(291.70 205.18)" style="fill: #555555; stroke: #555555; stroke: #555555"/>
</g>
</g>
<g id="line2d_329">
<g>
<path d="M 0 0 L -1.8 0" transform="translate(352.20 205.18)" style="fill: #555555; stroke: #555555; stroke: #555555"/>
</g>
</g>
</g>
<g id="ytick_84">
<g id="line2d_330">
<g>
<path d="M 0 0 L 1.8 0" transform="translate(291.70 198.13)" style="fill: #555555; stroke: #555555; stroke: #555555"/>
</g>
</g>
<g id="line2d_331">
<g>
<path d="M 0 0 L -1.8 0" transform="translate(352.20 198.13)" style="fill: #555555; stroke: #555555; stroke: #555555"/>
</g>
</g>
</g>
<g id="ytick_85">
<g id="line2d_332">
<g>
<path d="M 0 0 L 1.8 0" transform="translate(291.70 191.08)" style="fill: #555555; stroke: #555555; stroke: #555555"/>
</g>
</g>
<g id="line2d_333">
<g>
<path d="M 0 0 L -1.8 0" transform="translate(352.20 191.08)" style="fill: #555555; stroke: #555555; stroke: #555555"/>
</g>
</g>
</g>
<g id="ytick_86">
<g id="line2d_334">
<g>
<path d="M 0 0 L 1.8 0" transform="translate(291.70 176.99)" style="fill: #555555; stroke: #555555; stroke: #555555"/>
</g>
</g>
<g id="line2d_335">
<g>
<path d="M 0 0 L -1.8 0" transform="translate(352.20 176.99)" style="fill: #555555; stroke: #555555; stroke: #555555"/>
</g>
</g>
</g>
<g id="ytick_87">
<g id="line2d_336">
<g>
<path d="M 0 0 L 1.8 0" transform="translate(291.70 169.94)" style="fill: #555555; stroke: #555555; stroke: #555555"/>
</g>
</g>
<g id="line2d_337">
<g>
<path d="M 0 0 L -1.8 0" transform="translate(352.20 169.94)" style="fill: #555555; stroke: #555555; stroke: #555555"/>
</g>
</g>
</g>
<g id="ytick_88">
<g id="line2d_338">
<g>
<path d="M 0 0 L 1.8 0" transform="translate(291.70 162.90)" style="fill: #555555; stroke: #555555; stroke: #555555"/>
</g>
</g>
<g id="line2d_339">
<g>
<path d="M 0 0 L -1.8 0" transform="translate(352.20 162.90)" style="fill: #555555; stroke: #555555; stroke: #555555"/>
</g>
</g>
</g>
<g id="ytick_89">
<g id="line2d_340">
<g>
<path d="M 0 0 L 1.8 0" transform="translate(291.70 148.80)" style="fill: #555555; stroke: #555555; stroke: #555555"/>
</g>
</g>
<g id="line2d_341">
<g>
<path d="M 0 0 L -1.8 0" transform="translate(352.20 148.80)" style="fill: #555555; stroke: #555555; stroke: #555555"/>
</g>
</g>
</g>
<g id="ytick_90">
<g id="line2d_342">
<g>
<path d="M 0 0 L 1.8 0" transform="translate(291.70 141.76)" style="fill: #555555; stroke: #555555; stroke: #555555"/>
</g>
</g>
<g id="line2d_343">
<g>
<path d="M 0 0 L -1.8 0" transform="translate(352.20 141.76)" style="fill: #555555; stroke: #555555; stroke: #555555"/>
</g>
</g>
</g>
<g id="ytick_91">
<g id="line2d_344">
<g>
<path d="M 0 0 L 1.8 0" transform="translate(291.70 134.71)" style="fill: #555555; stroke: #555555; stroke: #555555"/>
</g>
</g>
<g id="line2d_345">
<g>
<path d="M 0 0 L -1.8 0" transform="translate(352.20 134.71)" style="fill: #555555; stroke: #555555; stroke: #555555"/>
</g>
</g>
</g>
<g id="ytick_92">
<g id="line2d_346">
<g>
<path d="M 0 0 L 1.8 0" transform="translate(291.70 120.62)" style="fill: #555555; stroke: #555555; stroke: #555555"/>
</g>
</g>
<g id="line2d_347">
<g>
<path d="M 0 0 L -1.8 0" transform="translate(352.20 120.62)" style="fill: #555555; stroke: #555555; stroke: #555555"/>
</g>
</g>
</g>
<g id="ytick_93">
<g id="line2d_348">
<g>
<path d="M 0 0 L 1.8 0" transform="translate(291.70 113.57)" style="fill: #555555; stroke: #555555; stroke: #555555"/>
</g>
</g>
<g id="line2d_349">
<g>
<path d="M 0 0 L -1.8 0" transform="translate(352.20 113.57)" style="fill: #555555; stroke: #555555; stroke: #555555"/>
</g>
</g>
</g>
<g id="ytick_94">
<g id="line2d_350">
<g>
<path d="M 0 0 L 1.8 0" transform="translate(291.70 106.53)" style="fill: #555555; stroke: #555555; stroke: #555555"/>
</g>
</g>
<g id="line2d_351">
<g>
<path d="M 0 0 L -1.8 0" transform="translate(352.20 106.53)" style="fill: #555555; stroke: #555555; stroke: #555555"/>
</g>
</g>
</g>
<g id="ytick_95">
<g id="line2d_352">
<g>
<path d="M 0 0 L 1.8 0" transform="translate(291.70 92.43)" style="fill: #555555; stroke: #555555; stroke: #555555"/>
</g>
</g>
<g id="line2d_353">
<g>
<path d="M 0 0 L -1.8 0" transform="translate(352.20 92.43)" style="fill: #555555; stroke: #555555; stroke: #555555"/>
</g>
</g>
</g>
<g id="ytick_96">
<g id="line2d_354">
<g>
<path d="M 0 0 L 1.8 0" transform="translate(291.70 85.39)" style="fill: #555555; stroke: #555555; stroke: #555555"/>
</g>
</g>
<g id="line2d_355">
<g>
<path d="M 0 0 L -1.8 0" transform="translate(352.20 85.39)" style="fill: #555555; stroke: #555555; stroke: #555555"/>
</g>
</g>
</g>
<g id="ytick_97">
<g id="line2d_356">
<g>
<path d="M 0 0 L 1.8 0" transform="translate(291.70 78.34)" style="fill: #555555; stroke: #555555; stroke: #555555"/>
</g>
</g>
<g id="line2d_357">
<g>
<path d="M 0 0 L -1.8 0" transform="translate(352.20 78.34)" style="fill: #555555; stroke: #555555; stroke: #555555"/>
</g>
</g>
</g>
<g id="ytick_98">
<g id="line2d_358">
<g>
<path d="M 0 0 L 1.8 0" transform="translate(291.70 64.25)" style="fill: #555555; stroke: #555555; stroke: #555555"/>
</g>
</g>
<g id="line2d_359">
<g>
<path d="M 0 0 L -1.8 0" transform="translate(352.20 64.25)" style="fill: #555555; stroke: #555555; stroke: #555555"/>
</g>
</g>
</g>
<g id="ytick_99">
<g id="line2d_360">
<g>
<path d="M 0 0 L 1.8 0" transform="translate(291.70 57.20)" style="fill: #555555; stroke: #555555; stroke: #555555"/>
</g>
</g>
<g id="line2d_361">
<g>
<path d="M 0 0 L -1.8 0" transform="translate(352.20 57.20)" style="fill: #555555; stroke: #555555; stroke: #555555"/>
</g>
</g>
</g>
</g>
<g id="patch_20">
<path d="M 291.7 254.5 
L 291.7 57.2 
" style="fill: none; stroke: #555555; stroke-linejoin: miter; stroke-linecap: square"/>
</g>
<g id="patch_21">
<path d="M 352.2 254.5 
L 352.2 57.2 
" style="fill: none; stroke: #555555; stroke-linejoin: miter; stroke-linecap: square"/>
</g>
<g id="patch_22">
<path d="M 291.7 254.5 
L 352.2 254.5 
" style="fill: none; stroke: #555555; stroke-linejoin: miter; stroke-linecap: square"/>
</g>
<g id="patch_23">
<path d="M 291.7 57.2 
L 352.2 57.2 
" style="fill: none; stroke: #555555; stroke-linejoin: miter; stroke-linecap: square"/>
</g>
<g id="patch_24">
<path d="M 291.7 240.41 
L 291.7 240.41 
L 291.7 223.5 
L 293 223.5 
L 293 206.58 
L 296.7 206.58 
L 296.7 189.67 
L 301.9 189.67 
L 301.9 172.76 
L 312.8 172.76 
L 312.8 155.85 
L 325.7 155.85 
L 325.7 138.94 
L 344.1 138.94 
L 344.1 122.03 
L 320.9 122.03 
L 320.9 105.12 
L 296.6 105.12 
L 296.6 88.2 
L 291.9 88.2 
L 291.9 71.29 
L 291.7 71.29 
" clip-path="url(#p54e578819f)" style="fill: #62a0ca; stroke: #62a0ca; stroke-linejoin: miter"/>
</g>
<g id="patch_25">
<path d="M 291.7 240.41 
L 291.7 240.41 
L 291.7 223.5 
L 292.8 223.5 
L 292.8 206.58 
L 297.5 206.58 
L 297.5 189.67 
L 301.9 189.67 
L 301.9 172.76 
L 312.8 172.76 
L 312.8 155.85 
L 312.8 155.85 
L 312.8 138.94 
L 349.9 138.94 
L 349.9 122.03 
L 329.6 122.03 
L 329.6 105.12 
L 296.7 105.12 
L 296.7 88.2 
L 291.7 88.2 
L 291.7 71.29 
L 291.7 71.29 
" clip-path="url(#p54e578819f)" style="fill: none; stroke-dasharray: 9.6,2.4,1.5,2.4; stroke-dashoffset: 0; stroke: #808080; stroke-width: 1.5; stroke-linejoin: miter"/>
</g>
<g id="patch_26">
<path d="M 291.7 240.41 
L 291.7 240.41 
L 291.7 223.5 
L 296.1 223.5 
L 296.1 206.58 
L 316 206.58 
L 316 189.67 
L 325.1 189.67 
L 325.1 172.76 
L 315.7 172.76 
L 315.7 155.85 
L 335 155.85 
L 335 138.94 
L 306 138.94 
L 306 122.03 
L 306 122.03 
L 306 105.12 
L 291.7 105.12 
L 291.7 88.2 
L 291.7 88.2 
L 291.7 71.29 
L 291.7 71.29 
" clip-path="url(#p54e578819f)" style="fill: none; stroke-dasharray: 5.55,2.4; stroke-dashoffset: 0; stroke: #d62728; stroke-width: 1.5; stroke-linejoin: miter"/>
</g>
<g id="line2d_362">
<path d="M 291.7 132.6 
L 352.2 132.6 
" clip-path="url(#p54e578819f)" style="fill: none; stroke-dasharray: 9.6,2.4,1.5,2.4; stroke-dashoffset: 0; stroke: #808080; stroke-width: 1.5"/>
</g>
<g id="line2d_363">
<path d="M 291.7 136.8 
L 352.2 136.8 
" clip-path="url(#p54e578819f)" style="fill: none; stroke: #1f77b4; stroke-width: 1.5; stroke-linecap: square"/>
</g>
<g id="line2d_364">
<path d="M 291.7 160.6 
L 352.2 160.6 
" clip-path="url(#p54e578819f)" style="fill: none; stroke-dasharray: 5.55,2.4; stroke-dashoffset: 0; stroke: #d62728; stroke-width: 1.5"/>
</g>
</g>
<g id="axes_5">
<g id="patch_27">
<path d="M 291.7 458.9 
L 352.2 458.9 
L 352.2 261.8 
L 291.7 261.8 
z
" style="fill: #ffffff"/>
</g>
<g id="matplotlib.axis_9">
<g id="xtick_80">
<g id="line2d_365">
<g>
<path d="M 0 0 L 0 -3" transform="translate(291.70 458.90)" style="fill: #555555; stroke: #555555; stroke: #555555"/>
</g>
</g>
<g id="line2d_366">
<g>
<path d="M 0 0 L 0 3" transform="translate(291.70 261.80)" style="fill: #555555; stroke: #555555; stroke: #555555"/>
</g>
</g>
<g id="text_27">
<text style="font-size: 12px; font-family: 'DejaVu Sans', sans-serif; text-anchor: middle" x="291.7" y="471.12" transform="rotate(-0 291.7 471.12)">0.0</text>
</g>
</g>
<g id="xtick_81">
<g id="line2d_367">
<g>
<path d="M 0 0 L 0 -3" transform="translate(348.45 458.90)" style="fill: #555555; stroke: #555555; stroke: #555555"/>
</g>
</g>
<g id="line2d_368">
<g>
<path d="M 0 0 L 0 3" transform="translate(348.45 261.80)" style="fill: #555555; stroke: #555555; stroke: #555555"/>
</g>
</g>
<g id="text_28">
<text style="font-size: 12px; font-family: 'DejaVu Sans', sans-serif; text-anchor: middle" x="348.45" y="471.12" transform="rotate(-0 348.45 471.12)">0.5</text>
</g>
</g>
<g id="xtick_82">
<g id="line2d_369">
<g>
<path d="M 0 0 L 0 -1.8" transform="translate(303.05 458.90)" style="fill: #555555; stroke: #555555; stroke: #555555"/>
</g>
</g>
<g id="line2d_370">
<g>
<path d="M 0 0 L 0 1.8" transform="translate(303.05 261.80)" style="fill: #555555; stroke: #555555; stroke: #555555"/>
</g>
</g>
</g>
<g id="xtick_83">
<g id="line2d_371">
<g>
<path d="M 0 0 L 0 -1.8" transform="translate(314.40 458.90)" style="fill: #555555; stroke: #555555; stroke: #555555"/>
</g>
</g>
<g id="line2d_372">
<g>
<path d="M 0 0 L 0 1.8" transform="translate(314.40 261.80)" style="fill: #555555; stroke: #555555; stroke: #555555"/>
</g>
</g>
</g>
<g id="xtick_84">
<g id="line2d_373">
<g>
<path d="M 0 0 L 0 -1.8" transform="translate(325.75 458.90)" style="fill: #555555; stroke: #555555; stroke: #555555"/>
</g>
</g>
<g id="line2d_374">
<g>
<path d="M 0 0 L 0 1.8" transform="translate(325.75 261.80)" style="fill: #555555; stroke: #555555; stroke: #555555"/>
</g>
</g>
</g>
<g id="xtick_85">
<g id="line2d_375">
<g>
<path d="M 0 0 L 0 -1.8" transform="translate(337.10 458.90)" style="fill: #555555; stroke: #555555; stroke: #555555"/>
</g>
</g>
<g id="line2d_376">
<g>
<path d="M 0 0 L 0 1.8" transform="translate(337.10 261.80)" style="fill: #555555; stroke: #555555; stroke: #555555"/>
</g>
</g>
</g>
</g>
<g id="matplotlib.axis_10">
<g id="ytick_100">
<g id="line2d_377">
<g>
<path d="M 0 0 L 3 0" transform="translate(291.70 452.74)" style="fill: #555555; stroke: #555555; stroke: #555555"/>
</g>
</g>
<g id="line2d_378">
<g>
<path d="M 0 0 L -3 0" transform="translate(352.20 452.74)" style="fill: #555555; stroke: #555555; stroke: #555555"/>
</g>
</g>
</g>
<g id="ytick_101">
<g id="line2d_379">
<g>
<path d="M 0 0 L 3 0" transform="translate(291.70 421.94)" style="fill: #555555; stroke: #555555; stroke: #555555"/>
</g>
</g>
<g id="line2d_380">
<g>
<path d="M 0 0 L -3 0" transform="translate(352.20 421.94)" style="fill: #555555; stroke: #555555; stroke: #555555"/>
</g>
</g>
</g>
<g id="ytick_102">
<g id="line2d_381">
<g>
<path d="M 0 0 L 3 0" transform="translate(291.70 391.15)" style="fill: #555555; stroke: #555555; stroke: #555555"/>
</g>
</g>
<g id="line2d_382">
<g>
<path d="M 0 0 L -3 0" transform="translate(352.20 391.15)" style="fill: #555555; stroke: #555555; stroke: #555555"/>
</g>
</g>
</g>
<g id="ytick_103">
<g id="line2d_383">
<g>
<path d="M 0 0 L 3 0" transform="translate(291.70 360.35)" style="fill: #555555; stroke: #555555; stroke: #555555"/>
</g>
</g>
<g id="line2d_384">
<g>
<path d="M 0 0 L -3 0" transform="translate(352.20 360.35)" style="fill: #555555; stroke: #555555; stroke: #555555"/>
</g>
</g>
</g>
<g id="ytick_104">
<g id="line2d_385">
<g>
<path d="M 0 0 L 3 0" transform="translate(291.70 329.55)" style="fill: #555555; stroke: #555555; stroke: #555555"/>
</g>
</g>
<g id="line2d_386">
<g>
<path d="M 0 0 L -3 0" transform="translate(352.20 329.55)" style="fill: #555555; stroke: #555555; stroke: #555555"/>
</g>
</g>
</g>
<g id="ytick_105">
<g id="line2d_387">
<g>
<path d="M 0 0 L 3 0" transform="translate(291.70 298.76)" style="fill: #555555; stroke: #555555; stroke: #555555"/>
</g>
</g>
<g id="line2d_388">
<g>
<path d="M 0 0 L -3 0" transform="translate(352.20 298.76)" style="fill: #555555; stroke: #555555; stroke: #555555"/>
</g>
</g>
</g>
<g id="ytick_106">
<g id="line2d_389">
<g>
<path d="M 0 0 L 3 0" transform="translate(291.70 267.96)" style="fill: #555555; stroke: #555555; stroke: #555555"/>
</g>
</g>
<g id="line2d_390">
<g>
<path d="M 0 0 L -3 0" transform="translate(352.20 267.96)" style="fill: #555555; stroke: #555555; stroke: #555555"/>
</g>
</g>
</g>
<g id="ytick_107">
<g id="line2d_391">
<g>
<path d="M 0 0 L 1.8 0" transform="translate(291.70 458.90)" style="fill: #555555; stroke: #555555; stroke: #555555"/>
</g>
</g>
<g id="line2d_392">
<g>
<path d="M 0 0 L -1.8 0" transform="translate(352.20 458.90)" style="fill: #555555; stroke: #555555; stroke: #555555"/>
</g>
</g>
</g>
<g id="ytick_108">
<g id="line2d_393">
<g>
<path d="M 0 0 L 1.8 0" transform="translate(291.70 446.58)" style="fill: #555555; stroke: #555555; stroke: #555555"/>
</g>
</g>
<g id="line2d_394">
<g>
<path d="M 0 0 L -1.8 0" transform="translate(352.20 446.58)" style="fill: #555555; stroke: #555555; stroke: #555555"/>
</g>
</g>
</g>
<g id="ytick_109">
<g id="line2d_395">
<g>
<path d="M 0 0 L 1.8 0" transform="translate(291.70 440.42)" style="fill: #555555; stroke: #555555; stroke: #555555"/>
</g>
</g>
<g id="line2d_396">
<g>
<path d="M 0 0 L -1.8 0" transform="translate(352.20 440.42)" style="fill: #555555; stroke: #555555; stroke: #555555"/>
</g>
</g>
</g>
<g id="ytick_110">
<g id="line2d_397">
<g>
<path d="M 0 0 L 1.8 0" transform="translate(291.70 434.26)" style="fill: #555555; stroke: #555555; stroke: #555555"/>
</g>
</g>
<g id="line2d_398">
<g>
<path d="M 0 0 L -1.8 0" transform="translate(352.20 434.26)" style="fill: #555555; stroke: #555555; stroke: #555555"/>
</g>
</g>
</g>
<g id="ytick_111">
<g id="line2d_399">
<g>
<path d="M 0 0 L 1.8 0" transform="translate(291.70 428.10)" style="fill: #555555; stroke: #555555; stroke: #555555"/>
</g>
</g>
<g id="line2d_400">
<g>
<path d="M 0 0 L -1.8 0" transform="translate(352.20 428.10)" style="fill: #555555; stroke: #555555; stroke: #555555"/>
</g>
</g>
</g>
<g id="ytick_112">
<g id="line2d_401">
<g>
<path d="M 0 0 L 1.8 0" transform="translate(291.70 415.78)" style="fill: #555555; stroke: #555555; stroke: #555555"/>
</g>
</g>
<g id="line2d_402">
<g>
<path d="M 0 0 L -1.8 0" transform="translate(352.20 415.78)" style="fill: #555555; stroke: #555555; stroke: #555555"/>
</g>
</g>
</g>
<g id="ytick_113">
<g id="line2d_403">
<g>
<path d="M 0 0 L 1.8 0" transform="translate(291.70 409.62)" style="fill: #555555; stroke: #555555; stroke: #555555"/>
</g>
</g>
<g id="line2d_404">
<g>
<path d="M 0 0 L -1.8 0" transform="translate(352.20 409.62)" style="fill: #555555; stroke: #555555; stroke: #555555"/>
</g>
</g>
</g>
<g id="ytick_114">
<g id="line2d_405">
<g>
<path d="M 0 0 L 1.8 0" transform="translate(291.70 403.47)" style="fill: #555555; stroke: #555555; stroke: #555555"/>
</g>
</g>
<g id="line2d_406">
<g>
<path d="M 0 0 L -1.8 0" transform="translate(352.20 403.47)" style="fill: #555555; stroke: #555555; stroke: #555555"/>
</g>
</g>
</g>
<g id="ytick_115">
<g id="line2d_407">
<g>
<path d="M 0 0 L 1.8 0" transform="translate(291.70 397.31)" style="fill: #555555; stroke: #555555; stroke: #555555"/>
</g>
</g>
<g id="line2d_408">
<g>
<path d="M 0 0 L -1.8 0" transform="translate(352.20 397.31)" style="fill: #555555; stroke: #555555; stroke: #555555"/>
</g>
</g>
</g>
<g id="ytick_116">
<g id="line2d_409">
<g>
<path d="M 0 0 L 1.8 0" transform="translate(291.70 384.99)" style="fill: #555555; stroke: #555555; stroke: #555555"/>
</g>
</g>
<g id="line2d_410">
<g>
<path d="M 0 0 L -1.8 0" transform="translate(352.20 384.99)" style="fill: #555555; stroke: #555555; stroke: #555555"/>
</g>
</g>
</g>
<g id="ytick_117">
<g id="line2d_411">
<g>
<path d="M 0 0 L 1.8 0" transform="translate(291.70 378.83)" style="fill: #555555; stroke: #555555; stroke: #555555"/>
</g>
</g>
<g id="line2d_412">
<g>
<path d="M 0 0 L -1.8 0" transform="translate(352.20 378.83)" style="fill: #555555; stroke: #555555; stroke: #555555"/>
</g>
</g>
</g>
<g id="ytick_118">
<g id="line2d_413">
<g>
<path d="M 0 0 L 1.8 0" transform="translate(291.70 372.67)" style="fill: #555555; stroke: #555555; stroke: #555555"/>
</g>
</g>
<g id="line2d_414">
<g>
<path d="M 0 0 L -1.8 0" transform="translate(352.20 372.67)" style="fill: #555555; stroke: #555555; stroke: #555555"/>
</g>
</g>
</g>
<g id="ytick_119">
<g id="line2d_415">
<g>
<path d="M 0 0 L 1.8 0" transform="translate(291.70 366.51)" style="fill: #555555; stroke: #555555; stroke: #555555"/>
</g>
</g>
<g id="line2d_416">
<g>
<path d="M 0 0 L -1.8 0" transform="translate(352.20 366.51)" style="fill: #555555; stroke: #555555; stroke: #555555"/>
</g>
</g>
</g>
<g id="ytick_120">
<g id="line2d_417">
<g>
<path d="M 0 0 L 1.8 0" transform="translate(291.70 354.19)" style="fill: #555555; stroke: #555555; stroke: #555555"/>
</g>
</g>
<g id="line2d_418">
<g>
<path d="M 0 0 L -1.8 0" transform="translate(352.20 354.19)" style="fill: #555555; stroke: #555555; stroke: #555555"/>
</g>
</g>
</g>
<g id="ytick_121">
<g id="line2d_419">
<g>
<path d="M 0 0 L 1.8 0" transform="translate(291.70 348.03)" style="fill: #555555; stroke: #555555; stroke: #555555"/>
</g>
</g>
<g id="line2d_420">
<g>
<path d="M 0 0 L -1.8 0" transform="translate(352.20 348.03)" style="fill: #555555; stroke: #555555; stroke: #555555"/>
</g>
</g>
</g>
<g id="ytick_122">
<g id="line2d_421">
<g>
<path d="M 0 0 L 1.8 0" transform="translate(291.70 341.87)" style="fill: #555555; stroke: #555555; stroke: #555555"/>
</g>
</g>
<g id="line2d_422">
<g>
<path d="M 0 0 L -1.8 0" transform="translate(352.20 341.87)" style="fill: #555555; stroke: #555555; stroke: #555555"/>
</g>
</g>
</g>
<g id="ytick_123">
<g id="line2d_423">
<g>
<path d="M 0 0 L 1.8 0" transform="translate(291.70 335.71)" style="fill: #555555; stroke: #555555; stroke: #555555"/>
</g>
</g>
<g id="line2d_424">
<g>
<path d="M 0 0 L -1.8 0" transform="translate(352.20 335.71)" style="fill: #555555; stroke: #555555; stroke: #555555"/>
</g>
</g>
</g>
<g id="ytick_124">
<g id="line2d_425">
<g>
<path d="M 0 0 L 1.8 0" transform="translate(291.70 323.39)" style="fill: #555555; stroke: #555555; stroke: #555555"/>
</g>
</g>
<g id="line2d_426">
<g>
<path d="M 0 0 L -1.8 0" transform="translate(352.20 323.39)" style="fill: #555555; stroke: #555555; stroke: #555555"/>
</g>
</g>
</g>
<g id="ytick_125">
<g id="line2d_427">
<g>
<path d="M 0 0 L 1.8 0" transform="translate(291.70 317.23)" style="fill: #555555; stroke: #555555; stroke: #555555"/>
</g>
</g>
<g id="line2d_428">
<g>
<path d="M 0 0 L -1.8 0" transform="translate(352.20 317.23)" style="fill: #555555; stroke: #555555; stroke: #555555"/>
</g>
</g>
</g>
<g id="ytick_126">
<g id="line2d_429">
<g>
<path d="M 0 0 L 1.8 0" transform="translate(291.70 311.07)" style="fill: #555555; stroke: #555555; stroke: #555555"/>
</g>
</g>
<g id="line2d_430">
<g>
<path d="M 0 0 L -1.8 0" transform="translate(352.20 311.07)" style="fill: #555555; stroke: #555555; stroke: #555555"/>
</g>
</g>
</g>
<g id="ytick_127">
<g id="line2d_431">
<g>
<path d="M 0 0 L 1.8 0" transform="translate(291.70 304.92)" style="fill: #555555; stroke: #555555; stroke: #555555"/>
</g>
</g>
<g id="line2d_432">
<g>
<path d="M 0 0 L -1.8 0" transform="translate(352.20 304.92)" style="fill: #555555; stroke: #555555; stroke: #555555"/>
</g>
</g>
</g>
<g id="ytick_128">
<g id="line2d_433">
<g>
<path d="M 0 0 L 1.8 0" transform="translate(291.70 292.60)" style="fill: #555555; stroke: #555555; stroke: #555555"/>
</g>
</g>
<g id="line2d_434">
<g>
<path d="M 0 0 L -1.8 0" transform="translate(352.20 292.60)" style="fill: #555555; stroke: #555555; stroke: #555555"/>
</g>
</g>
</g>
<g id="ytick_129">
<g id="line2d_435">
<g>
<path d="M 0 0 L 1.8 0" transform="translate(291.70 286.44)" style="fill: #555555; stroke: #555555; stroke: #555555"/>
</g>
</g>
<g id="line2d_436">
<g>
<path d="M 0 0 L -1.8 0" transform="translate(352.20 286.44)" style="fill: #555555; stroke: #555555; stroke: #555555"/>
</g>
</g>
</g>
<g id="ytick_130">
<g id="line2d_437">
<g>
<path d="M 0 0 L 1.8 0" transform="translate(291.70 280.28)" style="fill: #555555; stroke: #555555; stroke: #555555"/>
</g>
</g>
<g id="line2d_438">
<g>
<path d="M 0 0 L -1.8 0" transform="translate(352.20 280.28)" style="fill: #555555; stroke: #555555; stroke: #555555"/>
</g>
</g>
</g>
<g id="ytick_131">
<g id="line2d_439">
<g>
<path d="M 0 0 L 1.8 0" transform="translate(291.70 274.12)" style="fill: #555555; stroke: #555555; stroke: #555555"/>
</g>
</g>
<g id="line2d_440">
<g>
<path d="M 0 0 L -1.8 0" transform="translate(352.20 274.12)" style="fill: #555555; stroke: #555555; stroke: #555555"/>
</g>
</g>
</g>
<g id="ytick_132">
<g id="line2d_441">
<g>
<path d="M 0 0 L 1.8 0" transform="translate(291.70 261.80)" style="fill: #555555; stroke: #555555; stroke: #555555"/>
</g>
</g>
<g id="line2d_442">
<g>
<path d="M 0 0 L -1.8 0" transform="translate(352.20 261.80)" style="fill: #555555; stroke: #555555; stroke: #555555"/>
</g>
</g>
</g>
</g>
<g id="patch_28">
<path d="M 291.7 458.9 
L 291.7 261.8 
" style="fill: none; stroke: #555555; stroke-linejoin: miter; stroke-linecap: square"/>
</g>
<g id="patch_29">
<path d="M 352.2 458.9 
L 352.2 261.8 
" style="fill: none; stroke: #555555; stroke-linejoin: miter; stroke-linecap: square"/>
</g>
<g id="patch_30">
<path d="M 291.7 458.9 
L 352.2 458.9 
" style="fill: none; stroke: #555555; stroke-linejoin: miter; stroke-linecap: square"/>
</g>
<g id="patch_31">
<path d="M 291.7 261.8 
L 352.2 261.8 
" style="fill: none; stroke: #555555; stroke-linejoin: miter; stroke-linecap: square"/>
</g>
<g id="patch_32">
<path d="M 291.7 452.74 
L 296.2 452.74 
L 296.2 434.26 
L 300.8 434.26 
L 300.8 415.78 
L 305.2 415.78 
L 305.2 397.31 
L 323.3 397.31 
L 323.3 378.83 
L 340.9 378.83 
L 340.9 360.35 
L 333.1 360.35 
L 333.1 341.87 
L 307.8 341.87 
L 307.8 323.39 
L 303.3 323.39 
L 303.3 304.92 
L 297.5 304.92 
L 297.5 286.44 
L 295.2 286.44 
L 295.2 267.96 
L 291.7 267.96 
" clip-path="url(#pe453752fad)" style="fill: #62a0ca; stroke: #62a0ca; stroke-linejoin: miter"/>
</g>
<g id="patch_33">
<path d="M 291.7 452.74 
L 296.2 452.74 
L 296.2 434.26 
L 307.1 434.26 
L 307.1 415.78 
L 307.1 415.78 
L 307.1 397.31 
L 335.2 397.31 
L 335.2 378.83 
L 335.2 378.83 
L 335.2 360.35 
L 328.3 360.35 
L 328.3 341.87 
L 305.5 341.87 
L 305.5 323.39 
L 303.3 323.39 
L 303.3 304.92 
L 297.3 304.92 
L 297.3 286.44 
L 293.6 286.44 
L 293.6 267.96 
L 291.7 267.96 
" clip-path="url(#pe453752fad)" style="fill: none; stroke-dasharray: 9.6,2.4,1.5,2.4; stroke-dashoffset: 0; stroke: #808080; stroke-width: 1.5; stroke-linejoin: miter"/>
</g>
<g id="patch_34">
<path d="M 291.7 452.74 
L 291.7 452.74 
L 291.7 434.26 
L 291.7 434.26 
L 291.7 415.78 
L 291.7 415.78 
L 291.7 397.31 
L 297.4 397.31 
L 297.4 378.83 
L 320.3 378.83 
L 320.3 360.35 
L 349.1 360.35 
L 349.1 341.87 
L 343.8 341.87 
L 343.8 323.39 
L 314.4 323.39 
L 314.4 304.92 
L 314.6 304.92 
L 314.6 286.44 
L 291.7 286.44 
L 291.7 267.96 
L 291.7 267.96 
" clip-path="url(#pe453752fad)" style="fill: none; stroke-dasharray: 5.55,2.4; stroke-dashoffset: 0; stroke: #d62728; stroke-width: 1.5; stroke-linejoin: miter"/>
</g>
<g id="line2d_443">
<path d="M 291.7 341.8 
L 352.2 341.8 
" clip-path="url(#pe453752fad)" style="fill: none; stroke-dasharray: 5.55,2.4; stroke-dashoffset: 0; stroke: #d62728; stroke-width: 1.5"/>
</g>
<g id="line2d_444">
<path d="M 291.7 363.9 
L 352.2 363.9 
" clip-path="url(#pe453752fad)" style="fill: none; stroke: #1f77b4; stroke-width: 1.5; stroke-linecap: square"/>
</g>
<g id="line2d_445">
<path d="M 291.7 368 
L 352.2 368 
" clip-path="url(#pe453752fad)" style="fill: none; stroke-dasharray: 9.6,2.4,1.5,2.4; stroke-dashoffset: 0; stroke: #808080; stroke-width: 1.5"/>
</g>
</g>
</g>
<defs>
<clipPath id="p415a4f59f0">
<rect x="41.1" y="0.5" width="242.9" height="49.1"/>
</clipPath>
<clipPath id="p4fbd7197ea">
<rect x="41.1" y="57.2" width="242.9" height="197.3"/>
</clipPath>
<clipPath id="p349a65ac7e">
<rect x="41.1" y="261.8" width="242.9" height="197.1"/>
</clipPath>
<clipPath id="p54e578819f">
<rect x="291.7" y="57.2" width="60.5" height="197.3"/>
</clipPath>
<clipPath id="pe453752fad">
<rect x="291.7" y="261.8" width="60.5" height="197.1"/>
</clipPath>
</defs>
</svg>

</body></html>
